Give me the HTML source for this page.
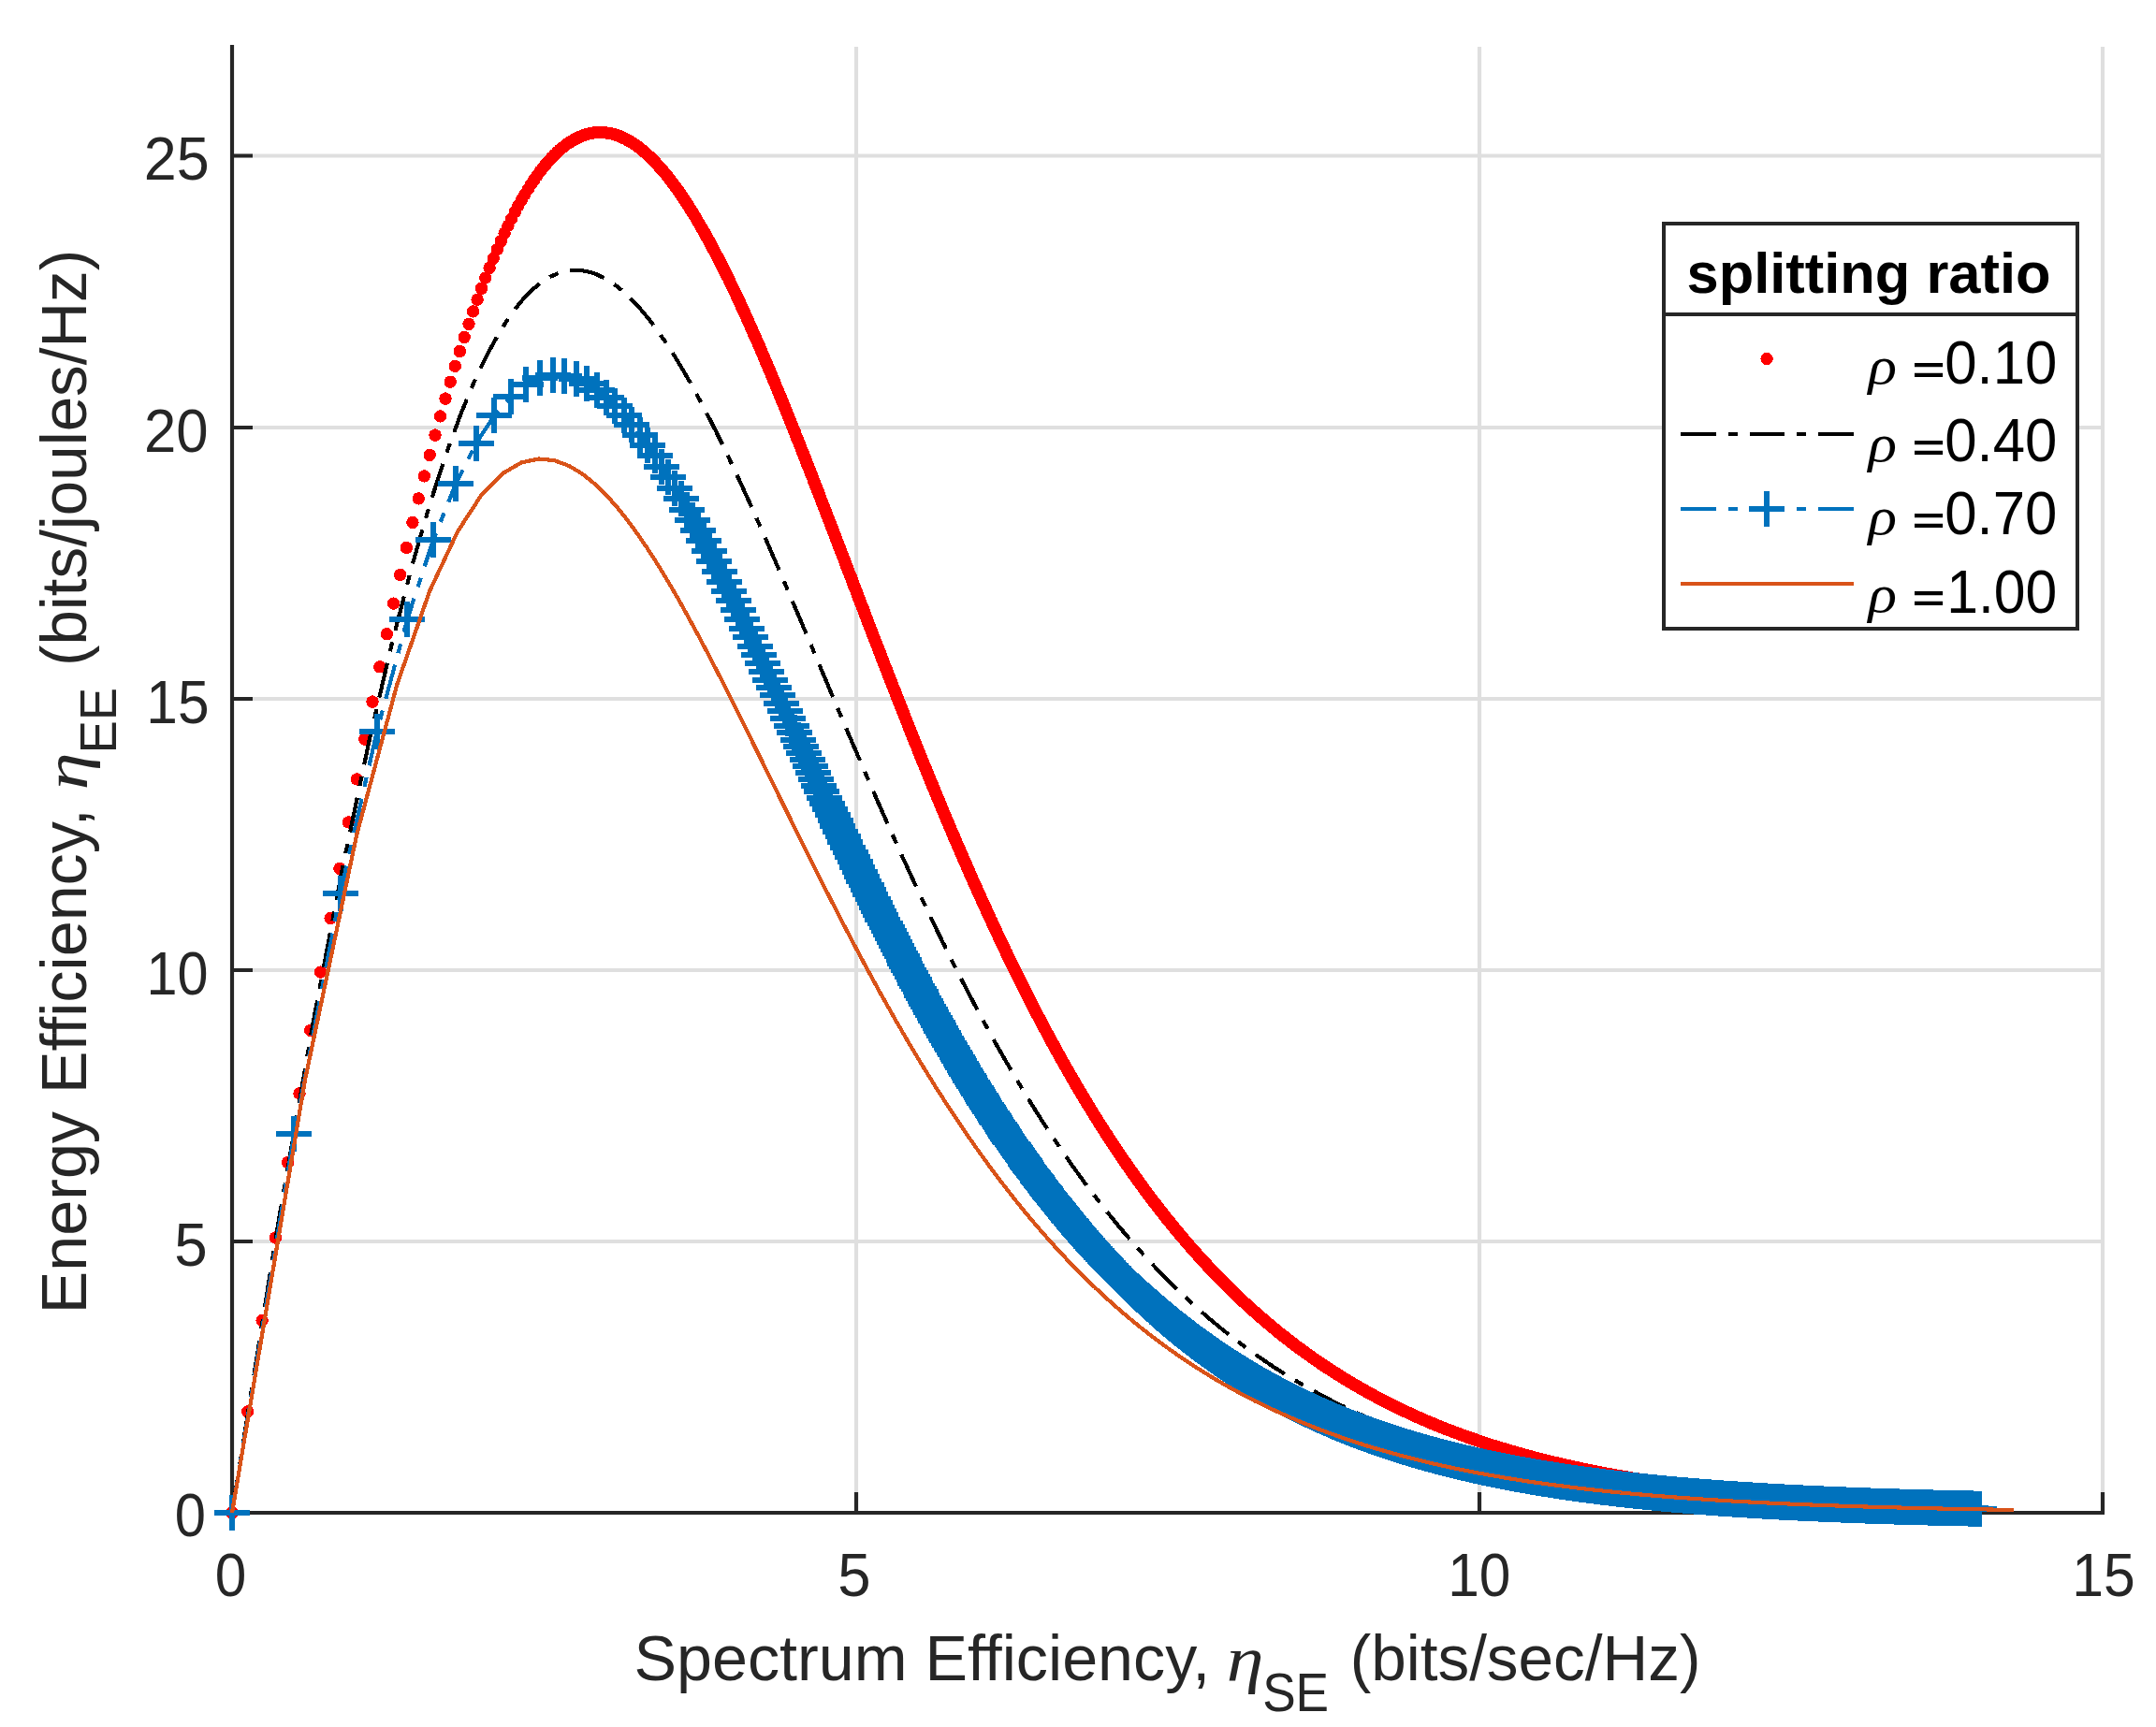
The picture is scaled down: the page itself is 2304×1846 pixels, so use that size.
<!DOCTYPE html>
<html><head><meta charset="utf-8"><title>EE vs SE</title>
<style>html,body{margin:0;padding:0;background:#fff;overflow:hidden}svg{display:block}</style></head><body>
<svg width="2304" height="1846" viewBox="0 0 2304 1846" font-family="'Liberation Sans',sans-serif">
<rect width="2304" height="1846" fill="#fff"/>
<path d="M915,50V1617.0M1581,50V1617.0M2247,50V1617.0M248.0,1327H2247.0M248.0,1037H2247.0M248.0,747H2247.0M248.0,457H2247.0M248.0,166.5H2247.0" stroke="#dfdfdf" stroke-width="4.17" fill="none"/>
<path d="M248.0,48V1617.0M246.0,1617.0H2249.0M915,1617.0v-22M1581,1617.0v-22M2247,1617.0v-22M248.0,1327h22M248.0,1037h22M248.0,747h22M248.0,457h22M248.0,166.5h22" stroke="#262626" stroke-width="4.17" fill="none"/>
<g shape-rendering="crispEdges">
<path d="M248,1617h0M264.7,1508.8h0M280.1,1411.4h0M294.4,1323h0M307.6,1242.6h0M320,1168.9h0M331.7,1101.4h0M342.7,1039.1h0M353.1,981.6h0M362.9,928.3h0M372.3,878.9h0M381.3,832.9h0M389.8,790.1h0M398,750.1h0M405.8,712.8h0M413.4,677.8h0M420.6,645.1h0M427.6,614.4h0M434.4,585.5h0M440.9,558.4h0M447.2,532.9h0M453.3,508.9h0M459.2,486.4h0M465,465.1h0M470.5,445h0M476,426.1h0M481.2,408.2h0M486.3,391.4h0M491.3,375.5h0M496.2,360.5h0M501,346.3h0M505.6,332.9h0M510.1,320.2h0M514.5,308.3h0M518.9,297h0M523.1,286.3h0M527.2,276.3h0M531.3,266.7h0M535.2,257.8h0M539.1,249.3h0M542.9,241.3h0M546.7,233.8h0M550.3,226.7h0M553.9,220h0M557.4,213.7h0M560.9,207.8h0M564.3,202.2h0M567.6,197h0M570.9,192.1h0M574.2,187.5h0M577.3,183.1h0M580.5,179.1h0M583.5,175.4h0M586.6,171.9h0M589.6,168.6h0M592.5,165.6h0M595.4,162.8h0M598.2,160.2h0M601,157.8h0M603.8,155.6h0M606.5,153.6h0M609.2,151.8h0M611.9,150.2h0M614.5,148.7h0M617.1,147.4h0M619.6,146.2h0M622.1,145.2h0M624.6,144.3h0M627.1,143.5h0M629.5,142.9h0M631.9,142.4h0M634.2,142h0M636.6,141.7h0M638.9,141.6h0M641.1,141.5h0M643.4,141.6h0M645.6,141.7h0M647.8,141.9h0M650,142.2h0M652.1,142.6h0M654.2,143.1h0M656.3,143.7h0M658.4,144.3h0M660.5,145h0M662.5,145.8h0M664.5,146.6h0M666.5,147.6h0M668.5,148.5h0M670.4,149.6h0M672.4,150.6h0M674.3,151.8h0M676.2,153h0M678.1,154.2h0M679.9,155.5h0M681.8,156.9h0M683.6,158.2h0M685.4,159.7h0M687.2,161.1h0M688.9,162.7h0M690.7,164.2h0M692.4,165.8h0M694.2,167.4h0M695.9,169.1h0M697.6,170.7h0M699.2,172.4h0M700.9,174.2h0M702.6,176h0M704.2,177.8h0M705.8,179.6h0M707.4,181.4h0M709,183.3h0M710.6,185.2h0M712.2,187.1h0M713.7,189.1h0M715.3,191h0M716.8,193h0M718.3,195h0M719.8,197h0M721.3,199.1h0M722.8,201.1h0M724.3,203.2h0M725.8,205.2h0M727.2,207.3h0M728.6,209.4h0M730.1,211.5h0M731.5,213.7h0M732.9,215.8h0M734.3,218h0M735.7,220.1h0M737.1,222.3h0M738.4,224.5h0M739.8,226.7h0M741.1,228.9h0M742.5,231.1h0M743.8,233.3h0M745.1,235.5h0M746.4,237.7h0M747.8,239.9h0M749,242.2h0M750.3,244.4h0M751.6,246.6h0M752.9,248.9h0M754.1,251.1h0M755.4,253.4h0M756.6,255.7h0M757.9,257.9h0M759.1,260.2h0M760.3,262.5h0M761.5,264.7h0M762.7,267h0M763.9,269.3h0M765.1,271.5h0M766.3,273.8h0M767.5,276.1h0M768.7,278.4h0M769.8,280.6h0M771,282.9h0M772.1,285.2h0M773.3,287.4h0M774.4,289.7h0M775.5,292h0M776.6,294.3h0M777.8,296.5h0M778.9,298.8h0M780,301.1h0M781.1,303.3h0M782.2,305.6h0M783.2,307.9h0M784.3,310.1h0M785.4,312.4h0M786.5,314.6h0M787.5,316.9h0M788.6,319.1h0M789.6,321.4h0M790.7,323.6h0M791.7,325.9h0M792.7,328.1h0M793.7,330.4h0M794.8,332.6h0M795.8,334.8h0M796.8,337h0M797.8,339.3h0M798.8,341.5h0M799.8,343.7h0M800.8,345.9h0M801.8,348.1h0M802.7,350.3h0M803.7,352.5h0M804.7,354.7h0M805.6,356.9h0M806.6,359.1h0M807.6,361.3h0M808.5,363.4h0M809.5,365.6h0M810.4,367.8h0M811.3,369.9h0M812.3,372.1h0M813.2,374.3h0M814.1,376.4h0M815,378.6h0M815.9,380.7h0M816.8,382.8h0M817.8,385h0M818.7,387.1h0M819.5,389.2h0M820.4,391.3h0M821.3,393.4h0M822.2,395.5h0M823.1,397.6h0M824,399.7h0M824.8,401.8h0M825.7,403.9h0M826.6,406h0M827.4,408.1h0M828.3,410.1h0M829.1,412.2h0M830,414.2h0M830.8,416.3h0M831.7,418.3h0M832.5,420.4h0M833.3,422.4h0M834.2,424.5h0M835,426.5h0M835.8,428.5h0M836.7,430.5h0M837.5,432.5h0M838.3,434.5h0M839.1,436.5h0M839.9,438.5h0M840.7,440.5h0M841.5,442.5h0M842.3,444.5h0M843.1,446.5h0M843.9,448.4h0M844.7,450.4h0M845.4,452.3h0M846.2,454.3h0M847,456.2h0M847.8,458.2h0M848.5,460.1h0M849.3,462h0M850.1,464h0M850.8,465.9h0M851.6,467.8h0M852.4,469.7h0M853.1,471.6h0M853.9,473.5h0M854.6,475.4h0M855.3,477.3h0M856.1,479.1h0M856.8,481h0M857.6,482.9h0M858.3,484.7h0M859,486.6h0M859.7,488.5h0M860.5,490.3h0M861.2,492.1h0M861.9,494h0M862.6,495.8h0M863.3,497.6h0M864.1,499.5h0M864.8,501.3h0M865.5,503.1h0M866.2,504.9h0M866.9,506.7h0M867.6,508.5h0M868.3,510.3h0M869,512h0M869.6,513.8h0M870.3,515.6h0M871,517.4h0M871.7,519.1h0M872.4,520.9h0M873.1,522.6h0M873.7,524.4h0M874.4,526.1h0M875.1,527.9h0M875.8,529.6h0M876.4,531.3h0M877.1,533h0M877.7,534.7h0M878.4,536.5h0M879.1,538.2h0M879.7,539.9h0M880.4,541.6h0M881,543.2h0M881.7,544.9h0M882.3,546.6h0M883,548.3h0M883.6,550h0M884.2,551.6h0M884.9,553.3h0M885.5,554.9h0M886.1,556.6h0M886.8,558.2h0M887.4,559.9h0M888,561.5h0M888.7,563.1h0M889.3,564.8h0M889.9,566.4h0M890.5,568h0M891.1,569.6h0M891.8,571.2h0M892.4,572.8h0M893,574.4h0M893.6,576h0M894.2,577.6h0M894.8,579.2h0M895.4,580.7h0M896,582.3h0M896.6,583.9h0M897.2,585.5h0M897.8,587h0M898.4,588.6h0M899,590.1h0M899.6,591.7h0M900.2,593.2h0M900.8,594.7h0M901.3,596.3h0M901.9,597.8h0M902.5,599.3h0M903.1,600.8h0M903.7,602.3h0M904.2,603.9h0M904.8,605.4h0M905.4,606.9h0M906,608.4h0M906.5,609.8h0M907.1,611.3h0M907.7,612.8h0M908.2,614.3h0M908.8,615.8h0M909.4,617.2h0M909.9,618.7h0M910.5,620.2h0M911,621.6h0M911.6,623.1h0M912.1,624.5h0M912.7,626h0M913.2,627.4h0M913.8,628.8h0M914.3,630.3h0M914.9,631.7h0M915.4,633.1h0M916,634.5h0M916.5,635.9h0M917,637.4h0M917.6,638.8h0M918.1,640.2h0M918.7,641.6h0M919.2,643h0M919.7,644.3h0M920.2,645.7h0M920.8,647.1h0M921.3,648.5h0M921.8,649.9h0M922.4,651.2h0M922.9,652.6h0M923.4,654h0M923.9,655.3h0M924.4,656.7h0M925,658h0M925.5,659.4h0M926,660.7h0M926.5,662h0M927,663.4h0M927.5,664.7h0M928,666h0M928.5,667.4h0M929,668.7h0M929.6,670h0M930.1,671.3h0M930.6,672.6h0M931.1,673.9h0M931.6,675.2h0M932.1,676.5h0M932.6,677.8h0M933.1,679.1h0M933.5,680.4h0M934,681.7h0M934.5,683h0M935,684.2h0M935.5,685.5h0M936,686.8h0M936.5,688h0M937,689.3h0M937.5,690.5h0M937.9,691.8h0M938.4,693.1h0M938.9,694.3h0M939.4,695.5h0M939.9,696.8h0M940.3,698h0M940.8,699.3h0M941.3,700.5h0M941.8,701.7h0M942.2,702.9h0M942.7,704.1h0M943.2,705.4h0M943.7,706.6h0M944.1,707.8h0M944.6,709h0M945.1,710.2h0M945.5,711.4h0M946,712.6h0M946.5,713.8h0M946.9,715h0M947.4,716.2h0M947.8,717.3h0M948.3,718.5h0M948.7,719.7h0M949.2,720.9h0M949.7,722h0M950.1,723.2h0M950.6,724.4h0M951,725.5h0M951.5,726.7h0M951.9,727.8h0M952.4,729h0M952.8,730.1h0M953.3,731.3h0M953.7,732.4h0M954.2,733.6h0M954.6,734.7h0M955,735.8h0M955.5,737h0M955.9,738.1h0M956.4,739.2h0M956.8,740.3h0M957.2,741.4h0M957.7,742.6h0M958.1,743.7h0M958.5,744.8h0M959,745.9h0M959.4,747h0M959.8,748.1h0M960.3,749.2h0M960.7,750.3h0M961.1,751.4h0M961.6,752.5h0M962,753.5h0M962.4,754.6h0M962.8,755.7h0M963.3,756.8h0M963.7,757.9h0M964.1,758.9h0M964.5,760h0M964.9,761.1h0M965.4,762.1h0M965.8,763.2h0M966.2,764.2h0M966.6,765.3h0M967,766.3h0M967.4,767.4h0M967.9,768.4h0M968.3,769.5h0M968.7,770.5h0M969.1,771.6h0M969.5,772.6h0M969.9,773.6h0M970.3,774.7h0M970.7,775.7h0M971.1,776.7h0M971.5,777.7h0M972,778.7h0M972.4,779.8h0M972.8,780.8h0M973.2,781.8h0M973.6,782.8h0M974,783.8h0M974.4,784.8h0M974.8,785.8h0M975.2,786.8h0M975.6,787.8h0M976,788.8h0M976.4,789.8h0M976.7,790.8h0M977.1,791.8h0M977.5,792.7h0M977.9,793.7h0M978.3,794.7h0M978.7,795.7h0M979.1,796.6h0M979.5,797.6h0M979.9,798.6h0M980.3,799.5h0M980.7,800.5h0M981,801.5h0M981.4,802.4h0M981.8,803.4h0M982.2,804.3h0M982.6,805.3h0M983,806.2h0M983.3,807.2h0M983.7,808.1h0M984.1,809.1h0M984.5,810h0M984.9,811h0M985.2,811.9h0M985.6,812.8h0M986,813.7h0M986.4,814.7h0M986.7,815.6h0M987.1,816.5h0M987.5,817.4h0M987.9,818.4h0M988.2,819.3h0M988.6,820.2h0M989,821.1h0M989.4,822h0M989.7,822.9h0M990.1,823.8h0M990.5,824.7h0M990.8,825.6h0M991.2,826.5h0M991.6,827.4h0M991.9,828.3h0M992.3,829.2h0M992.7,830.1h0M993,831h0M993.4,831.9h0M993.7,832.8h0M994.1,833.7h0M994.5,834.5h0M994.8,835.4h0M995.2,836.3h0M995.5,837.2h0M995.9,838h0M996.3,838.9h0M996.6,839.8h0M997,840.6h0M997.3,841.5h0M997.7,842.4h0M998,843.2h0M998.4,844.1h0M998.7,844.9h0M999.1,845.8h0M999.4,846.6h0M999.8,847.5h0M1000.1,848.3h0M1000.5,849.2h0M1000.8,850h0M1001.2,850.9h0M1001.5,851.7h0M1001.9,852.5h0M1002.2,853.4h0M1002.6,854.2h0M1002.9,855h0M1003.3,855.9h0M1003.6,856.7h0M1003.9,857.5h0M1004.3,858.3h0M1004.6,859.2h0M1005,860h0M1005.3,860.8h0M1005.7,861.6h0M1006,862.4h0M1006.3,863.2h0M1006.7,864h0M1007,864.8h0M1007.3,865.7h0M1007.7,866.5h0M1008,867.3h0M1008.3,868.1h0M1008.7,868.9h0M1009,869.7h0M1009.4,870.5h0M1009.7,871.2h0M1010,872h0M1010.3,872.8h0M1010.7,873.6h0M1011,874.4h0M1011.3,875.2h0M1011.7,876h0M1012,876.7h0M1012.3,877.5h0M1012.7,878.3h0M1013,879.1h0M1013.3,879.9h0M1013.6,880.6h0M1014,881.4h0M1014.3,882.2h0M1014.6,882.9h0M1014.9,883.7h0M1015.3,884.5h0M1015.6,885.2h0M1015.9,886h0M1016.2,886.7h0M1016.5,887.5h0M1016.9,888.2h0M1017.2,889h0M1017.5,889.8h0M1017.8,890.5h0M1018.1,891.3h0M1018.5,892h0M1018.8,892.7h0M1019.1,893.5h0M1019.4,894.2h0M1019.7,895h0M1020,895.7h0M1020.4,896.4h0M1020.7,897.2h0M1021,897.9h0M1021.3,898.6h0M1021.6,899.4h0M1021.9,900.1h0M1022.2,900.8h0M1022.6,901.6h0M1022.9,902.3h0M1023.2,903h0M1023.5,903.7h0M1023.8,904.4h0M1024.1,905.2h0M1024.4,905.9h0M1024.7,906.6h0M1025,907.3h0M1025.3,908h0M1025.6,908.7h0M1025.9,909.4h0M1026.2,910.1h0M1026.6,910.8h0M1026.9,911.5h0M1027.2,912.2h0M1027.5,912.9h0M1027.8,913.6h0M1028.1,914.3h0M1028.4,915h0M1028.7,915.7h0M1029,916.4h0M1029.3,917.1h0M1029.6,917.8h0M1029.9,918.5h0M1030.2,919.2h0M1030.5,919.9h0M1030.8,920.6h0M1031.1,921.2h0M1031.4,921.9h0M1031.7,922.6h0M1032,923.3h0M1032.3,924h0M1032.6,924.6h0M1032.8,925.3h0M1033.1,926h0M1033.4,926.7h0M1033.7,927.3h0M1034,928h0M1034.3,928.7h0M1034.6,929.3h0M1034.9,930h0M1035.2,930.6h0M1035.5,931.3h0M1035.8,932h0M1036.1,932.6h0M1036.4,933.3h0M1036.6,933.9h0M1036.9,934.6h0M1037.2,935.3h0M1037.5,935.9h0M1037.8,936.6h0M1038.1,937.2h0M1038.4,937.9h0M1038.7,938.5h0M1038.9,939.1h0M1039.2,939.8h0M1039.5,940.4h0M1039.8,941.1h0M1040.1,941.7h0M1040.4,942.4h0M1040.6,943h0M1040.9,943.6h0M1041.2,944.3h0M1041.5,944.9h0M1041.8,945.5h0M1042.1,946.2h0M1042.3,946.8h0M1042.6,947.4h0M1042.9,948h0M1043.2,948.7h0M1043.5,949.3h0M1043.7,949.9h0M1044,950.5h0M1044.3,951.2h0M1044.6,951.8h0M1044.8,952.4h0M1045.1,953h0M1045.4,953.6h0M1045.7,954.2h0M1046,954.9h0M1046.2,955.5h0M1046.5,956.1h0M1046.8,956.7h0M1047.1,957.3h0M1047.3,957.9h0M1047.6,958.5h0M1047.9,959.1h0M1048.1,959.7h0M1048.4,960.3h0M1048.7,960.9h0M1049,961.5h0M1049.2,962.1h0M1049.5,962.7h0M1049.8,963.3h0M1050,963.9h0M1050.3,964.5h0M1050.6,965.1h0M1050.8,965.7h0M1051.1,966.3h0M1051.4,966.9h0M1051.7,967.5h0M1051.9,968h0M1052.2,968.6h0M1052.5,969.2h0M1052.7,969.8h0M1053,970.4h0M1053.3,971h0M1053.5,971.5h0M1053.8,972.1h0M1054,972.7h0M1054.3,973.3h0M1054.6,973.9h0M1054.8,974.4h0M1055.1,975h0M1055.4,975.6h0M1055.6,976.1h0M1055.9,976.7h0M1056.1,977.3h0M1056.4,977.9h0M1056.7,978.4h0M1056.9,979h0M1057.2,979.6h0M1057.4,980.1h0M1057.7,980.7h0M1058,981.2h0M1058.2,981.8h0M1058.5,982.4h0M1058.7,982.9h0M1059,983.5h0M1059.3,984h0M1059.5,984.6h0M1059.8,985.1h0M1060,985.7h0M1060.3,986.2h0M1060.5,986.8h0M1060.8,987.3h0M1061,987.9h0M1061.3,988.4h0M1061.6,989h0M1061.8,989.5h0M1062.1,990.1h0M1062.3,990.6h0M1062.6,991.2h0M1062.8,991.7h0M1063.1,992.3h0M1063.3,992.8h0M1063.6,993.3h0M1063.8,993.9h0M1064.1,994.4h0M1064.3,994.9h0M1064.6,995.5h0M1064.8,996h0M1065.1,996.5h0M1065.3,997.1h0M1065.6,997.6h0M1065.8,998.1h0M1066.1,998.7h0M1066.3,999.2h0M1066.6,999.7h0M1066.8,1000.2h0M1067.1,1000.8h0M1067.3,1001.3h0M1067.6,1001.8h0M1067.8,1002.3h0M1068,1002.9h0M1068.3,1003.4h0M1068.5,1003.9h0M1068.8,1004.4h0M1069,1004.9h0M1069.3,1005.4h0M1069.5,1006h0M1069.8,1006.5h0M1070,1007h0M1070.2,1007.5h0M1070.5,1008h0M1070.7,1008.5h0M1071,1009h0M1071.2,1009.5h0M1071.5,1010h0M1071.7,1010.6h0M1071.9,1011.1h0M1072.2,1011.6h0M1072.4,1012.1h0M1072.7,1012.6h0M1072.9,1013.1h0M1073.1,1013.6h0M1073.4,1014.1h0M1073.6,1014.6h0M1073.9,1015.1h0M1074.1,1015.6h0M1074.3,1016.1h0M1074.6,1016.6h0M1074.8,1017.1h0M1075,1017.6h0M1075.3,1018h0M1075.5,1018.5h0M1075.7,1019h0M1076,1019.5h0M1076.2,1020h0M1076.5,1020.5h0M1076.7,1021h0M1076.9,1021.5h0M1077.2,1022h0M1077.4,1022.4h0M1077.6,1022.9h0M1077.9,1023.4h0M1078.1,1023.9h0M1078.3,1024.4h0M1078.6,1024.9h0M1078.8,1025.3h0M1079,1025.8h0M1079.3,1026.3h0M1079.5,1026.8h0M1079.7,1027.3h0M1079.9,1027.7h0M1080.2,1028.2h0M1080.4,1028.7h0M1080.6,1029.2h0M1080.9,1029.6h0M1081.1,1030.1h0M1081.3,1030.6h0M1081.6,1031h0M1081.8,1031.5h0M1082,1032h0M1082.2,1032.4h0M1082.5,1032.9h0M1082.7,1033.4h0M1082.9,1033.8h0M1083.2,1034.3h0M1083.4,1034.8h0M1083.6,1035.2h0M1083.8,1035.7h0M1084.1,1036.2h0M1084.3,1036.6h0M1084.5,1037.1h0M1084.7,1037.5h0M1085,1038h0M1085.2,1038.5h0M1085.4,1038.9h0M1085.6,1039.4h0M1085.9,1039.8h0M1086.1,1040.3h0M1086.3,1040.7h0M1086.5,1041.2h0M1086.8,1041.6h0M1087,1042.1h0M1087.2,1042.5h0M1087.4,1043h0M1087.6,1043.4h0M1087.9,1043.9h0M1088.1,1044.3h0M1088.3,1044.8h0M1088.5,1045.2h0M1088.7,1045.7h0M1089,1046.1h0M1089.2,1046.6h0M1089.4,1047h0M1089.6,1047.4h0M1089.8,1047.9h0M1090.1,1048.3h0M1090.3,1048.8h0M1090.5,1049.2h0M1090.7,1049.6h0M1090.9,1050.1h0M1091.2,1050.5h0M1091.4,1050.9h0M1091.6,1051.4h0M1091.8,1051.8h0M1092,1052.3h0M1092.2,1052.7h0M1092.5,1053.1h0M1092.7,1053.6h0M1092.9,1054h0M1093.1,1054.4h0M1093.3,1054.8h0M1093.5,1055.3h0M1093.8,1055.7h0M1094,1056.1h0M1094.2,1056.6h0M1094.4,1057h0M1094.6,1057.4h0M1094.8,1057.8h0M1095,1058.3h0M1095.2,1058.7h0M1095.5,1059.1h0M1095.7,1059.5h0M1095.9,1059.9h0M1096.1,1060.4h0M1096.3,1060.8h0M1096.5,1061.2h0M1096.7,1061.6h0M1096.9,1062h0M1097.2,1062.5h0M1097.4,1062.9h0M1097.6,1063.3h0M1097.8,1063.7h0M1098,1064.1h0M1098.2,1064.5h0M1098.4,1064.9h0M1098.6,1065.4h0M1098.8,1065.8h0M1099,1066.2h0M1099.3,1066.6h0M1099.5,1067h0M1099.7,1067.4h0M1099.9,1067.8h0M1100.1,1068.2h0M1100.3,1068.6h0M1100.5,1069h0M1100.7,1069.4h0M1100.9,1069.8h0M1101.1,1070.3h0M1101.3,1070.7h0M1101.5,1071.1h0M1101.7,1071.5h0M1102,1071.9h0M1102.2,1072.3h0M1102.4,1072.7h0M1102.6,1073.1h0M1102.8,1073.5h0M1103,1073.9h0M1103.2,1074.3h0M1103.4,1074.7h0M1103.6,1075.1h0M1103.8,1075.5h0M1104,1075.8h0M1104.2,1076.2h0M1104.4,1076.6h0M1104.6,1077h0M1104.8,1077.4h0M1105,1077.8h0M1105.2,1078.2h0M1105.4,1078.6h0M1105.6,1079h0M1105.8,1079.4h0M1106,1079.8h0M1106.2,1080.2h0M1106.4,1080.5h0M1106.6,1080.9h0M1106.8,1081.3h0M1107,1081.7h0M1107.2,1082.1h0M1107.4,1082.5h0M1107.6,1082.9h0M1107.8,1083.2h0M1108,1083.6h0M1108.2,1084h0M1108.4,1084.4h0M1108.6,1084.8h0M1108.8,1085.2h0M1109,1085.5h0M1109.2,1085.9h0M1109.4,1086.3h0M1109.6,1086.7h0M1109.8,1087h0M1110,1087.4h0M1110.2,1087.8h0M1110.4,1088.2h0M1110.6,1088.6h0M1110.8,1088.9h0M1111,1089.3h0M1111.2,1089.7h0M1111.4,1090h0M1111.6,1090.4h0M1111.8,1090.8h0M1112,1091.2h0M1112.2,1091.5h0M1112.4,1091.9h0M1112.6,1092.3h0M1112.8,1092.6h0M1113,1093h0M1113.1,1093.4h0M1113.3,1093.7h0M1113.5,1094.1h0M1113.7,1094.5h0M1113.9,1094.8h0M1114.1,1095.2h0M1114.3,1095.6h0M1114.5,1095.9h0M1114.7,1096.3h0M1114.9,1096.7h0M1115.1,1097h0M1115.3,1097.4h0M1115.5,1097.8h0M1115.7,1098.1h0M1115.8,1098.5h0M1116,1098.8h0M1116.2,1099.2h0M1116.4,1099.6h0M1116.6,1099.9h0M1116.8,1100.3h0M1117,1100.6h0M1117.2,1101h0M1117.4,1101.3h0M1117.6,1101.7h0M1117.8,1102h0M1117.9,1102.4h0M1118.1,1102.8h0M1118.3,1103.1h0M1118.5,1103.5h0M1118.7,1103.8h0M1118.9,1104.2h0M1119.1,1104.5h0M1119.3,1104.9h0M1119.5,1105.2h0M1119.6,1105.6h0M1119.8,1105.9h0M1120,1106.3h0M1120.2,1106.6h0M1120.4,1107h0M1120.6,1107.3h0M1120.8,1107.7h0M1120.9,1108h0M1121.1,1108.3h0M1121.3,1108.7h0M1121.5,1109h0M1121.7,1109.4h0M1121.9,1109.7h0M1122.1,1110.1h0M1122.3,1110.4h0M1122.4,1110.7h0M1122.6,1111.1h0M1122.8,1111.4h0M1123,1111.8h0M1123.2,1112.1h0M1123.4,1112.5h0M1123.5,1112.8h0M1123.7,1113.1h0M1123.9,1113.5h0M1124.1,1113.8h0M1124.3,1114.1h0M1124.5,1114.5h0M1124.6,1114.8h0M1124.8,1115.1h0M1125,1115.5h0M1125.2,1115.8h0M1125.4,1116.2h0M1125.6,1116.5h0M1125.7,1116.8h0M1125.9,1117.2h0M1126.1,1117.5h0M1126.3,1117.8h0M1126.5,1118.1h0M1126.6,1118.5h0M1126.8,1118.8h0M1127,1119.1h0M1127.2,1119.5h0M1127.4,1119.8h0M1127.5,1120.1h0M1127.7,1120.5h0M1127.9,1120.8h0M1128.1,1121.1h0M1128.3,1121.4h0M1128.4,1121.8h0M1128.6,1122.1h0M1128.8,1122.4h0M1129,1122.7h0M1129.2,1123.1h0M1129.3,1123.4h0M1129.5,1123.7h0M1129.7,1124h0M1129.9,1124.3h0M1130.1,1124.7h0M1130.2,1125h0M1130.4,1125.3h0M1130.6,1125.6h0M1130.8,1126h0M1130.9,1126.3h0M1131.1,1126.6h0M1131.3,1126.9h0M1131.5,1127.2h0M1131.6,1127.5h0M1131.8,1127.9h0M1132,1128.2h0M1132.2,1128.5h0M1132.4,1128.8h0M1132.5,1129.1h0M1132.7,1129.4h0M1132.9,1129.8h0M1133.1,1130.1h0M1133.2,1130.4h0M1133.4,1130.7h0M1133.6,1131h0M1133.8,1131.3h0M1133.9,1131.6h0M1134.1,1131.9h0M1134.3,1132.3h0M1134.5,1132.6h0M1134.6,1132.9h0M1134.8,1133.2h0M1135,1133.5h0M1135.1,1133.8h0M1135.3,1134.1h0M1135.5,1134.4h0M1135.7,1134.7h0M1135.8,1135h0M1136,1135.3h0M1136.2,1135.6h0M1136.4,1136h0M1136.5,1136.3h0M1136.7,1136.6h0M1136.9,1136.9h0M1137,1137.2h0M1137.2,1137.5h0M1137.4,1137.8h0M1137.6,1138.1h0M1137.7,1138.4h0M1137.9,1138.7h0M1138.1,1139h0M1138.2,1139.3h0M1138.4,1139.6h0M1138.6,1139.9h0M1138.7,1140.2h0M1138.9,1140.5h0M1139.1,1140.8h0M1139.3,1141.1h0M1139.4,1141.4h0M1139.6,1141.7h0M1139.8,1142h0M1139.9,1142.3h0M1140.1,1142.6h0M1140.3,1142.9h0M1140.4,1143.2h0M1140.6,1143.5h0M1140.8,1143.8h0M1140.9,1144.1h0M1141.1,1144.4h0M1141.3,1144.6h0M1141.4,1144.9h0M1141.6,1145.2h0M1141.8,1145.5h0M1142,1145.8h0M1142.1,1146.1h0M1142.3,1146.4h0M1142.5,1146.7h0M1142.6,1147h0M1142.8,1147.3h0M1143,1147.6h0M1143.1,1147.9h0M1143.3,1148.1h0M1143.4,1148.4h0M1143.6,1148.7h0M1143.8,1149h0M1143.9,1149.3h0M1144.1,1149.6h0M1144.3,1149.9h0M1144.4,1150.2h0M1144.6,1150.4h0M1144.8,1150.7h0M1144.9,1151h0M1145.1,1151.3h0M1145.3,1151.6h0M1145.4,1151.9h0M1145.6,1152.2h0M1145.8,1152.4h0M1145.9,1152.7h0M1146.1,1153h0M1146.2,1153.3h0M1146.4,1153.6h0M1146.6,1153.8h0M1146.7,1154.1h0M1146.9,1154.4h0M1147.1,1154.7h0M1147.2,1155h0M1147.4,1155.2h0M1147.6,1155.5h0M1147.7,1155.8h0M1147.9,1156.1h0M1148,1156.4h0M1148.2,1156.6h0M1148.4,1156.9h0M1148.5,1157.2h0M1148.7,1157.5h0M1148.8,1157.7h0M1149,1158h0M1149.2,1158.3h0M1149.3,1158.6h0M1149.5,1158.9h0M1149.7,1159.1h0M1149.8,1159.4h0M1150,1159.7h0M1150.1,1159.9h0M1150.3,1160.2h0M1150.5,1160.5h0M1150.6,1160.8h0M1150.8,1161h0M1150.9,1161.3h0M1151.1,1161.6h0M1151.3,1161.9h0M1151.4,1162.1h0M1151.6,1162.4h0M1151.7,1162.7h0M1151.9,1162.9h0M1152,1163.2h0M1152.2,1163.5h0M1152.4,1163.7h0M1152.5,1164h0M1152.7,1164.3h0M1152.8,1164.5h0M1153,1164.8h0M1153.2,1165.1h0M1153.3,1165.3h0M1153.5,1165.6h0M1153.6,1165.9h0M1153.8,1166.1h0M1153.9,1166.4h0M1154.1,1166.7h0M1154.3,1166.9h0M1154.4,1167.2h0M1154.6,1167.5h0M1154.7,1167.7h0M1154.9,1168h0M1155,1168.3h0M1155.2,1168.5h0M1155.3,1168.8h0M1155.5,1169h0M1155.7,1169.3h0M1155.8,1169.6h0M1156,1169.8h0M1156.1,1170.1h0M1156.3,1170.3h0M1156.4,1170.6h0M1156.6,1170.9h0M1156.7,1171.1h0M1156.9,1171.4h0M1157.1,1171.6h0M1157.2,1171.9h0M1157.4,1172.2h0M1157.5,1172.4h0M1157.7,1172.7h0M1157.8,1172.9h0M1158,1173.2h0M1158.1,1173.4h0M1158.3,1173.7h0M1158.4,1174h0M1158.6,1174.2h0M1158.7,1174.5h0M1158.9,1174.7h0M1159.1,1175h0M1159.2,1175.2h0M1159.4,1175.5h0M1159.5,1175.7h0M1159.7,1176h0M1159.8,1176.2h0M1160,1176.5h0M1160.1,1176.7h0M1160.3,1177h0M1160.4,1177.2h0M1160.6,1177.5h0M1160.7,1177.8h0M1160.9,1178h0M1161,1178.3h0M1161.2,1178.5h0M1161.3,1178.8h0M1161.5,1179h0M1161.6,1179.3h0M1161.8,1179.5h0M1161.9,1179.7h0M1162.1,1180h0M1162.2,1180.2h0M1162.4,1180.5h0M1162.5,1180.7h0M1162.7,1181h0M1162.8,1181.2h0M1163,1181.5h0M1163.1,1181.7h0M1163.3,1182h0M1163.4,1182.2h0M1163.6,1182.5h0M1163.7,1182.7h0M1163.9,1182.9h0M1164,1183.2h0M1164.2,1183.4h0M1164.3,1183.7h0M1164.5,1183.9h0M1164.6,1184.2h0M1164.8,1184.4h0M1164.9,1184.7h0M1165.1,1184.9h0M1165.2,1185.1h0M1165.4,1185.4h0M1165.5,1185.6h0M1165.7,1185.9h0M1165.8,1186.1h0M1166,1186.3h0M1166.1,1186.6h0M1166.3,1186.8h0M1166.4,1187.1h0M1166.6,1187.3h0M1166.7,1187.5h0M1166.8,1187.8h0M1167,1188h0M1167.1,1188.3h0M1167.3,1188.5h0M1167.4,1188.7h0M1167.6,1189h0M1167.7,1189.2h0M1167.9,1189.4h0M1168,1189.7h0M1168.2,1189.9h0M1168.3,1190.1h0M1168.5,1190.4h0M1168.6,1190.6h0M1168.7,1190.9h0M1168.9,1191.1h0M1169,1191.3h0M1169.2,1191.6h0M1169.3,1191.8h0M1169.5,1192h0M1169.6,1192.3h0M1169.8,1192.5h0M1169.9,1192.7h0M1170.1,1193h0M1170.2,1193.2h0M1170.3,1193.4h0M1170.5,1193.6h0M1170.6,1193.9h0M1170.8,1194.1h0M1170.9,1194.3h0M1171.1,1194.6h0M1171.2,1194.8h0M1171.3,1195h0M1171.5,1195.3h0M1171.6,1195.5h0M1171.8,1195.7h0M1171.9,1195.9h0M1172.1,1196.2h0M1172.2,1196.4h0M1172.4,1196.6h0M1172.5,1196.9h0M1172.6,1197.1h0M1172.8,1197.3h0M1172.9,1197.5h0M1173.1,1197.8h0M1173.2,1198h0M1173.3,1198.2h0M1173.5,1198.4h0M1173.6,1198.7h0M1173.8,1198.9h0M1173.9,1199.1h0M1174.1,1199.3h0M1174.2,1199.6h0M1174.3,1199.8h0M1174.5,1200h0M1174.6,1200.2h0M1174.8,1200.5h0M1174.9,1200.7h0M1175,1200.9h0M1175.2,1201.1h0M1175.3,1201.4h0M1175.5,1201.6h0M1175.6,1201.8h0M1175.7,1202h0M1175.9,1202.2h0M1176,1202.5h0M1176.2,1202.7h0M1176.3,1202.9h0M1176.4,1203.1h0M1176.6,1203.3h0M1176.7,1203.6h0M1176.9,1203.8h0M1177,1204h0M1177.1,1204.2h0M1177.3,1204.4h0M1177.4,1204.7h0M1177.6,1204.9h0M1177.7,1205.1h0M1177.8,1205.3h0M1178,1205.5h0M1178.1,1205.8h0M1178.3,1206h0M1178.4,1206.2h0M1178.5,1206.4h0M1178.7,1206.6h0M1178.8,1206.8h0M1178.9,1207.1h0M1179.1,1207.3h0M1179.2,1207.5h0M1179.4,1207.7h0M1179.5,1207.9h0M1179.6,1208.1h0M1179.8,1208.3h0M1179.9,1208.6h0M1180,1208.8h0M1180.2,1209h0M1180.3,1209.2h0M1180.5,1209.4h0M1180.6,1209.6h0M1180.7,1209.8h0M1180.9,1210h0M1181,1210.3h0M1181.1,1210.5h0M1181.3,1210.7h0M1181.4,1210.9h0M1181.5,1211.1h0M1181.7,1211.3h0M1181.8,1211.5h0M1182,1211.7h0M1182.1,1211.9h0M1182.2,1212.2h0M1182.4,1212.4h0M1182.5,1212.6h0M1182.6,1212.8h0M1182.8,1213h0M1182.9,1213.2h0M1183,1213.4h0M1183.2,1213.6h0M1183.3,1213.8h0M1183.4,1214h0M1183.6,1214.2h0M1183.7,1214.5h0M1183.8,1214.7h0M1184,1214.9h0M1184.1,1215.1h0M1184.3,1215.3h0M1184.4,1215.5h0M1184.5,1215.7h0M1184.7,1215.9h0M1184.8,1216.1h0M1184.9,1216.3h0M1185.1,1216.5h0M1185.2,1216.7h0M1185.3,1216.9h0M1185.5,1217.1h0M1185.6,1217.3h0M1185.7,1217.5h0M1185.9,1217.7h0M1186,1217.9h0M1186.1,1218.1h0M1186.3,1218.3h0M1186.4,1218.6h0M1186.5,1218.8h0M1186.7,1219h0M1186.8,1219.2h0M1186.9,1219.4h0M1187,1219.6h0M1187.2,1219.8h0M1187.3,1220h0M1187.4,1220.2h0M1187.6,1220.4h0M1187.7,1220.6h0M1187.8,1220.8h0M1188,1221h0M1188.1,1221.2h0M1188.2,1221.4h0M1188.4,1221.6h0M1188.5,1221.8h0M1188.6,1222h0M1188.8,1222.2h0M1188.9,1222.4h0M1189,1222.6h0M1189.2,1222.8h0M1189.3,1223h0M1189.4,1223.2h0M1189.5,1223.4h0M1189.7,1223.6h0M1189.8,1223.7h0M1189.9,1223.9h0M1190.1,1224.1h0M1190.2,1224.3h0M1190.3,1224.5h0M1190.5,1224.7h0M1190.6,1224.9h0M1190.7,1225.1h0M1190.8,1225.3h0M1191,1225.5h0M1191.1,1225.7h0M1191.2,1225.9h0M1191.4,1226.1h0M1191.5,1226.3h0M1191.6,1226.5h0M1191.7,1226.7h0M1191.9,1226.9h0M1192,1227.1h0M1192.1,1227.3h0M1192.3,1227.5h0M1192.4,1227.6h0M1192.5,1227.8h0M1192.7,1228h0M1192.8,1228.2h0M1192.9,1228.4h0M1193,1228.6h0M1193.2,1228.8h0M1193.3,1229h0M1193.4,1229.2h0M1193.5,1229.4h0M1193.7,1229.6h0M1193.8,1229.8h0M1193.9,1229.9h0M1194.1,1230.1h0M1194.2,1230.3h0M1194.3,1230.5h0M1194.4,1230.7h0M1181.5,1211.1L1182,1211.7L1182.4,1212.4L1182.8,1213L1183.2,1213.6L1183.6,1214.2L1184,1214.9L1184.4,1215.5L1184.8,1216.1L1185.2,1216.7L1185.6,1217.3L1186,1217.9L1186.4,1218.6L1186.8,1219.2L1187.2,1219.8L1187.6,1220.4L1188,1221L1188.4,1221.6L1188.8,1222.2L1189.2,1222.8L1189.5,1223.4L1189.9,1223.9L1190.3,1224.5L1190.7,1225.1L1191.1,1225.7L1191.5,1226.3L1191.9,1226.9L1192.3,1227.5L1192.7,1228L1193,1228.6L1193.4,1229.2L1193.8,1229.8L1194.2,1230.3L1194.6,1230.9L1195.1,1231.6L1195.6,1232.4L1196.1,1233.1L1196.6,1233.9L1197.1,1234.6L1197.6,1235.4L1198.1,1236.1L1198.6,1236.8L1199.1,1237.6L1199.6,1238.3L1200.1,1239L1200.6,1239.8L1201.1,1240.5L1201.6,1241.2L1202,1241.9L1202.5,1242.6L1203,1243.3L1203.5,1244L1204,1244.7L1204.5,1245.4L1205,1246.1L1205.4,1246.8L1205.9,1247.5L1206.4,1248.2L1206.9,1248.9L1207.4,1249.5L1207.8,1250.2L1208.3,1250.9L1208.8,1251.6L1209.3,1252.2L1209.7,1252.9L1210.2,1253.6L1210.7,1254.2L1211.1,1254.9L1211.6,1255.6L1212.1,1256.2L1212.5,1256.9L1213,1257.5L1213.4,1258.2L1213.9,1258.8L1214.4,1259.4L1214.8,1260.1L1215.3,1260.7L1215.7,1261.4L1216.2,1262L1216.6,1262.6L1217.1,1263.2L1217.6,1263.9L1218,1264.5L1218.5,1265.1L1218.9,1265.7L1219.3,1266.3L1219.8,1267L1220.2,1267.6L1220.7,1268.2L1221.1,1268.8L1221.6,1269.4L1222,1270L1222.5,1270.6L1222.9,1271.2L1223.3,1271.8L1223.8,1272.4L1224.2,1273L1224.6,1273.5L1225.1,1274.1L1225.5,1274.7L1225.9,1275.3L1226.4,1275.9L1226.8,1276.5L1227.2,1277L1227.7,1277.6L1228.1,1278.2L1228.5,1278.7L1228.9,1279.3L1229.4,1279.9L1229.8,1280.4L1230.2,1281L1230.6,1281.6L1231.1,1282.1L1231.5,1282.7L1231.9,1283.2L1232.3,1283.8L1232.7,1284.3L1233.1,1284.9L1233.6,1285.4L1234,1285.9L1234.4,1286.5L1234.8,1287L1235.2,1287.6L1235.6,1288.1L1236,1288.6L1236.5,1289.2L1236.9,1289.7L1237.3,1290.2L1237.7,1290.7L1238.1,1291.3L1238.5,1291.8L1238.9,1292.3L1239.3,1292.8L1239.7,1293.3L1240.1,1293.9L1240.5,1294.4L1240.9,1294.9L1241.3,1295.4L1241.7,1295.9L1242.1,1296.4L1242.5,1296.9L1242.9,1297.4L1243.3,1297.9L1243.7,1298.4L1244.1,1298.9L1244.5,1299.4L1244.9,1299.9L1245.2,1300.4L1245.6,1300.9L1246,1301.4L1246.4,1301.9L1246.8,1302.4L1247.2,1302.8L1247.6,1303.3L1248,1303.8L1248.3,1304.3L1248.7,1304.8L1249.1,1305.2L1249.5,1305.7L1250,1306.3L1250.4,1306.9L1250.9,1307.5L1251.4,1308.1L1251.9,1308.6L1252.3,1309.2L1252.8,1309.8L1253.3,1310.4L1253.7,1310.9L1254.2,1311.5L1254.7,1312.1L1255.1,1312.6L1255.6,1313.2L1256.1,1313.8L1256.5,1314.3L1257,1314.9L1257.5,1315.4L1257.9,1316L1258.4,1316.5L1258.8,1317.1L1259.3,1317.6L1259.7,1318.2L1260.2,1318.7L1260.6,1319.3L1261.1,1319.8L1261.5,1320.3L1262,1320.9L1262.4,1321.4L1262.9,1321.9L1263.3,1322.4L1263.8,1323L1264.2,1323.5L1264.7,1324L1265.1,1324.5L1265.5,1325L1266,1325.6L1266.4,1326.1L1266.8,1326.6L1267.3,1327.1L1267.7,1327.6L1268.2,1328.1L1268.6,1328.6L1269,1329.1L1269.4,1329.6L1269.9,1330.1L1270.3,1330.6L1270.7,1331.1L1271.2,1331.6L1271.6,1332.1L1272,1332.6L1272.4,1333L1272.9,1333.5L1273.3,1334L1273.7,1334.5L1274.1,1335L1274.5,1335.4L1275,1335.9L1275.4,1336.4L1275.8,1336.9L1276.2,1337.3L1276.6,1337.8L1277,1338.3L1277.5,1338.7L1277.9,1339.2L1278.3,1339.7L1278.7,1340.1L1279.1,1340.6L1279.5,1341L1279.9,1341.5L1280.3,1341.9L1280.7,1342.4L1281.1,1342.8L1281.5,1343.3L1282,1343.7L1282.4,1344.2L1282.8,1344.6L1283.2,1345.1L1283.6,1345.5L1284,1346L1284.4,1346.4L1284.8,1346.8L1285.2,1347.3L1285.6,1347.7L1285.9,1348.1L1286.3,1348.6L1286.7,1349L1287.1,1349.4L1287.5,1349.8L1287.9,1350.3L1288.3,1350.7L1288.7,1351.1L1289.1,1351.5L1289.5,1351.9L1289.9,1352.4L1290.2,1352.8L1290.6,1353.2L1291,1353.6L1291.4,1354L1291.8,1354.4L1292.2,1354.8L1292.6,1355.3L1293.1,1355.8L1293.5,1356.3L1294,1356.8L1294.5,1357.3L1294.9,1357.7L1295.4,1358.2L1295.8,1358.7L1296.3,1359.2L1296.7,1359.6L1297.2,1360.1L1297.6,1360.6L1298,1361L1298.5,1361.5L1298.9,1362L1299.4,1362.4L1299.8,1362.9L1300.3,1363.3L1300.7,1363.8L1301.1,1364.2L1301.6,1364.7L1302,1365.1L1302.5,1365.6L1302.9,1366L1303.3,1366.5L1303.8,1366.9L1304.2,1367.4L1304.6,1367.8L1305,1368.2L1305.5,1368.7L1305.9,1369.1L1306.3,1369.5L1306.8,1370L1307.2,1370.4L1307.6,1370.8L1308,1371.3L1308.5,1371.7L1308.9,1372.1L1309.3,1372.5L1309.7,1372.9L1310.1,1373.4L1310.5,1373.8L1311,1374.2L1311.4,1374.6L1311.8,1375L1312.2,1375.4L1312.6,1375.8L1313,1376.3L1313.4,1376.7L1313.9,1377.1L1314.3,1377.5L1314.7,1377.9L1315.1,1378.3L1315.5,1378.7L1315.9,1379.1L1316.3,1379.5L1316.7,1379.9L1317.1,1380.2L1317.5,1380.6L1317.9,1381L1318.3,1381.4L1318.7,1381.8L1319.1,1382.2L1319.5,1382.6L1319.9,1383L1320.3,1383.3L1320.7,1383.7L1321.1,1384.1L1321.5,1384.5L1321.9,1384.9L1322.3,1385.2L1322.7,1385.6L1323.1,1386L1323.5,1386.3L1323.9,1386.7L1324.2,1387.1L1324.6,1387.5L1325,1387.8L1325.4,1388.2L1325.8,1388.6L1326.2,1388.9L1326.6,1389.3L1326.9,1389.6L1327.4,1390.1L1327.8,1390.5L1328.3,1390.9L1328.7,1391.3L1329.2,1391.7L1329.6,1392.1L1330,1392.5L1330.5,1392.9L1330.9,1393.3L1331.4,1393.7L1331.8,1394.1L1332.2,1394.5L1332.7,1394.9L1333.1,1395.3L1333.5,1395.7L1334,1396.1L1334.4,1396.5L1334.8,1396.9L1335.3,1397.3L1335.7,1397.7L1336.1,1398.1L1336.5,1398.5L1337,1398.9L1337.4,1399.2L1337.8,1399.6L1338.2,1400L1338.7,1400.4L1339.1,1400.8L1339.5,1401.1L1339.9,1401.5L1340.3,1401.9L1340.7,1402.2L1341.2,1402.6L1341.6,1403L1342,1403.4L1342.4,1403.7L1342.8,1404.1L1343.2,1404.4L1343.6,1404.8L1344,1405.2L1344.5,1405.5L1344.9,1405.9L1345.3,1406.2L1345.7,1406.6L1346.1,1407L1346.5,1407.3L1346.9,1407.7L1347.3,1408L1347.7,1408.4L1348.1,1408.7L1348.5,1409L1348.9,1409.4L1349.3,1409.7L1349.7,1410.1L1350.1,1410.4L1350.5,1410.8L1350.9,1411.1L1351.3,1411.4L1351.7,1411.8L1352.1,1412.1L1352.4,1412.4L1352.8,1412.8L1353.2,1413.1L1353.6,1413.4L1354,1413.8L1354.4,1414.1L1354.8,1414.4L1355.2,1414.8L1355.6,1415.1L1355.9,1415.4L1356.3,1415.7L1356.7,1416L1357.1,1416.4L1357.6,1416.8L1358,1417.1L1358.5,1417.5L1358.9,1417.9L1359.3,1418.2L1359.7,1418.6L1360.2,1418.9L1360.6,1419.3L1361,1419.6L1361.5,1420L1361.9,1420.3L1362.3,1420.7L1362.7,1421L1363.2,1421.4L1363.6,1421.7L1364,1422.1L1364.4,1422.4L1364.8,1422.8L1365.3,1423.1L1365.7,1423.4L1366.1,1423.8L1366.5,1424.1L1366.9,1424.5L1367.4,1424.8L1367.8,1425.1L1368.2,1425.4L1368.6,1425.8L1369,1426.1L1369.4,1426.4L1369.8,1426.8L1370.2,1427.1L1370.6,1427.4L1371,1427.7L1371.4,1428.1L1371.9,1428.4L1372.3,1428.7L1372.7,1429L1373.1,1429.3L1373.5,1429.6L1373.9,1430L1374.3,1430.3L1374.7,1430.6L1375.1,1430.9L1375.5,1431.2L1375.9,1431.5L1376.3,1431.8L1376.6,1432.1L1377.4,1432.7L1378.1,1433.3L1378.9,1433.8L1379.6,1434.4L1380.3,1435L1381,1435.5L1381.8,1436.1L1382.5,1436.6L1383,1437L1383.4,1437.3L1383.8,1437.6L1384.2,1437.9L1384.7,1438.3L1385.1,1438.6L1385.5,1438.9L1385.9,1439.2L1386.4,1439.5L1386.8,1439.8L1387.2,1440.2L1387.6,1440.5L1388,1440.8L1388.5,1441.1L1388.9,1441.4L1389.3,1441.7L1389.7,1442L1390.1,1442.3L1390.5,1442.6L1390.9,1442.9L1391.4,1443.2L1391.8,1443.5L1392.2,1443.8L1392.6,1444.1L1393,1444.4L1393.4,1444.7L1393.8,1445L1394.2,1445.3L1395,1445.9L1395.7,1446.4L1396.5,1447L1397.3,1447.5L1398,1448L1398.8,1448.6L1399.5,1449.1L1400.2,1449.6L1401,1450.2L1401.7,1450.7L1402.5,1451.2L1403.2,1451.7L1403.9,1452.2L1404.6,1452.7L1405.4,1453.3L1405.8,1453.5L1406.3,1453.8L1406.7,1454.1L1407.1,1454.4L1407.5,1454.7L1407.9,1455L1408.4,1455.3L1408.8,1455.6L1409.2,1455.9L1409.6,1456.1L1410,1456.4L1410.4,1456.7L1411.2,1457.2L1412,1457.8L1412.8,1458.3L1413.6,1458.8L1414.3,1459.3L1415.1,1459.9L1415.9,1460.4L1416.6,1460.9L1417.4,1461.4L1418.1,1461.9L1418.9,1462.4L1419.6,1462.9L1420.4,1463.4L1421.1,1463.8L1421.9,1464.3L1422.6,1464.8L1423.4,1465.3L1424.1,1465.7L1424.8,1466.2L1425.6,1466.7L1426.4,1467.2L1427.2,1467.7L1428,1468.2L1428.8,1468.7L1429.6,1469.2L1430.3,1469.7L1431.1,1470.2L1431.9,1470.7L1432.7,1471.2L1433.5,1471.7L1434.2,1472.1L1435,1472.6L1435.8,1473.1L1436.5,1473.6L1437.3,1474L1438,1474.5L1438.8,1474.9L1439.5,1475.4L1440.3,1475.8L1441,1476.3L1441.8,1476.7L1442.5,1477.2L1443.2,1477.6L1444,1478.1L1444.8,1478.6L1445.6,1479L1446.4,1479.5L1447.2,1480L1448,1480.4L1448.8,1480.9L1449.5,1481.3L1450.3,1481.8L1451.1,1482.2L1451.9,1482.7L1452.6,1483.1L1453.4,1483.6L1454.1,1484L1454.9,1484.4L1455.7,1484.9L1456.4,1485.3L1457.2,1485.7L1457.9,1486.1L1458.6,1486.5L1459.4,1487L1460.1,1487.4L1460.9,1487.8L1461.7,1488.2L1462.5,1488.7L1463.3,1489.1L1464.1,1489.5L1464.8,1490L1465.6,1490.4L1466.4,1490.8L1467.2,1491.2L1467.9,1491.7L1468.7,1492.1L1469.5,1492.5L1470.2,1492.9L1471,1493.3L1471.7,1493.7L1472.5,1494.1L1473.2,1494.5L1474,1494.9L1474.7,1495.3L1475.5,1495.7L1476.3,1496.1L1477,1496.5L1477.8,1496.9L1478.6,1497.3L1479.4,1497.7L1480.2,1498.1L1481,1498.5L1481.7,1498.9L1482.5,1499.3L1483.3,1499.7L1484,1500.1L1484.8,1500.5L1485.5,1500.8L1486.3,1501.2L1487.1,1501.6L1487.8,1502L1488.5,1502.3L1489.3,1502.7L1490.1,1503.1L1490.8,1503.5L1491.6,1503.9L1492.4,1504.2L1493.2,1504.6L1494,1505L1494.8,1505.4L1495.5,1505.7L1496.3,1506.1L1497.1,1506.5L1497.8,1506.9L1498.6,1507.2L1499.3,1507.6L1500.1,1507.9L1500.8,1508.3L1501.6,1508.6L1502.3,1509L1503.1,1509.3L1503.9,1509.7L1504.7,1510.1L1505.4,1510.4L1506.2,1510.8L1507,1511.2L1507.8,1511.5L1508.6,1511.9L1509.3,1512.2L1510.1,1512.6L1510.8,1512.9L1511.6,1513.3L1512.4,1513.6L1513.1,1513.9L1513.9,1514.3L1514.6,1514.6L1515.4,1514.9L1516.1,1515.3L1516.9,1515.6L1517.7,1516L1518.5,1516.3L1519.3,1516.7L1520,1517L1520.8,1517.3L1521.6,1517.7L1522.4,1518L1523.1,1518.3L1523.9,1518.7L1524.6,1519L1525.4,1519.3L1526.1,1519.6L1526.9,1519.9L1527.7,1520.3L1528.4,1520.6L1529.2,1520.9L1530,1521.3L1530.8,1521.6L1531.6,1521.9L1532.3,1522.2L1533.1,1522.5L1533.9,1522.8L1534.6,1523.2L1535.4,1523.5L1536.1,1523.8L1536.9,1524.1L1537.6,1524.4L1538.4,1524.7L1539.2,1525L1540,1525.3L1540.7,1525.6L1541.5,1526L1542.3,1526.3L1543.1,1526.6L1543.8,1526.9L1544.6,1527.2L1545.4,1527.5L1546.1,1527.8L1546.9,1528.1L1547.6,1528.4L1548.4,1528.6L1549.2,1528.9L1549.9,1529.2L1550.7,1529.5L1551.5,1529.8L1552.3,1530.1L1553,1530.4L1553.8,1530.7L1554.6,1531L1555.3,1531.3L1556.1,1531.6L1556.8,1531.9L1557.6,1532.1L1558.3,1532.4L1559.1,1532.7L1559.9,1533L1560.7,1533.3L1561.5,1533.6L1562.2,1533.9L1563,1534.1L1563.8,1534.4L1564.5,1534.7L1565.3,1535L1566,1535.2L1566.8,1535.5L1567.5,1535.8L1568.3,1536.1L1569.1,1536.3L1569.9,1536.6L1570.7,1536.9L1571.4,1537.2L1572.2,1537.4L1573,1537.7L1573.7,1538L1574.5,1538.2L1575.2,1538.5L1576,1538.7L1576.8,1539L1577.6,1539.3L1578.3,1539.5L1579.1,1539.8L1579.9,1540.1L1580.6,1540.3L1581.4,1540.6L1582.2,1540.9L1582.9,1541.1L1583.7,1541.4L1584.5,1541.6L1585.2,1541.9L1586,1542.1L1586.8,1542.4L1587.6,1542.6L1588.3,1542.9L1589.1,1543.1L1589.9,1543.4L1590.6,1543.6L1591.4,1543.9L1592.1,1544.1L1592.9,1544.4L1593.7,1544.6L1594.4,1544.9L1595.2,1545.1L1596,1545.4L1596.8,1545.6L1597.5,1545.8L1598.3,1546.1L1599.1,1546.3L1599.8,1546.6L1600.6,1546.8L1601.3,1547L1602.1,1547.3L1602.9,1547.5L1603.7,1547.8L1604.4,1548L1605.2,1548.2L1606,1548.5L1606.7,1548.7L1607.5,1548.9L1608.3,1549.1L1609,1549.4L1609.8,1549.6L1610.6,1549.8L1611.3,1550.1L1612.1,1550.3L1612.9,1550.5L1613.6,1550.7L1614.4,1551L1615.2,1551.2L1615.9,1551.4L1616.7,1551.6L1617.5,1551.9L1618.3,1552.1L1619,1552.3L1619.8,1552.5L1620.6,1552.7L1621.3,1553L1622.1,1553.2L1622.8,1553.4L1623.6,1553.6L1624.4,1553.8L1625.2,1554L1625.9,1554.3L1626.7,1554.5L1627.5,1554.7L1628.2,1554.9L1629,1555.1L1629.7,1555.3L1630.5,1555.5L1631.3,1555.7L1632.1,1556L1632.8,1556.2L1633.6,1556.4L1634.4,1556.6L1635.1,1556.8L1635.9,1557L1636.7,1557.2L1637.4,1557.4L1638.2,1557.6L1639,1557.8L1639.8,1558L1640.5,1558.2L1641.3,1558.4L1642,1558.6L1642.8,1558.8L1643.6,1559L1644.4,1559.2L1645.1,1559.4L1645.9,1559.6L1646.7,1559.8L1647.4,1560L1648.2,1560.2L1649,1560.4L1649.7,1560.6L1650.5,1560.8L1651.3,1561L1652,1561.1L1652.8,1561.3L1653.6,1561.5L1654.3,1561.7L1655.1,1561.9L1655.9,1562.1L1656.6,1562.3L1657.4,1562.5L1658.2,1562.7L1658.9,1562.8L1659.7,1563L1660.5,1563.2L1661.2,1563.4L1662,1563.6L1662.8,1563.8L1663.6,1563.9L1664.3,1564.1L1665.1,1564.3L1665.8,1564.5L1666.6,1564.7L1667.4,1564.8L1668.2,1565L1668.9,1565.2L1669.7,1565.4L1670.4,1565.6L1671.2,1565.7L1672,1565.9L1672.8,1566.1L1673.5,1566.3L1674.3,1566.4L1675.1,1566.6L1675.8,1566.8L1676.6,1566.9L1677.4,1567.1L1678.1,1567.3L1678.9,1567.5L1679.7,1567.6L1680.4,1567.8L1681.2,1568L1682,1568.1L1682.7,1568.3L1683.5,1568.5L1684.3,1568.6L1685,1568.8L1685.8,1569L1686.6,1569.1L1687.3,1569.3L1688.1,1569.5L1688.9,1569.6L1689.6,1569.8L1690.4,1570L1691.2,1570.1L1692,1570.3L1692.7,1570.4L1693.5,1570.6L1694.3,1570.8L1695,1570.9L1695.8,1571.1L1696.6,1571.2L1697.3,1571.4L1698.1,1571.6L1698.9,1571.7L1699.6,1571.9L1700.4,1572L1701.2,1572.2L1701.9,1572.3L1702.7,1572.5L1703.5,1572.6L1704.2,1572.8L1705,1572.9L1705.8,1573.1L1706.5,1573.2L1707.3,1573.4L1708.1,1573.5L1708.8,1573.7L1709.6,1573.8L1710.4,1574L1711.1,1574.1L1711.9,1574.3L1712.7,1574.4L1713.4,1574.6L1714.2,1574.7L1715,1574.9L1715.8,1575L1716.5,1575.2L1717.3,1575.3L1718.1,1575.4L1718.8,1575.6L1719.6,1575.7L1720.4,1575.9L1721.1,1576L1721.9,1576.2L1722.7,1576.3L1723.4,1576.4L1724.2,1576.6L1725,1576.7L1725.7,1576.9L1726.5,1577L1727.3,1577.1L1728,1577.3L1728.8,1577.4L1729.6,1577.6L1730.3,1577.7L1731.1,1577.8L1731.9,1578L1732.7,1578.1L1733.4,1578.2L1734.2,1578.4L1735,1578.5L1735.7,1578.6L1736.5,1578.8L1737.3,1578.9L1738,1579L1738.8,1579.2L1739.6,1579.3L1740.3,1579.4L1741.1,1579.5L1741.9,1579.7L1742.6,1579.8L1743.4,1579.9L1744.2,1580.1L1744.9,1580.2L1745.7,1580.3L1746.5,1580.4L1747.2,1580.6L1748,1580.7L1748.8,1580.8L1749.5,1581L1750.3,1581.1L1751.1,1581.2L1751.8,1581.3L1752.6,1581.4L1753.4,1581.6L1754.2,1581.7L1754.9,1581.8L1755.7,1581.9L1756.5,1582.1L1757.2,1582.2L1758,1582.3L1758.8,1582.4L1759.5,1582.5L1760.3,1582.7L1761.1,1582.8L1761.8,1582.9L1762.6,1583L1763.4,1583.1L1764.1,1583.3L1764.9,1583.4L1765.7,1583.5L1766.4,1583.6L1767.2,1583.7L1768,1583.8L1768.7,1583.9L1769.5,1584.1L1770.3,1584.2L1771.1,1584.3L1771.8,1584.4L1772.6,1584.5L1773.4,1584.6L1774.1,1584.7L1774.9,1584.9L1775.6,1585L1776.4,1585.1L1777.2,1585.2L1778,1585.3L1778.7,1585.4L1779.5,1585.5L1780.3,1585.6L1781,1585.7L1781.8,1585.8L1782.6,1586L1783.3,1586.1L1784.1,1586.2L1784.9,1586.3L1785.6,1586.4L1786.4,1586.5L1787.2,1586.6L1787.9,1586.7L1788.7,1586.8L1789.5,1586.9L1790.2,1587L1791,1587.1L1791.8,1587.2L1792.5,1587.3L1793.3,1587.4L1794.1,1587.5L1794.9,1587.6L1795.6,1587.7L1796.4,1587.8L1797.2,1587.9L1797.9,1588L1798.7,1588.1L1799.5,1588.2L1800.2,1588.3L1801,1588.4L1801.8,1588.5L1802.5,1588.6L1803.3,1588.7L1804.1,1588.8L1804.8,1588.9L1805.6,1589L1806.4,1589.1L1807.1,1589.2L1807.9,1589.3L1808.7,1589.4L1809.4,1589.5L1810.2,1589.6L1811,1589.7L1811.7,1589.8L1812.5,1589.9L1813.3,1590L1814,1590.1L1814.8,1590.2L1815.6,1590.3L1816.4,1590.4L1817.1,1590.5L1817.9,1590.6L1818.7,1590.7L1819.4,1590.7L1820.2,1590.8L1821,1590.9L1821.7,1591L1822.5,1591.1L1823.3,1591.2L1824,1591.3L1824.4,1591.3" stroke="#ff0000" stroke-width="13.4" stroke-linecap="round" stroke-linejoin="round" fill="none"/>
<path d="M248,1617L296.3,1313.6L334.9,1091.5L367,923L394.5,792.1L418.6,688.6L440,605.9L459.2,539.3L476.7,485.5L492.7,441.8L507.5,406.3L521.3,377.7L534.1,354.6L546.1,336.1L557.4,321.6L568.1,310.4L578.2,302L587.9,295.9L597,291.9L605.8,289.5L614.1,288.7L622.1,289.2L629.8,290.7L637.2,293.2L644.3,296.5L651.2,300.4L657.8,305L664.2,310.1L670.4,315.7L676.5,321.6L682.3,327.9L687.9,334.4L693.4,341.2L698.8,348.1L704,355.3L709,362.5L714,369.9L718.8,377.4L723.5,384.9L728,392.4L732.5,400.1L736.9,407.7L741.1,415.3L745.3,423L749.4,430.6L753.4,438.2L757.3,445.8L761.2,453.3L765,460.8L768.7,468.3L772.3,475.7L775.8,483.1L779.3,490.4L782.8,497.7L786.1,504.9L789.5,512L792.7,519.1L795.9,526.1L799.1,533L802.2,539.9L805.2,546.7L808.2,553.4L811.2,560.1L814.1,566.7L817,573.3L819.8,579.7L822.6,586.1L825.3,592.5L828,598.7L830.7,604.9L833.3,611L835.9,617.1L838.5,623.1L841,629L843.5,634.9L846,640.7L848.4,646.4L850.8,652.1L853.2,657.7L855.6,663.2L857.9,668.7L860.2,674.1L862.4,679.5L864.7,684.8L866.9,690L869.1,695.2L871.2,700.4L873.4,705.4L875.5,710.4L877.6,715.4L879.6,720.3L881.7,725.2L883.7,729.9L885.7,734.7L887.7,739.4L889.6,744L891.6,748.6L893.5,753.2L895.4,757.7L897.3,762.1L899.2,766.5L901,770.9L902.8,775.2L904.7,779.4L906.4,783.7L908.2,787.8L910,792L911.7,796.1L913.5,800.1L915.2,804.1L916.9,808.1L918.6,812L920.2,815.9L921.9,819.7L923.6,823.5L925.2,827.3L926.8,831L928.4,834.7L930,838.4L931.6,842L933.1,845.6L934.7,849.1L936.2,852.6L937.7,856.1L939.3,859.6L940.8,863L942.2,866.4L943.7,869.7L945.2,873L946.6,876.3L948.1,879.6L949.5,882.8L951,886L952.4,889.2L953.8,892.3L955.2,895.4L956.5,898.5L957.9,901.5L959.3,904.6L960.6,907.6L962,910.5L963.3,913.5L964.6,916.4L966,919.3L967.3,922.1L968.6,925L969.9,927.8L971.1,930.6L972.4,933.4L973.7,936.1L974.9,938.8L976.2,941.5L977.4,944.2L978.7,946.8L979.9,949.5L981.1,952.1L982.3,954.7L983.5,957.2L984.7,959.8L985.9,962.3L987.1,964.8L988.2,967.2L989.4,969.7L990.6,972.1L991.7,974.6L992.9,977L994,979.3L995.1,981.7L996.3,984L997.4,986.4L998.5,988.7L999.6,990.9L1000.7,993.2L1001.8,995.5L1002.9,997.7L1003.9,999.9L1005,1002.1L1006.1,1004.3L1007.1,1006.5L1008.2,1008.6L1009.3,1010.7L1010.3,1012.8L1011.3,1014.9L1012.4,1017L1013.4,1019.1L1014.4,1021.1L1015.4,1023.2L1016.5,1025.2L1017.5,1027.2L1018.5,1029.2L1019.5,1031.2L1020.4,1033.1L1021.4,1035.1L1022.4,1037L1023.4,1039L1024.4,1040.9L1025.3,1042.8L1026.3,1044.6L1027.2,1046.5L1028.2,1048.3L1029.1,1050.2L1030.1,1052L1031,1053.8L1032,1055.6L1032.9,1057.4L1033.8,1059.2L1034.7,1061L1035.6,1062.7L1036.6,1064.5L1037.5,1066.2L1038.4,1067.9L1039.3,1069.6L1040.2,1071.3L1041.1,1073L1041.9,1074.7L1042.8,1076.3L1043.7,1078L1044.6,1079.6L1045.4,1081.2L1046.3,1082.8L1047.2,1084.4L1048,1086L1048.9,1087.6L1049.7,1089.2L1050.6,1090.8L1051.4,1092.3L1052.3,1093.9L1053.1,1095.4L1053.9,1096.9L1054.8,1098.4L1055.6,1099.9L1056.4,1101.4L1057.2,1102.9L1058,1104.4L1058.9,1105.9L1059.7,1107.3L1060.5,1108.8L1061.3,1110.2L1062.1,1111.7L1062.9,1113.1L1063.6,1114.5L1064.4,1115.9L1065.2,1117.3L1066,1118.7L1066.8,1120.1L1067.6,1121.4L1068.3,1122.8L1069.1,1124.2L1069.9,1125.5L1070.6,1126.8L1071.4,1128.2L1072.1,1129.5L1072.9,1130.8L1073.6,1132.1L1074.4,1133.4L1075.1,1134.7L1075.9,1136L1076.6,1137.3L1077.4,1138.5L1078.1,1139.8L1078.8,1141.1L1079.6,1142.3L1080.3,1143.5L1081,1144.8L1081.7,1146L1082.4,1147.2L1083.2,1148.4L1083.9,1149.7L1084.6,1150.9L1085.3,1152L1086,1153.2L1086.7,1154.4L1087.4,1155.6L1088.1,1156.7L1088.8,1157.9L1089.5,1159.1L1090.2,1160.2L1090.8,1161.4L1091.5,1162.5L1092.2,1163.6L1092.9,1164.7L1093.6,1165.9L1094.2,1167L1094.9,1168.1L1095.6,1169.2L1096.3,1170.3L1096.9,1171.4L1097.6,1172.4L1098.2,1173.5L1098.9,1174.6L1099.6,1175.6L1100.2,1176.7L1100.9,1177.8L1101.5,1178.8L1102.2,1179.8L1102.8,1180.9L1103.4,1181.9L1104.1,1182.9L1104.7,1184L1105.4,1185L1106,1186L1106.6,1187L1107.3,1188L1107.9,1189L1108.5,1190L1109.1,1191L1109.8,1191.9L1110.4,1192.9L1111,1193.9L1111.6,1194.9L1112.2,1195.8L1112.8,1196.8L1113.5,1197.7L1114.1,1198.7L1114.7,1199.6L1115.3,1200.5L1115.9,1201.5L1116.5,1202.4L1117.1,1203.3L1117.7,1204.3L1118.3,1205.2L1118.9,1206.1L1119.5,1207L1120,1207.9L1120.6,1208.8L1121.2,1209.7L1121.8,1210.6L1122.4,1211.4L1123,1212.3L1123.5,1213.2L1124.1,1214.1L1124.7,1214.9L1125.3,1215.8L1125.8,1216.7L1126.4,1217.5L1127,1218.4L1127.5,1219.2L1128.1,1220.1L1128.7,1220.9L1129.2,1221.7L1129.8,1222.6L1130.4,1223.4L1130.9,1224.2L1131.5,1225L1132,1225.9L1132.6,1226.7L1133.1,1227.5L1133.7,1228.3L1134.2,1229.1L1134.8,1229.9L1135.3,1230.7L1135.9,1231.5L1136.4,1232.3L1136.9,1233.1L1137.5,1233.8L1138,1234.6L1138.6,1235.4L1139.1,1236.2L1139.6,1236.9L1140.2,1237.7L1140.7,1238.5L1141.2,1239.2L1141.7,1240L1142.3,1240.7L1142.8,1241.5L1143.3,1242.2L1143.8,1242.9L1144.3,1243.7L1144.9,1244.4L1145.4,1245.1L1145.9,1245.9L1146.4,1246.6L1146.9,1247.3L1147.4,1248L1147.9,1248.8L1148.5,1249.5L1149,1250.2L1149.5,1250.9L1150,1251.6L1150.5,1252.3L1151,1253L1151.5,1253.7L1152,1254.4L1152.5,1255.1L1153,1255.8L1153.5,1256.4L1154,1257.1L1154.5,1257.8L1154.9,1258.5L1155.4,1259.1L1155.9,1259.8L1156.4,1260.5L1156.9,1261.1L1157.4,1261.8L1157.9,1262.5L1158.4,1263.1L1158.8,1263.8L1159.3,1264.4L1159.8,1265.1L1160.3,1265.7L1160.8,1266.4L1161.2,1267L1161.7,1267.6L1162.2,1268.3L1162.6,1268.9L1163.1,1269.5L1163.6,1270.2L1164.1,1270.8L1164.5,1271.4L1165,1272L1165.5,1272.7L1165.9,1273.3L1166.4,1273.9L1166.8,1274.5L1167.3,1275.1L1167.8,1275.7L1168.2,1276.3L1168.7,1276.9L1169.1,1277.5L1169.6,1278.1L1170.1,1278.7L1170.5,1279.3L1171,1279.9L1171.4,1280.5L1171.9,1281.1L1172.3,1281.7L1172.8,1282.2L1173.2,1282.8L1173.7,1283.4L1174.1,1284L1174.5,1284.5L1175,1285.1L1175.4,1285.7L1175.9,1286.2L1176.3,1286.8L1176.7,1287.4L1177.2,1287.9L1177.6,1288.5L1178.1,1289L1178.5,1289.6L1178.9,1290.1L1179.4,1290.7L1179.8,1291.2L1180.2,1291.8L1180.7,1292.3L1181.1,1292.9L1181.5,1293.4L1181.9,1294L1182.4,1294.5L1182.8,1295L1183.2,1295.6L1183.6,1296.1L1184.1,1296.6L1184.5,1297.1L1184.9,1297.7L1185.3,1298.2L1185.7,1298.7L1186.2,1299.2L1186.6,1299.7L1187,1300.3L1187.4,1300.8L1187.8,1301.3L1188.2,1301.8L1188.6,1302.3L1189.1,1302.8L1189.5,1303.3L1189.9,1303.8L1190.3,1304.3L1190.7,1304.8L1191.1,1305.3L1191.5,1305.8L1191.9,1306.3L1192.3,1306.8L1192.7,1307.3L1193.1,1307.8L1193.5,1308.3L1193.9,1308.7L1194.3,1309.2L1194.7,1309.7L1195.1,1310.2L1195.5,1310.7L1195.9,1311.1L1196.3,1311.6L1196.7,1312.1L1197.1,1312.6L1197.5,1313L1197.9,1313.5L1198.3,1314L1198.7,1314.4L1199.1,1314.9L1199.5,1315.4L1199.9,1315.8L1200.2,1316.3L1200.6,1316.8L1201,1317.2L1201.4,1317.7L1201.8,1318.1L1202.2,1318.6L1202.6,1319L1202.9,1319.5L1203.3,1319.9L1203.7,1320.4L1204.1,1320.8L1204.5,1321.3L1204.8,1321.7L1205.2,1322.1L1205.6,1322.6L1206,1323L1206.4,1323.4L1206.7,1323.9L1207.1,1324.3L1207.5,1324.7L1207.8,1325.2L1208.2,1325.6L1208.6,1326L1209,1326.5L1209.3,1326.9L1209.7,1327.3L1210.1,1327.7L1210.4,1328.2L1210.8,1328.6L1211.2,1329L1211.5,1329.4L1211.9,1329.8L1212.3,1330.2L1212.6,1330.7L1213,1331.1L1213.4,1331.5L1213.7,1331.9L1214.1,1332.3L1214.4,1332.7L1214.8,1333.1L1215.2,1333.5L1215.5,1333.9L1215.9,1334.3L1216.2,1334.7L1216.6,1335.1L1217,1335.5L1217.3,1335.9L1217.7,1336.3L1218,1336.7L1218.4,1337.1L1218.7,1337.5L1219.1,1337.9L1219.4,1338.3L1219.8,1338.7L1220.1,1339L1220.5,1339.4L1220.8,1339.8L1221.2,1340.2L1221.5,1340.6L1221.9,1341L1222.2,1341.3L1222.6,1341.7L1222.9,1342.1L1223.3,1342.5L1223.6,1342.9L1223.9,1343.2L1224.3,1343.6L1224.6,1344L1225,1344.3L1225.3,1344.7L1225.6,1345.1L1226,1345.5L1226.7,1346.2L1227.3,1346.9L1228,1347.6L1228.7,1348.4L1229.4,1349.1L1230,1349.8L1230.7,1350.5L1231.3,1351.2L1232,1351.9L1232.7,1352.6L1233.3,1353.3L1234,1354L1234.6,1354.7L1235.3,1355.3L1235.9,1356L1236.6,1356.7L1237.2,1357.4L1237.8,1358L1238.5,1358.7L1239.1,1359.3L1239.7,1360L1240.4,1360.6L1241,1361.3L1241.6,1361.9L1242.2,1362.6L1242.9,1363.2L1243.5,1363.8L1244.1,1364.5L1244.7,1365.1L1245.3,1365.7L1246,1366.3L1246.6,1367L1247.2,1367.6L1247.8,1368.2L1248.4,1368.8L1249,1369.4L1249.6,1370L1250.2,1370.6L1250.8,1371.2L1251.4,1371.8L1252,1372.4L1252.6,1372.9L1253.2,1373.5L1253.7,1374.1L1254.3,1374.7L1254.9,1375.2L1255.5,1375.8L1256.1,1376.4L1256.7,1376.9L1257.2,1377.5L1257.8,1378.1L1258.4,1378.6L1259,1379.2L1259.5,1379.7L1260.1,1380.3L1260.7,1380.8L1261.2,1381.4L1261.8,1381.9L1262.4,1382.4L1262.9,1383L1263.5,1383.5L1264,1384L1264.6,1384.5L1265.2,1385.1L1265.7,1385.6L1266.3,1386.1L1266.8,1386.6L1267.4,1387.1L1267.9,1387.6L1268.4,1388.2L1269,1388.7L1269.5,1389.2L1270.1,1389.7L1270.6,1390.2L1271.2,1390.7L1271.7,1391.1L1272.2,1391.6L1272.8,1392.1L1273.3,1392.6L1273.8,1393.1L1274.3,1393.6L1274.9,1394.1L1275.4,1394.5L1275.9,1395L1276.4,1395.5L1277,1396L1277.5,1396.4L1278,1396.9L1278.5,1397.4L1279,1397.8L1279.6,1398.3L1280.1,1398.7L1280.6,1399.2L1281.1,1399.6L1281.6,1400.1L1282.1,1400.6L1282.6,1401L1283.1,1401.4L1283.6,1401.9L1284.1,1402.3L1284.6,1402.8L1285.1,1403.2L1285.6,1403.6L1286.1,1404.1L1286.6,1404.5L1287.1,1404.9L1287.6,1405.4L1288.1,1405.8L1288.6,1406.2L1289.1,1406.6L1289.6,1407.1L1290,1407.5L1290.5,1407.9L1291,1408.3L1291.5,1408.7L1292,1409.1L1292.5,1409.6L1292.9,1410L1293.4,1410.4L1293.9,1410.8L1294.4,1411.2L1294.9,1411.6L1295.3,1412L1295.8,1412.4L1296.3,1412.8L1296.7,1413.2L1297.2,1413.6L1297.7,1414L1298.1,1414.3L1298.6,1414.7L1299.1,1415.1L1299.5,1415.5L1300,1415.9L1300.5,1416.3L1300.9,1416.6L1301.4,1417L1301.8,1417.4L1302.3,1417.8L1302.8,1418.2L1303.2,1418.5L1303.7,1418.9L1304.1,1419.3L1304.6,1419.6L1305,1420L1305.5,1420.4L1305.9,1420.7L1306.4,1421.1L1306.8,1421.5L1307.3,1421.8L1307.7,1422.2L1308.1,1422.5L1308.6,1422.9L1309,1423.2L1309.5,1423.6L1309.9,1423.9L1310.3,1424.3L1310.8,1424.6L1311.2,1425L1311.6,1425.3L1312.1,1425.7L1312.5,1426L1312.9,1426.4L1313.4,1426.7L1313.8,1427L1314.2,1427.4L1314.7,1427.7L1315.1,1428L1315.5,1428.4L1315.9,1428.7L1316.4,1429L1316.8,1429.4L1317.2,1429.7L1317.6,1430L1318.1,1430.4L1318.5,1430.7L1318.9,1431L1319.3,1431.3L1319.7,1431.6L1320.2,1432L1320.6,1432.3L1321,1432.6L1321.4,1432.9L1321.8,1433.2L1322.2,1433.5L1322.6,1433.9L1323,1434.2L1323.5,1434.5L1323.9,1434.8L1324.3,1435.1L1324.7,1435.4L1325.1,1435.7L1325.5,1436L1325.9,1436.3L1326.3,1436.6L1326.7,1436.9L1327.1,1437.2L1327.5,1437.5L1328.1,1438L1328.7,1438.4L1329.3,1438.9L1329.9,1439.3L1330.5,1439.7L1331.1,1440.2L1331.7,1440.6L1332.2,1441L1332.8,1441.5L1333.4,1441.9L1334,1442.3L1334.6,1442.7L1335.2,1443.2L1335.7,1443.6L1336.3,1444L1336.9,1444.4L1337.4,1444.8L1338,1445.2L1338.6,1445.6L1339.1,1446L1339.7,1446.4L1340.3,1446.8L1340.8,1447.2L1341.4,1447.6L1342,1448L1342.5,1448.4L1343.1,1448.8L1343.6,1449.2L1344.2,1449.6L1344.7,1450L1345.3,1450.4L1345.8,1450.7L1346.4,1451.1L1346.9,1451.5L1347.4,1451.9L1348,1452.2L1348.5,1452.6L1349.1,1453L1349.6,1453.4L1350.1,1453.7L1350.7,1454.1L1351.2,1454.4L1351.7,1454.8L1352.3,1455.2L1352.8,1455.5L1353.3,1455.9L1353.8,1456.2L1354.4,1456.6L1354.9,1456.9L1355.4,1457.3L1355.9,1457.6L1356.4,1458L1356.9,1458.3L1357.5,1458.7L1358,1459L1358.5,1459.3L1359,1459.7L1359.5,1460L1360,1460.4L1360.5,1460.7L1361,1461L1361.5,1461.4L1362,1461.7L1362.5,1462L1363,1462.3L1363.5,1462.7L1364,1463L1364.5,1463.3L1365,1463.6L1365.5,1463.9L1366,1464.3L1366.5,1464.6L1367,1464.9L1367.5,1465.2L1368,1465.5L1368.4,1465.8L1368.9,1466.1L1369.4,1466.4L1369.9,1466.7L1370.4,1467L1370.9,1467.3L1371.3,1467.7L1371.8,1468L1372.3,1468.3L1372.8,1468.5L1373.2,1468.8L1373.7,1469.1L1374.2,1469.4L1374.7,1469.7L1375.1,1470L1375.6,1470.3L1376.1,1470.6L1376.5,1470.9L1377,1471.2L1377.5,1471.5L1377.9,1471.7L1378.4,1472L1378.8,1472.3L1379.3,1472.6L1379.8,1472.9L1380.2,1473.1L1380.7,1473.4L1381.1,1473.7L1381.6,1474L1382,1474.3L1382.5,1474.5L1382.9,1474.8L1383.4,1475.1L1383.8,1475.3L1384.3,1475.6L1384.7,1475.9L1385.2,1476.1L1385.6,1476.4L1386.1,1476.7L1386.5,1476.9L1386.9,1477.2L1387.4,1477.5L1387.8,1477.7L1388.3,1478L1388.7,1478.2L1389.1,1478.5L1389.6,1478.7L1390,1479L1390.4,1479.2L1390.9,1479.5L1391.6,1479.9L1392.3,1480.3L1393,1480.7L1393.7,1481.2L1394.4,1481.6L1395.1,1482L1395.8,1482.4L1396.5,1482.8L1397.2,1483.2L1397.9,1483.6L1398.6,1484L1399.3,1484.3L1400,1484.7L1400.7,1485.1L1401.4,1485.5L1402.1,1485.9L1402.7,1486.3L1403.4,1486.6L1404.1,1487L1404.8,1487.4L1405.4,1487.7L1406.1,1488.1L1406.8,1488.5L1407.4,1488.8L1408.1,1489.2L1408.7,1489.6L1409.4,1489.9L1410,1490.3L1410.7,1490.6L1411.3,1491L1412,1491.3L1412.6,1491.7L1413.3,1492L1414,1492.4L1414.5,1492.7L1415.1,1493L1415.6,1493.2L1416.1,1493.5L1416.6,1493.8L1417.1,1494L1417.6,1494.3L1418.1,1494.5L1418.6,1494.8L1419.1,1495.1L1419.6,1495.3L1420.1,1495.6L1420.6,1495.8L1421.1,1496.1L1421.5,1496.3L1422,1496.6L1422.5,1496.9L1423,1497.1L1423.5,1497.4L1424,1497.6L1424.5,1497.8L1424.9,1498.1L1425.4,1498.3L1425.9,1498.6L1426.4,1498.8L1426.9,1499.1L1427.3,1499.3L1427.8,1499.5L1428.3,1499.8L1428.8,1500L1429.2,1500.3L1429.7,1500.5L1430.2,1500.7L1430.7,1501L1431.1,1501.2L1431.6,1501.4L1432.1,1501.7L1432.5,1501.9L1433,1502.1L1433.4,1502.3L1433.9,1502.6L1434.4,1502.8L1434.8,1503L1435.3,1503.2L1435.7,1503.5L1436.2,1503.7L1436.6,1503.9L1437.1,1504.1L1437.5,1504.3L1438,1504.6L1438.8,1504.9L1439.6,1505.3L1440.4,1505.7L1441.1,1506.1L1441.9,1506.4L1442.7,1506.8L1443.4,1507.2L1444.2,1507.5L1445,1507.9L1445.7,1508.2L1446.5,1508.6L1447.2,1508.9L1448,1509.3L1448.7,1509.6L1449.5,1510L1450.2,1510.3L1451,1510.7L1451.7,1511L1452.4,1511.3L1453.2,1511.7L1453.9,1512L1454.6,1512.3L1455.3,1512.7L1456.1,1513L1456.8,1513.3L1457.5,1513.6L1458.2,1513.9L1458.9,1514.2L1459.6,1514.6L1460.3,1514.9L1461,1515.2L1461.7,1515.5L1462.4,1515.8L1463.1,1516.1L1463.8,1516.4L1464.5,1516.7L1465.2,1517L1465.9,1517.3L1466.5,1517.6L1467.2,1517.9L1467.9,1518.2L1468.6,1518.4L1469.3,1518.8L1469.8,1519L1470.3,1519.2L1470.8,1519.4L1471.2,1519.6L1471.7,1519.8L1472.2,1520L1472.7,1520.2L1473.1,1520.4L1473.6,1520.6L1474.1,1520.8L1474.5,1521L1475,1521.2L1475.5,1521.3L1475.9,1521.5L1476.7,1521.9L1477.6,1522.2L1478.4,1522.6L1479.2,1522.9L1480,1523.2L1480.8,1523.6L1481.7,1523.9L1482.5,1524.2L1483.3,1524.5L1484.1,1524.9L1484.9,1525.2L1485.7,1525.5L1486.4,1525.8L1487.2,1526.1L1488,1526.4L1488.8,1526.7L1489.6,1527L1490.3,1527.3L1491.1,1527.6L1491.9,1527.9L1492.6,1528.2L1493.4,1528.5L1494.2,1528.8L1494.9,1529.1L1495.7,1529.4L1496.4,1529.7L1497.2,1530L1497.9,1530.2L1498.7,1530.5L1499.4,1530.8L1500.1,1531.1L1500.9,1531.3L1501.6,1531.6L1502.3,1531.9L1503,1532.2L1503.8,1532.4L1504.5,1532.7L1505.2,1532.9L1505.9,1533.2L1506.6,1533.5L1507.3,1533.7L1508,1534L1508.7,1534.2L1509.4,1534.5L1510.1,1534.7L1510.8,1535L1511.5,1535.2L1512.3,1535.5L1513.1,1535.8L1514,1536.1L1514.8,1536.4L1515.6,1536.7L1516.5,1537L1517.3,1537.3L1518.1,1537.6L1518.9,1537.8L1519.7,1538.1L1520.5,1538.4L1521.3,1538.7L1522.1,1538.9L1522.9,1539.2L1523.7,1539.5L1524.5,1539.8L1525.3,1540L1526.1,1540.3L1526.9,1540.5L1527.7,1540.8L1528.4,1541.1L1529.2,1541.3L1530,1541.6L1530.8,1541.8L1531.5,1542.1L1532.3,1542.3L1533,1542.6L1533.8,1542.8L1534.5,1543.1L1535.3,1543.3L1536,1543.5L1536.8,1543.8L1537.5,1544L1538.3,1544.3L1539,1544.5L1539.7,1544.7L1540.4,1545L1541.2,1545.2L1541.9,1545.4L1542.6,1545.6L1543.3,1545.9L1544.1,1546.1L1544.8,1546.3L1545.5,1546.5L1546.2,1546.7L1546.9,1547L1547.7,1547.2L1548.5,1547.5L1549.4,1547.7L1550.2,1548L1551,1548.2L1551.8,1548.5L1552.6,1548.7L1553.4,1549L1554.2,1549.2L1555,1549.4L1555.8,1549.7L1556.6,1549.9L1557.4,1550.1L1558.2,1550.4L1559,1550.6L1559.7,1550.8L1560.5,1551L1561.3,1551.3L1562.1,1551.5L1562.8,1551.7L1563.6,1551.9L1564.4,1552.2L1565.1,1552.4L1565.9,1552.6L1566.6,1552.8L1567.4,1553L1568.1,1553.2L1568.9,1553.4L1569.6,1553.6L1570.3,1553.8L1571.1,1554L1571.8,1554.2L1572.5,1554.4L1573.3,1554.6L1574,1554.8L1574.7,1555L1575.4,1555.2L1576.1,1555.4L1576.9,1555.6L1577.7,1555.9L1578.5,1556.1L1579.3,1556.3L1580.2,1556.5L1581,1556.7L1581.8,1556.9L1582.6,1557.2L1583.4,1557.4L1584.1,1557.6L1584.9,1557.8L1585.7,1558L1586.5,1558.2L1587.3,1558.4L1588.1,1558.6L1588.8,1558.8L1589.6,1559L1590.4,1559.2L1591.1,1559.4L1591.9,1559.6L1592.7,1559.8L1593.4,1560L1594.2,1560.2L1594.9,1560.3L1595.7,1560.5L1596.4,1560.7L1597.1,1560.9L1597.9,1561.1L1598.6,1561.3L1599.3,1561.4L1600.1,1561.6L1600.8,1561.8L1601.5,1562L1602.2,1562.2L1603,1562.3L1603.9,1562.5L1604.7,1562.7L1605.5,1562.9L1606.3,1563.1L1607.1,1563.3L1607.9,1563.5L1608.6,1563.7L1609.4,1563.9L1610.2,1564.1L1611,1564.2L1611.8,1564.4L1612.6,1564.6L1613.3,1564.8L1614.1,1565L1614.9,1565.1L1615.6,1565.3L1616.4,1565.5L1617.1,1565.7L1617.9,1565.8L1618.6,1566L1619.4,1566.2L1620.1,1566.3L1620.9,1566.5L1621.6,1566.7L1622.3,1566.8L1623.1,1567L1623.8,1567.2L1624.5,1567.3L1625.3,1567.5L1626.1,1567.7L1627,1567.9L1627.8,1568L1628.5,1568.2L1629.3,1568.4L1630.1,1568.5L1630.9,1568.7L1631.7,1568.9L1632.5,1569.1L1633.3,1569.2L1634,1569.4L1634.8,1569.5L1635.6,1569.7L1636.3,1569.9L1637.1,1570L1637.9,1570.2L1638.6,1570.3L1639.4,1570.5L1640.1,1570.7L1640.9,1570.8L1641.6,1571L1642.3,1571.1L1643.1,1571.3L1643.8,1571.4L1644.5,1571.6L1645.3,1571.7L1646.1,1571.9L1646.9,1572L1647.7,1572.2L1648.5,1572.4L1649.3,1572.5L1650.1,1572.7L1650.9,1572.8L1651.6,1573L1652.4,1573.1L1653.2,1573.3L1654,1573.4L1654.7,1573.6L1655.5,1573.7L1656.3,1573.9L1657,1574L1657.8,1574.2L1658.5,1574.3L1659.3,1574.5L1660,1574.6L1660.8,1574.7L1661.5,1574.9L1662.3,1575L1663,1575.2L1663.8,1575.3L1664.6,1575.4L1665.4,1575.6L1666.1,1575.7L1666.9,1575.9L1667.7,1576L1668.5,1576.2L1669.3,1576.3L1670.1,1576.5L1670.8,1576.6L1671.6,1576.7L1672.4,1576.9L1673.1,1577L1673.9,1577.2L1674.7,1577.3L1675.4,1577.4L1676.2,1577.6L1676.9,1577.7L1677.7,1577.8L1678.4,1577.9L1679.1,1578.1L1679.9,1578.2L1680.7,1578.3L1681.5,1578.5L1682.3,1578.6L1683.1,1578.8L1683.8,1578.9L1684.6,1579L1685.4,1579.2L1686.2,1579.3L1687,1579.4L1687.7,1579.5L1688.5,1579.7L1689.3,1579.8L1690,1579.9L1690.8,1580.1L1691.5,1580.2L1692.3,1580.3L1693,1580.4L1693.8,1580.6L1694.5,1580.7L1695.3,1580.8L1696.1,1580.9L1696.8,1581.1L1697.6,1581.2L1698.4,1581.3L1699.2,1581.4L1700,1581.6L1700.8,1581.7L1701.5,1581.8L1702.3,1581.9L1703.1,1582L1703.8,1582.2L1704.6,1582.3L1705.4,1582.4L1706.1,1582.5L1706.9,1582.6L1707.6,1582.8L1708.4,1582.9L1709.1,1583L1709.9,1583.1L1710.7,1583.2L1711.5,1583.3L1712.2,1583.5L1713,1583.6L1713.8,1583.7L1714.6,1583.8L1715.4,1583.9L1716.1,1584L1716.9,1584.2L1717.7,1584.3L1718.4,1584.4L1719.2,1584.5L1719.9,1584.6L1720.7,1584.7L1721.4,1584.8L1722.2,1584.9L1722.9,1585L1723.7,1585.1L1724.5,1585.3L1725.3,1585.4L1726.1,1585.5L1726.9,1585.6L1727.6,1585.7L1728.4,1585.8L1729.2,1585.9L1729.9,1586L1730.7,1586.1L1731.5,1586.2L1732.2,1586.3L1733,1586.5L1733.7,1586.6L1734.5,1586.7L1735.2,1586.8L1736,1586.9L1736.8,1587L1737.6,1587.1L1738.4,1587.2L1739.1,1587.3L1739.9,1587.4L1740.7,1587.5L1741.5,1587.6L1742.2,1587.7L1743,1587.8L1743.8,1587.9L1744.5,1588L1745.3,1588.1L1746,1588.2L1746.8,1588.3L1747.5,1588.4L1748.3,1588.5L1749.1,1588.6L1749.9,1588.7L1750.7,1588.8L1751.5,1588.9L1752.2,1589L1753,1589.1L1753.8,1589.2L1754.5,1589.3L1755.3,1589.4L1756,1589.5L1756.8,1589.6L1757.5,1589.7L1758.3,1589.8L1759.1,1589.9L1759.9,1589.9L1760.6,1590L1761.4,1590.1L1762.2,1590.2L1763,1590.3L1763.7,1590.4L1764.5,1590.5L1765.3,1590.6L1766,1590.7L1766.8,1590.8L1767.5,1590.9L1768.3,1591L1769.1,1591.1L1769.8,1591.1L1770.6,1591.2L1771.4,1591.3L1772.2,1591.4L1773,1591.5L1773.7,1591.6L1774.5,1591.7L1775.2,1591.8L1776,1591.9L1776.8,1591.9L1777.5,1592L1778.3,1592.1L1779.1,1592.2L1779.8,1592.3L1780.6,1592.4L1781.4,1592.5L1782.2,1592.5L1782.9,1592.6L1783.7,1592.7L1784.5,1592.8L1785.2,1592.9L1786,1593L1786.7,1593L1787.5,1593.1L1788.3,1593.2L1789.1,1593.3L1789.8,1593.4L1790.6,1593.5L1791.4,1593.5L1792.1,1593.6L1792.9,1593.7L1793.7,1593.8L1794.4,1593.9L1795.2,1594L1795.9,1594L1796.7,1594.1L1797.5,1594.2L1798.3,1594.3L1799.1,1594.4L1799.8,1594.4L1800.6,1594.5L1801.4,1594.6L1802.1,1594.7L1802.9,1594.7L1803.7,1594.8L1804.4,1594.9L1805.2,1595L1805.9,1595.1L1806.7,1595.1L1807.5,1595.2L1808.3,1595.3L1809,1595.4L1809.8,1595.4L1810.6,1595.5L1811.3,1595.6L1812.1,1595.7L1812.9,1595.7L1813.6,1595.8L1814.4,1595.9L1815.2,1596L1816,1596L1816.7,1596.1L1817.5,1596.2L1818.3,1596.2L1819,1596.3L1819.8,1596.4L1820.5,1596.5L1821.3,1596.5L1822.1,1596.6L1822.9,1596.7L1823.6,1596.8L1824.4,1596.8L1825.2,1596.9L1825.9,1597L1826.7,1597L1827.5,1597.1L1828.2,1597.2L1829,1597.2L1829.8,1597.3L1830.5,1597.4L1831.3,1597.4L1832.1,1597.5L1832.9,1597.6L1833.6,1597.7L1834.4,1597.7L1835.1,1597.8L1835.9,1597.9L1836.7,1597.9L1837.5,1598L1838.2,1598.1L1839,1598.1L1839.8,1598.2L1840.5,1598.3L1841.3,1598.3L1842.1,1598.4L1842.8,1598.4L1843.6,1598.5L1844.4,1598.6L1845.1,1598.6L1845.9,1598.7L1846.7,1598.8L1847.4,1598.8L1848.2,1598.9L1849,1599L1849.7,1599L1850.5,1599.1L1851.3,1599.2L1852.1,1599.2L1852.8,1599.3L1853.6,1599.3L1854.4,1599.4L1855.1,1599.5L1855.9,1599.5L1856.6,1599.6L1857.4,1599.6L1858.2,1599.7L1859,1599.8L1859.7,1599.8L1860.5,1599.9L1861.3,1599.9L1862,1600L1862.8,1600.1L1863.6,1600.1L1864.3,1600.2L1865.1,1600.2L1865.9,1600.3L1866.6,1600.4L1867.4,1600.4L1868.2,1600.5L1868.9,1600.5L1869.7,1600.6L1870.5,1600.7L1871.3,1600.7L1872,1600.8L1872.8,1600.8L1873.5,1600.9L1874.3,1600.9L1875.1,1601L1875.9,1601L1876.6,1601.1L1877.4,1601.2L1878.2,1601.2L1878.9,1601.3L1879.7,1601.3L1880.5,1601.4L1881.2,1601.4L1882,1601.5L1882.8,1601.5L1883.5,1601.6L1884.3,1601.7L1885.1,1601.7L1885.8,1601.8L1886.6,1601.8L1887.4,1601.9L1888.2,1601.9L1888.9,1602L1889.7,1602L1890.5,1602.1L1891.2,1602.1L1892,1602.2L1892.8,1602.2L1893.5,1602.3L1894.3,1602.3L1895.1,1602.4L1895.8,1602.4L1896.6,1602.5L1897.4,1602.5L1898.1,1602.6L1898.9,1602.6L1899.7,1602.7L1900.4,1602.7L1901.2,1602.8L1902,1602.8L1902.7,1602.9L1903.5,1602.9L1904.3,1603L1905,1603L1905.8,1603.1L1906.6,1603.1L1907.3,1603.2L1908.1,1603.2L1908.9,1603.3L1909.7,1603.3L1910.4,1603.4L1911.2,1603.4L1911.9,1603.5L1912.7,1603.5L1913.5,1603.6L1914.3,1603.6L1915,1603.7L1915.8,1603.7L1916.6,1603.8L1917.3,1603.8L1918.1,1603.9L1918.9,1603.9L1919.6,1604L1920.4,1604L1921.2,1604L1921.9,1604.1L1922.7,1604.1L1923.5,1604.2L1924.2,1604.2L1925,1604.3L1925.8,1604.3L1926.6,1604.4L1927.3,1604.4L1928.1,1604.4L1928.9,1604.5L1929.6,1604.5L1930.4,1604.6L1931.2,1604.6L1931.9,1604.7L1932.7,1604.7L1933.5,1604.8L1934.2,1604.8L1935,1604.8L1935.8,1604.9L1936.5,1604.9L1937.3,1605L1938.1,1605L1938.8,1605.1L1939.6,1605.1L1940.4,1605.1L1941.1,1605.2L1941.9,1605.2L1942.7,1605.3L1943.4,1605.3L1944.2,1605.3L1945,1605.4L1945.8,1605.4L1946.5,1605.5L1947.3,1605.5L1948.1,1605.6L1948.8,1605.6L1949.6,1605.6L1950.4,1605.7L1951.1,1605.7L1951.9,1605.8L1952.7,1605.8L1953.4,1605.8L1954.2,1605.9L1955,1605.9L1955.7,1606L1956.5,1606L1957.3,1606L1958,1606.1L1958.8,1606.1L1959.6,1606.1L1960.4,1606.2L1961.1,1606.2L1961.9,1606.3L1962.7,1606.3L1963.4,1606.3L1964.2,1606.4L1965,1606.4L1965.7,1606.4L1966.5,1606.5L1967.3,1606.5L1968,1606.6L1968.8,1606.6L1969.6,1606.6L1970.3,1606.7L1971.1,1606.7L1971.9,1606.7L1972.6,1606.8L1973.4,1606.8L1974.2,1606.9L1975,1606.9L1975.7,1606.9L1976.5,1607L1977.3,1607L1978,1607L1978.8,1607.1L1979.6,1607.1L1980.3,1607.1L1981.1,1607.2L1981.9,1607.2L1982.6,1607.2L1983.4,1607.3L1984.2,1607.3L1984.9,1607.3L1985.7,1607.4L1986.5,1607.4L1987.2,1607.4L1988,1607.5L1988.8,1607.5L1989.5,1607.5L1990.3,1607.6L1991.1,1607.6L1991.8,1607.6L1992.6,1607.7L1993.4,1607.7L1994.2,1607.7L1994.9,1607.8L1995.7,1607.8L1996.5,1607.8L1997.2,1607.9L1998,1607.9L1998.8,1607.9L1999.5,1608L2000.3,1608L2001.1,1608L2001.8,1608.1L2002.6,1608.1L2003.4,1608.1L2004.1,1608.2L2004.9,1608.2L2005.7,1608.2L2006.4,1608.3L2007.2,1608.3L2008,1608.3L2008.7,1608.4L2009.5,1608.4L2010.3,1608.4L2011,1608.4L2011.8,1608.5L2012.6,1608.5L2013.4,1608.5L2014.1,1608.6L2014.9,1608.6L2015.7,1608.6L2016.4,1608.7L2017.2,1608.7L2018,1608.7L2018.7,1608.7L2019.5,1608.8L2020.3,1608.8L2021,1608.8L2021.8,1608.9L2022.6,1608.9L2023.3,1608.9L2024.1,1608.9L2024.9,1609L2025.6,1609L2026.4,1609L2027.2,1609.1L2027.9,1609.1L2028.7,1609.1L2029.5,1609.1L2030.2,1609.2L2031,1609.2L2031.8,1609.2L2032.6,1609.3L2033.3,1609.3L2034.1,1609.3L2034.9,1609.3L2035.6,1609.4L2036.4,1609.4L2037.2,1609.4L2037.9,1609.4L2038.7,1609.5L2039.5,1609.5L2040.2,1609.5L2041,1609.6L2041.8,1609.6L2042.5,1609.6L2043.3,1609.6L2044.1,1609.7L2044.5,1609.7" stroke="#000" stroke-width="4.17" stroke-dasharray="37.65 12.97 10.11 12.97" stroke-dashoffset="-1.4" fill="none"/>
<path d="M248,1617L314.3,1212.4L363.5,955.3L402.7,782.3L435.2,662.1L463,577.2L487.2,516.8L508.8,474L528.2,444.1L545.8,424L561.9,411.1L576.8,403.9L590.6,401.1L603.5,401.6L615.6,404.7L626.9,409.9L637.6,416.7L647.8,424.8L657.4,433.9L666.6,443.6L675.4,454L683.8,464.8L691.8,475.9L699.5,487.2L707,498.6L714.1,510.1L721,521.7L727.6,533.2L734.1,544.6L740.3,556L746.3,567.3L752.1,578.4L757.8,589.4L763.3,600.3L768.7,611L773.9,621.6L778.9,632L783.9,642.2L788.7,652.3L793.4,662.1L798,671.8L802.5,681.4L806.8,690.7L811.1,699.9L815.3,709L819.4,717.8L823.4,726.6L827.3,735.1L831.2,743.5L835,751.7L838.7,759.8L842.3,767.8L845.9,775.6L849.4,783.2L852.8,790.7L856.2,798.1L859.5,805.3L862.8,812.5L866,819.4L869.1,826.3L872.2,833.1L875.3,839.7L878.3,846.2L881.2,852.6L884.2,858.9L887,865.1L889.9,871.1L892.7,877.1L895.4,883L898.1,888.8L900.8,894.4L903.4,900L906,905.5L908.6,910.9L911.1,916.3L913.6,921.5L916.1,926.7L918.5,931.7L920.9,936.7L923.3,941.6L925.7,946.5L928,951.2L930.3,955.9L932.5,960.6L934.8,965.1L937,969.6L939.2,974L941.3,978.4L943.5,982.7L945.6,986.9L947.7,991.1L949.7,995.2L951.8,999.2L953.8,1003.2L955.8,1007.2L957.8,1011.1L959.8,1014.9L961.7,1018.7L963.6,1022.4L965.5,1026.1L967.4,1029.7L969.3,1033.3L971.1,1036.8L973,1040.3L974.8,1043.8L976.6,1047.2L978.4,1050.5L980.1,1053.8L981.9,1057.1L983.6,1060.3L985.3,1063.5L987,1066.7L988.7,1069.8L990.4,1072.9L992.1,1075.9L993.7,1078.9L995.3,1081.9L996.9,1084.8L998.5,1087.7L1000.1,1090.5L1001.7,1093.4L1003.3,1096.2L1004.8,1098.9L1006.4,1101.6L1007.9,1104.3L1009.4,1107L1010.9,1109.6L1012.4,1112.3L1013.9,1114.8L1015.4,1117.4L1016.8,1119.9L1018.3,1122.4L1019.7,1124.9L1021.1,1127.3L1022.5,1129.7L1023.9,1132.1L1025.3,1134.5L1026.7,1136.8L1028.1,1139.1L1029.5,1141.4L1030.8,1143.7L1032.2,1145.9L1033.5,1148.1L1034.8,1150.3L1036.1,1152.5L1037.4,1154.6L1038.7,1156.8L1040,1158.9L1041.3,1160.9L1042.6,1163L1043.9,1165.1L1045.1,1167.1L1046.4,1169.1L1047.6,1171.1L1048.8,1173L1050.1,1175L1051.3,1176.9L1052.5,1178.8L1053.7,1180.7L1054.9,1182.6L1056.1,1184.4L1057.2,1186.3L1058.4,1188.1L1059.6,1189.9L1060.7,1191.7L1061.9,1193.5L1063,1195.2L1064.2,1197L1065.3,1198.7L1066.4,1200.4L1067.6,1202.1L1068.7,1203.8L1069.8,1205.5L1070.9,1207.1L1072,1208.7L1073.1,1210.4L1074.1,1212L1075.2,1213.6L1076.3,1215.1L1077.3,1216.7L1078.4,1218.3L1079.4,1219.8L1080.5,1221.3L1081.5,1222.8L1082.6,1224.3L1083.6,1225.8L1084.6,1227.3L1085.6,1228.8L1086.6,1230.2L1087.7,1231.7L1088.7,1233.1L1089.7,1234.5L1090.6,1235.9L1091.6,1237.3L1092.6,1238.7L1093.6,1240.1L1094.6,1241.4L1095.5,1242.8L1096.5,1244.1L1097.4,1245.4L1098.4,1246.8L1099.3,1248.1L1100.3,1249.4L1101.2,1250.7L1102.2,1251.9L1103.1,1253.2L1104,1254.5L1104.9,1255.7L1105.8,1257L1106.8,1258.2L1107.7,1259.4L1108.6,1260.6L1109.5,1261.8L1110.4,1263L1111.3,1264.2L1112.1,1265.4L1113,1266.6L1113.9,1267.7L1114.8,1268.9L1115.6,1270L1116.5,1271.2L1117.4,1272.3L1118.2,1273.4L1119.1,1274.5L1119.9,1275.6L1120.8,1276.7L1121.6,1277.8L1122.5,1278.9L1123.3,1280L1124.1,1281L1125,1282.1L1125.8,1283.1L1126.6,1284.2L1127.4,1285.2L1128.2,1286.2L1129.1,1287.3L1129.9,1288.3L1130.7,1289.3L1131.5,1290.3L1132.3,1291.3L1133.1,1292.3L1133.9,1293.3L1134.6,1294.2L1135.4,1295.2L1136.2,1296.2L1137,1297.1L1137.8,1298.1L1138.5,1299L1139.3,1300L1140.1,1300.9L1140.8,1301.8L1141.6,1302.7L1142.4,1303.7L1143.1,1304.6L1143.9,1305.5L1144.6,1306.4L1145.4,1307.3L1146.1,1308.2L1146.8,1309L1147.6,1309.9L1148.3,1310.8L1149,1311.6L1149.8,1312.5L1150.5,1313.4L1151.2,1314.2L1151.9,1315L1152.7,1315.9L1153.4,1316.7L1154.1,1317.5L1154.8,1318.4L1155.5,1319.2L1156.2,1320L1156.9,1320.8L1157.6,1321.6L1158.3,1322.4L1159,1323.2L1159.7,1324L1160.4,1324.8L1161.1,1325.6L1161.7,1326.3L1162.4,1327.1L1163.1,1327.9L1163.8,1328.6L1164.5,1329.4L1165.1,1330.2L1165.8,1330.9L1166.5,1331.6L1167.1,1332.4L1167.8,1333.1L1168.5,1333.9L1169.1,1334.6L1169.8,1335.3L1170.4,1336L1171.1,1336.7L1171.7,1337.5L1172.4,1338.2L1173,1338.9L1173.7,1339.6L1174.3,1340.3L1174.9,1341L1175.6,1341.7L1176.2,1342.3L1176.8,1343L1177.5,1343.7L1178.1,1344.4L1178.7,1345L1179.4,1345.7L1180,1346.4L1180.6,1347L1181.2,1347.7L1181.8,1348.3L1182.5,1349L1183.1,1349.6L1183.7,1350.3L1184.3,1350.9L1184.9,1351.6L1185.5,1352.2L1186.1,1352.8L1186.7,1353.4L1187.3,1354.1L1187.9,1354.7L1188.5,1355.3L1189.1,1355.9L1189.7,1356.5L1190.3,1357.1L1190.9,1357.7L1191.4,1358.3L1192,1358.9L1192.6,1359.5L1193.2,1360.1L1193.8,1360.7L1194.3,1361.3L1194.9,1361.9L1195.5,1362.5L1196.1,1363L1196.6,1363.6L1197.2,1364.2L1197.8,1364.8L1198.3,1365.3L1198.9,1365.9L1199.5,1366.5L1200,1367L1200.6,1367.6L1201.1,1368.1L1201.7,1368.7L1202.3,1369.2L1202.8,1369.8L1203.4,1370.3L1203.9,1370.8L1204.5,1371.4L1205,1371.9L1205.5,1372.4L1206.1,1373L1206.6,1373.5L1207.2,1374L1207.7,1374.5L1208.2,1375.1L1208.8,1375.6L1209.3,1376.1L1209.8,1376.6L1210.4,1377.1L1210.9,1377.6L1211.4,1378.1L1212,1378.6L1212.5,1379.1L1213,1379.6L1213.5,1380.1L1214.1,1380.6L1214.6,1381.1L1215.1,1381.6L1215.6,1382.1L1216.1,1382.6L1216.6,1383.1L1217.2,1383.5L1217.7,1384L1218.2,1384.5L1218.7,1385L1219.2,1385.4L1219.7,1385.9L1220.2,1386.4L1220.7,1386.8L1221.2,1387.3L1221.7,1387.8L1222.2,1388.2L1222.7,1388.7L1223.2,1389.1L1223.7,1389.6L1224.2,1390L1224.7,1390.5L1225.2,1390.9L1225.7,1391.4L1226.2,1391.8L1226.6,1392.3L1227.1,1392.7L1227.6,1393.2L1228.1,1393.6L1228.6,1394L1229.1,1394.5L1229.5,1394.9L1230,1395.3L1230.5,1395.7L1231,1396.2L1231.5,1396.6L1231.9,1397L1232.4,1397.4L1232.9,1397.9L1233.4,1398.3L1233.8,1398.7L1234.3,1399.1L1234.8,1399.5L1235.2,1399.9L1235.7,1400.3L1236.2,1400.7L1236.6,1401.1L1237.1,1401.5L1237.5,1402L1238,1402.4L1238.5,1402.7L1238.9,1403.1L1239.4,1403.5L1239.8,1403.9L1240.3,1404.3L1240.7,1404.7L1241.2,1405.1L1241.6,1405.5L1242.1,1405.9L1242.5,1406.3L1243,1406.6L1243.4,1407L1243.9,1407.4L1244.3,1407.8L1244.8,1408.2L1245.2,1408.5L1245.7,1408.9L1246.1,1409.3L1246.5,1409.7L1247,1410L1247.4,1410.4L1247.9,1410.8L1248.3,1411.1L1248.7,1411.5L1249.2,1411.9L1249.6,1412.2L1250,1412.6L1250.5,1412.9L1250.9,1413.3L1251.3,1413.6L1251.7,1414L1252.2,1414.4L1252.6,1414.7L1253,1415.1L1253.4,1415.4L1253.9,1415.7L1254.3,1416.1L1254.7,1416.4L1255.1,1416.8L1255.6,1417.1L1256,1417.5L1256.4,1417.8L1256.8,1418.1L1257.2,1418.5L1257.6,1418.8L1258.1,1419.2L1258.5,1419.5L1258.9,1419.8L1259.3,1420.2L1259.7,1420.5L1260.1,1420.8L1260.5,1421.1L1260.9,1421.5L1261.3,1421.8L1261.7,1422.1L1262.2,1422.4L1262.6,1422.8L1263,1423.1L1263.4,1423.4L1263.8,1423.7L1264.2,1424L1264.6,1424.4L1265,1424.7L1265.4,1425L1265.8,1425.3L1266.2,1425.6L1266.6,1425.9L1267,1426.2L1267.3,1426.5L1268.1,1427.1L1268.9,1427.8L1269.7,1428.4L1270.5,1429L1271.3,1429.6L1272,1430.1L1272.8,1430.7L1273.6,1431.3L1274.3,1431.9L1275.1,1432.5L1275.8,1433.1L1276.6,1433.6L1277.3,1434.2L1278.1,1434.7L1278.8,1435.3L1279.6,1435.9L1280.3,1436.4L1281,1437L1281.8,1437.5L1282.5,1438L1283.2,1438.6L1284,1439.1L1284.7,1439.6L1285.4,1440.2L1286.1,1440.7L1286.8,1441.2L1287.5,1441.7L1288.3,1442.2L1289,1442.7L1289.7,1443.2L1290.4,1443.7L1291.1,1444.2L1291.8,1444.7L1292.5,1445.2L1293.1,1445.7L1293.8,1446.2L1294.5,1446.7L1295.2,1447.2L1295.9,1447.7L1296.6,1448.1L1297.2,1448.6L1297.9,1449.1L1298.6,1449.5L1299.3,1450L1299.9,1450.5L1300.6,1450.9L1301.3,1451.4L1301.9,1451.8L1302.6,1452.3L1303.2,1452.7L1303.9,1453.2L1304.5,1453.6L1305.2,1454.1L1305.8,1454.5L1306.5,1454.9L1307.1,1455.4L1307.8,1455.8L1308.4,1456.2L1309,1456.6L1309.7,1457.1L1310.3,1457.5L1310.9,1457.9L1311.6,1458.3L1312.2,1458.7L1312.8,1459.1L1313.4,1459.5L1314,1460L1314.7,1460.4L1315.3,1460.8L1315.9,1461.2L1316.5,1461.6L1317.1,1462L1317.7,1462.3L1318.3,1462.7L1318.9,1463.1L1319.5,1463.5L1320.1,1463.9L1320.7,1464.3L1321.3,1464.7L1321.9,1465L1322.5,1465.4L1323.1,1465.8L1323.7,1466.2L1324.3,1466.5L1324.9,1466.9L1325.5,1467.3L1326,1467.6L1326.6,1468L1327.2,1468.3L1327.8,1468.7L1328.4,1469.1L1328.9,1469.4L1329.5,1469.8L1330.1,1470.1L1330.6,1470.5L1331.2,1470.8L1331.8,1471.2L1332.3,1471.5L1332.9,1471.8L1333.5,1472.2L1334,1472.5L1334.6,1472.9L1335.1,1473.2L1335.7,1473.5L1336.2,1473.9L1336.8,1474.2L1337.3,1474.5L1337.9,1474.9L1338.4,1475.2L1339,1475.5L1339.5,1475.8L1340,1476.1L1340.6,1476.5L1341.1,1476.8L1341.7,1477.1L1342.2,1477.4L1342.7,1477.7L1343.3,1478L1343.8,1478.3L1344.3,1478.7L1344.9,1479L1345.4,1479.3L1345.9,1479.6L1346.4,1479.9L1347,1480.2L1347.5,1480.5L1348,1480.8L1348.5,1481.1L1349,1481.4L1349.5,1481.7L1350.1,1481.9L1350.6,1482.2L1351.1,1482.5L1351.6,1482.8L1352.1,1483.1L1352.6,1483.4L1353.1,1483.7L1353.6,1484L1354.1,1484.2L1354.6,1484.5L1355.1,1484.8L1355.6,1485.1L1356.1,1485.4L1356.6,1485.6L1357.1,1485.9L1357.6,1486.2L1358.1,1486.4L1358.6,1486.7L1359.1,1487L1359.6,1487.3L1360.1,1487.5L1360.5,1487.8L1361,1488.1L1361.5,1488.3L1362,1488.6L1362.5,1488.8L1363,1489.1L1363.4,1489.4L1363.9,1489.6L1364.4,1489.9L1364.9,1490.1L1365.3,1490.4L1365.8,1490.6L1366.3,1490.9L1366.8,1491.1L1367.2,1491.4L1367.7,1491.6L1368.2,1491.9L1368.6,1492.1L1369.1,1492.4L1369.6,1492.6L1370,1492.9L1370.5,1493.1L1370.9,1493.4L1371.4,1493.6L1371.9,1493.8L1372.3,1494.1L1372.8,1494.3L1373.2,1494.5L1373.7,1494.8L1374.1,1495L1374.6,1495.3L1375,1495.5L1375.5,1495.7L1375.9,1495.9L1376.4,1496.2L1376.8,1496.4L1377.3,1496.6L1377.9,1497L1378.6,1497.3L1379.3,1497.6L1379.9,1498L1380.6,1498.3L1381.2,1498.6L1381.9,1499L1382.5,1499.3L1383.2,1499.6L1383.8,1499.9L1384.5,1500.3L1385.1,1500.6L1385.8,1500.9L1386.4,1501.2L1387,1501.5L1387.7,1501.8L1388.3,1502.2L1388.9,1502.5L1389.6,1502.8L1390.2,1503.1L1390.8,1503.4L1391.4,1503.7L1392.1,1504L1392.7,1504.3L1393.3,1504.6L1393.9,1504.9L1394.5,1505.1L1395.1,1505.4L1395.7,1505.7L1396.3,1506L1396.9,1506.3L1397.5,1506.6L1398.1,1506.9L1398.7,1507.1L1399.3,1507.4L1399.9,1507.7L1400.5,1508L1401.1,1508.3L1401.7,1508.5L1402.3,1508.8L1402.9,1509.1L1403.5,1509.3L1404,1509.6L1404.6,1509.9L1405.2,1510.1L1405.8,1510.4L1406.4,1510.7L1406.9,1510.9L1407.5,1511.2L1408.1,1511.4L1408.6,1511.7L1409.2,1512L1409.8,1512.2L1410.3,1512.5L1410.9,1512.7L1411.5,1513L1412,1513.2L1412.6,1513.5L1413.1,1513.7L1413.7,1513.9L1414.2,1514.2L1414.8,1514.4L1415.3,1514.7L1415.9,1514.9L1416.4,1515.2L1417,1515.4L1417.5,1515.6L1418.1,1515.9L1418.6,1516.1L1419.1,1516.3L1419.7,1516.6L1420.2,1516.8L1420.7,1517L1421.3,1517.2L1421.8,1517.5L1422.3,1517.7L1422.9,1517.9L1423.4,1518.1L1423.9,1518.4L1424.4,1518.6L1425,1518.8L1425.5,1519L1426,1519.3L1426.5,1519.5L1427,1519.7L1427.5,1519.9L1428.1,1520.1L1428.6,1520.3L1429.1,1520.5L1429.6,1520.7L1430.1,1521L1430.6,1521.2L1431.1,1521.4L1431.6,1521.6L1432.1,1521.8L1432.6,1522L1433.1,1522.2L1433.6,1522.4L1434.1,1522.6L1434.6,1522.8L1435.1,1523L1435.6,1523.2L1436.1,1523.4L1436.6,1523.6L1437.1,1523.8L1437.6,1524L1438.1,1524.2L1438.5,1524.4L1439,1524.6L1439.5,1524.8L1440,1525L1440.5,1525.2L1441,1525.3L1441.4,1525.5L1441.9,1525.7L1442.4,1525.9L1442.9,1526.1L1443.3,1526.3L1443.8,1526.5L1444.3,1526.7L1444.8,1526.8L1445.2,1527L1445.7,1527.2L1446.2,1527.4L1446.9,1527.7L1447.7,1528L1448.5,1528.3L1449.2,1528.6L1450,1528.9L1450.8,1529.1L1451.5,1529.4L1452.3,1529.7L1453,1530L1453.8,1530.3L1454.5,1530.6L1455.3,1530.8L1456,1531.1L1456.8,1531.4L1457.5,1531.7L1458.2,1531.9L1459,1532.2L1459.7,1532.5L1460.4,1532.7L1461.1,1533L1461.8,1533.3L1462.6,1533.5L1463.3,1533.8L1464,1534L1464.7,1534.3L1465.4,1534.5L1466.1,1534.8L1466.8,1535L1467.5,1535.3L1468.2,1535.5L1468.9,1535.8L1469.6,1536L1470.3,1536.3L1470.9,1536.5L1471.6,1536.7L1472.3,1537L1473,1537.2L1473.7,1537.4L1474.3,1537.7L1475,1537.9L1475.7,1538.1L1476.3,1538.4L1477,1538.6L1477.7,1538.8L1478.3,1539L1479,1539.3L1479.6,1539.5L1480.3,1539.7L1480.9,1539.9L1481.6,1540.1L1482.2,1540.4L1482.9,1540.6L1483.5,1540.8L1484.3,1541L1484.8,1541.2L1485.3,1541.4L1485.8,1541.5L1486.3,1541.7L1486.8,1541.9L1487.3,1542L1487.8,1542.2L1488.3,1542.4L1488.8,1542.5L1489.3,1542.7L1489.8,1542.8L1490.3,1543L1490.8,1543.2L1491.3,1543.3L1491.8,1543.5L1492.3,1543.6L1492.8,1543.8L1493.3,1543.9L1493.8,1544.1L1494.2,1544.3L1494.7,1544.4L1495.2,1544.6L1495.7,1544.7L1496.2,1544.9L1496.6,1545L1497.1,1545.2L1498,1545.4L1498.8,1545.7L1499.6,1545.9L1500.4,1546.2L1501.3,1546.5L1502.1,1546.7L1502.9,1547L1503.7,1547.2L1504.5,1547.4L1505.3,1547.7L1506.1,1547.9L1506.9,1548.2L1507.7,1548.4L1508.5,1548.6L1509.3,1548.9L1510.1,1549.1L1510.8,1549.3L1511.6,1549.6L1512.4,1549.8L1513.2,1550L1513.9,1550.2L1514.7,1550.5L1515.4,1550.7L1516.2,1550.9L1517,1551.1L1517.7,1551.3L1518.5,1551.6L1519.2,1551.8L1519.9,1552L1520.7,1552.2L1521.4,1552.4L1522.2,1552.6L1522.9,1552.8L1523.6,1553L1524.4,1553.2L1525.1,1553.4L1525.8,1553.6L1526.5,1553.8L1527.2,1554L1527.9,1554.2L1528.7,1554.4L1529.4,1554.6L1530.1,1554.8L1530.8,1555L1531.5,1555.2L1532.2,1555.4L1532.9,1555.6L1533.6,1555.8L1534.2,1555.9L1534.9,1556.1L1535.6,1556.3L1536.3,1556.5L1537,1556.7L1537.7,1556.9L1538.3,1557L1539,1557.2L1539.9,1557.4L1540.7,1557.7L1541.6,1557.9L1542.4,1558.1L1543.3,1558.3L1544.1,1558.5L1545,1558.8L1545.8,1559L1546.6,1559.2L1547.5,1559.4L1548.3,1559.6L1549.1,1559.8L1549.9,1560L1550.7,1560.2L1551.6,1560.4L1552.4,1560.6L1553.2,1560.8L1554,1561L1554.8,1561.2L1555.6,1561.4L1556.4,1561.6L1557.1,1561.8L1557.9,1562L1558.7,1562.2L1559.5,1562.4L1560.3,1562.5L1561,1562.7L1561.8,1562.9L1562.6,1563.1L1563.3,1563.3L1564.1,1563.5L1564.8,1563.6L1565.6,1563.8L1566.4,1564L1567.1,1564.2L1567.8,1564.3L1568.6,1564.5L1569.3,1564.7L1570.1,1564.9L1570.8,1565L1571.5,1565.2L1572.3,1565.4L1573,1565.5L1573.7,1565.7L1574.4,1565.9L1575.1,1566L1575.9,1566.2L1576.6,1566.3L1577.3,1566.5L1578,1566.6L1578.7,1566.8L1579.4,1567L1580.1,1567.1L1580.8,1567.3L1581.5,1567.4L1582.3,1567.6L1583.1,1567.8L1583.9,1568L1584.8,1568.1L1585.6,1568.3L1586.4,1568.5L1587.2,1568.7L1588.1,1568.8L1588.9,1569L1589.7,1569.2L1590.5,1569.4L1591.3,1569.5L1592.1,1569.7L1592.9,1569.9L1593.7,1570L1594.5,1570.2L1595.3,1570.4L1596.1,1570.5L1596.9,1570.7L1597.6,1570.8L1598.4,1571L1599.2,1571.2L1600,1571.3L1600.7,1571.5L1601.5,1571.6L1602.3,1571.8L1603,1571.9L1603.8,1572.1L1604.5,1572.2L1605.3,1572.4L1606,1572.5L1606.8,1572.7L1607.5,1572.8L1608.2,1573L1609,1573.1L1609.7,1573.3L1610.4,1573.4L1611.2,1573.5L1611.9,1573.7L1612.6,1573.8L1613.3,1574L1614.1,1574.1L1614.8,1574.2L1615.5,1574.4L1616.2,1574.5L1616.9,1574.6L1617.7,1574.8L1618.5,1574.9L1619.4,1575.1L1620.2,1575.3L1621,1575.4L1621.8,1575.6L1622.6,1575.7L1623.4,1575.8L1624.2,1576L1625,1576.1L1625.8,1576.3L1626.6,1576.4L1627.4,1576.6L1628.2,1576.7L1629,1576.9L1629.8,1577L1630.5,1577.1L1631.3,1577.3L1632.1,1577.4L1632.9,1577.5L1633.6,1577.7L1634.4,1577.8L1635.1,1577.9L1635.9,1578.1L1636.6,1578.2L1637.4,1578.3L1638.1,1578.5L1638.9,1578.6L1639.6,1578.7L1640.4,1578.8L1641.1,1579L1641.8,1579.1L1642.6,1579.2L1643.3,1579.3L1644,1579.5L1644.7,1579.6L1645.5,1579.7L1646.2,1579.8L1646.9,1579.9L1647.8,1580.1L1648.6,1580.2L1649.4,1580.4L1650.2,1580.5L1651,1580.6L1651.8,1580.7L1652.6,1580.9L1653.4,1581L1654.2,1581.1L1655,1581.3L1655.8,1581.4L1656.6,1581.5L1657.3,1581.6L1658.1,1581.8L1658.9,1581.9L1659.7,1582L1660.4,1582.1L1661.2,1582.2L1662,1582.4L1662.7,1582.5L1663.5,1582.6L1664.2,1582.7L1665,1582.8L1665.7,1582.9L1666.5,1583L1667.2,1583.2L1667.9,1583.3L1668.7,1583.4L1669.4,1583.5L1670.1,1583.6L1670.9,1583.7L1671.6,1583.8L1672.3,1583.9L1673.1,1584L1673.9,1584.2L1674.7,1584.3L1675.5,1584.4L1676.3,1584.5L1677.1,1584.6L1677.9,1584.7L1678.7,1584.9L1679.5,1585L1680.3,1585.1L1681.1,1585.2L1681.9,1585.3L1682.6,1585.4L1683.4,1585.5L1684.2,1585.6L1684.9,1585.7L1685.7,1585.9L1686.5,1586L1687.2,1586.1L1688,1586.2L1688.7,1586.3L1689.5,1586.4L1690.2,1586.5L1691,1586.6L1691.7,1586.7L1692.4,1586.8L1693.2,1586.9L1693.9,1587L1694.6,1587.1L1695.4,1587.2L1696.2,1587.3L1697,1587.4L1697.8,1587.5L1698.6,1587.6L1699.4,1587.7L1700.2,1587.8L1701,1587.9L1701.8,1588L1702.5,1588.1L1703.3,1588.2L1704.1,1588.3L1704.9,1588.4L1705.6,1588.5L1706.4,1588.6L1707.2,1588.7L1707.9,1588.8L1708.7,1588.9L1709.4,1589L1710.2,1589.1L1710.9,1589.2L1711.7,1589.3L1712.4,1589.4L1713.1,1589.5L1713.9,1589.6L1714.6,1589.7L1715.3,1589.7L1716.2,1589.8L1717,1589.9L1717.7,1590L1718.5,1590.1L1719.3,1590.2L1720.1,1590.3L1720.9,1590.4L1721.7,1590.5L1722.5,1590.6L1723.2,1590.7L1724,1590.8L1724.8,1590.9L1725.5,1591L1726.3,1591.1L1727.1,1591.1L1727.8,1591.2L1728.6,1591.3L1729.3,1591.4L1730.1,1591.5L1730.8,1591.6L1731.6,1591.7L1732.3,1591.8L1733,1591.8L1733.8,1591.9L1734.6,1592L1735.4,1592.1L1736.2,1592.2L1737,1592.3L1737.8,1592.4L1738.6,1592.5L1739.3,1592.5L1740.1,1592.6L1740.9,1592.7L1741.7,1592.8L1742.4,1592.9L1743.2,1593L1744,1593L1744.7,1593.1L1745.5,1593.2L1746.2,1593.3L1747,1593.4L1747.7,1593.5L1748.5,1593.5L1749.2,1593.6L1750,1593.7L1750.7,1593.8L1751.5,1593.9L1752.3,1593.9L1753.1,1594L1753.9,1594.1L1754.7,1594.2L1755.4,1594.3L1756.2,1594.3L1757,1594.4L1757.8,1594.5L1758.5,1594.6L1759.3,1594.7L1760.1,1594.7L1760.8,1594.8L1761.6,1594.9L1762.3,1595L1763.1,1595L1763.8,1595.1L1764.6,1595.2L1765.3,1595.3L1766.1,1595.3L1766.9,1595.4L1767.7,1595.5L1768.5,1595.6L1769.2,1595.6L1770,1595.7L1770.8,1595.8L1771.6,1595.9L1772.3,1595.9L1773.1,1596L1773.9,1596.1L1774.6,1596.2L1775.4,1596.2L1776.2,1596.3L1776.9,1596.4L1777.7,1596.4L1778.4,1596.5L1779.2,1596.6L1779.9,1596.6L1780.7,1596.7L1781.5,1596.8L1782.3,1596.9L1783.1,1596.9L1783.8,1597L1784.6,1597.1L1785.4,1597.1L1786.2,1597.2L1786.9,1597.3L1787.7,1597.4L1788.5,1597.4L1789.2,1597.5L1790,1597.6L1790.7,1597.6L1791.5,1597.7L1792.2,1597.8L1793,1597.8L1793.8,1597.9L1794.5,1598L1795.3,1598L1796.1,1598.1L1796.9,1598.2L1797.7,1598.2L1798.4,1598.3L1799.2,1598.4L1800,1598.4L1800.7,1598.5L1801.5,1598.5L1802.3,1598.6L1803,1598.7L1803.8,1598.7L1804.5,1598.8L1805.3,1598.9L1806,1598.9L1806.8,1599L1807.6,1599.1L1808.4,1599.1L1809.2,1599.2L1810,1599.2L1810.7,1599.3L1811.5,1599.4L1812.3,1599.4L1813,1599.5L1813.8,1599.6L1814.5,1599.6L1815.3,1599.7L1816,1599.7L1816.8,1599.8L1817.6,1599.9L1818.4,1599.9L1819.1,1600L1819.9,1600L1820.7,1600.1L1821.5,1600.2L1822.2,1600.2L1823,1600.3L1823.8,1600.3L1824.5,1600.4L1825.3,1600.4L1826.1,1600.5L1826.8,1600.6L1827.6,1600.6L1828.3,1600.7L1829.1,1600.7L1829.9,1600.8L1830.7,1600.8L1831.4,1600.9L1832.2,1601L1833,1601L1833.8,1601.1L1834.5,1601.1L1835.3,1601.2L1836,1601.2L1836.8,1601.3L1837.5,1601.3L1838.3,1601.4L1839.1,1601.5L1839.9,1601.5L1840.6,1601.6L1841.4,1601.6L1842.2,1601.7L1843,1601.7L1843.7,1601.8L1844.5,1601.8L1845.3,1601.9L1846,1601.9L1846.8,1602L1847.5,1602L1848.3,1602.1L1849.1,1602.1L1849.8,1602.2L1850.6,1602.3L1851.4,1602.3L1852.2,1602.4L1853,1602.4L1853.7,1602.5L1854.5,1602.5L1855.2,1602.6L1856,1602.6L1856.8,1602.7L1857.5,1602.7L1858.3,1602.8L1859.1,1602.8L1859.8,1602.9L1860.6,1602.9L1861.4,1603L1862.2,1603L1862.9,1603.1L1863.7,1603.1L1864.5,1603.2L1865.2,1603.2L1866,1603.3L1866.7,1603.3L1867.5,1603.3L1868.3,1603.4L1869.1,1603.4L1869.8,1603.5L1870.6,1603.5L1871.4,1603.6L1872.1,1603.6L1872.9,1603.7L1873.7,1603.7L1874.4,1603.8L1875.2,1603.8L1876,1603.9L1876.7,1603.9L1877.5,1604L1878.3,1604L1879.1,1604.1L1879.8,1604.1L1880.6,1604.1L1881.4,1604.2L1882.1,1604.2L1882.9,1604.3L1883.6,1604.3L1884.4,1604.4L1885.2,1604.4L1886,1604.5L1886.7,1604.5L1887.5,1604.5L1888.3,1604.6L1889,1604.6L1889.8,1604.7L1890.6,1604.7L1891.3,1604.8L1892.1,1604.8L1892.9,1604.8L1893.6,1604.9L1894.4,1604.9L1895.2,1605L1896,1605L1896.7,1605.1L1897.5,1605.1L1898.2,1605.1L1899,1605.2L1899.8,1605.2L1900.5,1605.3L1901.3,1605.3L1902.1,1605.4L1902.9,1605.4L1903.6,1605.4L1904.4,1605.5L1905.1,1605.5L1905.9,1605.6L1906.7,1605.6L1907.5,1605.6L1908.2,1605.7L1909,1605.7L1909.8,1605.8L1910.5,1605.8L1911.3,1605.8L1912.1,1605.9L1912.8,1605.9L1913.6,1605.9L1914.4,1606L1915.1,1606L1915.9,1606.1L1916.7,1606.1L1917.4,1606.1L1918.2,1606.2L1919,1606.2L1919.7,1606.3L1920.5,1606.3L1921.3,1606.3L1922.1,1606.4L1922.8,1606.4L1923.6,1606.4L1924.4,1606.5L1925.1,1606.5L1925.9,1606.6L1926.6,1606.6L1927.4,1606.6L1928.2,1606.7L1929,1606.7L1929.7,1606.7L1930.5,1606.8L1931.3,1606.8L1932,1606.8L1932.8,1606.9L1933.6,1606.9L1934.3,1607L1935.1,1607L1935.9,1607L1936.7,1607.1L1937.4,1607.1L1938.2,1607.1L1938.9,1607.2L1939.7,1607.2L1940.5,1607.2L1941.3,1607.3L1942,1607.3L1942.8,1607.3L1943.6,1607.4L1944.3,1607.4L1945.1,1607.4L1945.9,1607.5L1946.6,1607.5L1947.4,1607.5L1948.2,1607.6L1948.9,1607.6L1949.7,1607.6L1950.5,1607.7L1951.2,1607.7L1952,1607.7L1952.8,1607.8L1953.5,1607.8L1954.3,1607.8L1955.1,1607.9L1955.8,1607.9L1956.6,1607.9L1957.4,1608L1958.2,1608L1958.9,1608L1959.7,1608.1L1960.5,1608.1L1961.2,1608.1L1962,1608.2L1962.8,1608.2L1963.5,1608.2L1964.3,1608.3L1965.1,1608.3L1965.8,1608.3L1966.6,1608.3L1967.4,1608.4L1968.1,1608.4L1968.9,1608.4L1969.7,1608.5L1970.4,1608.5L1971.2,1608.5L1972,1608.6L1972.7,1608.6L1973.5,1608.6L1974.3,1608.6L1975.1,1608.7L1975.8,1608.7L1976.6,1608.7L1977.3,1608.8L1978.1,1608.8L1978.9,1608.8L1979.7,1608.9L1980.4,1608.9L1981.2,1608.9L1982,1608.9L1982.7,1609L1983.5,1609L1984.3,1609L1985,1609.1L1985.8,1609.1L1986.6,1609.1L1987.3,1609.1L1988.1,1609.2L1988.9,1609.2L1989.6,1609.2L1990.4,1609.2L1991.2,1609.3L1991.9,1609.3L1992.7,1609.3L1993.5,1609.4L1994.2,1609.4L1995,1609.4L1995.8,1609.4L1996.5,1609.5L1997.3,1609.5L1998.1,1609.5L1998.9,1609.5L1999.6,1609.6L2000.4,1609.6L2001.2,1609.6L2001.9,1609.6L2002.7,1609.7L2003.5,1609.7L2004.2,1609.7L2005,1609.8L2005.8,1609.8L2006.5,1609.8L2007.3,1609.8L2008.1,1609.9L2008.8,1609.9L2009.6,1609.9L2010.4,1609.9L2011.2,1610L2011.9,1610L2012.7,1610L2013.5,1610L2014.2,1610.1L2015,1610.1L2015.8,1610.1L2016.5,1610.1L2017.3,1610.2L2018.1,1610.2L2018.8,1610.2L2019.6,1610.2L2020.4,1610.2L2021.1,1610.3L2021.9,1610.3L2022.7,1610.3L2023.4,1610.3L2024.2,1610.4L2025,1610.4L2025.7,1610.4L2026.5,1610.4L2027.3,1610.5L2028,1610.5L2028.8,1610.5L2029.6,1610.5L2030.4,1610.6L2031.1,1610.6L2031.9,1610.6L2032.6,1610.6L2033.4,1610.6L2034.2,1610.7L2035,1610.7L2035.7,1610.7L2036.5,1610.7L2037.3,1610.8L2038,1610.8L2038.8,1610.8L2039.6,1610.8L2040.3,1610.8L2041.1,1610.9L2041.9,1610.9L2042.6,1610.9L2043.4,1610.9L2044.2,1611L2044.9,1611L2045.7,1611L2046.5,1611L2047.2,1611L2048,1611.1L2048.8,1611.1L2049.5,1611.1L2050.3,1611.1L2051.1,1611.1L2051.9,1611.2L2052.6,1611.2L2053.4,1611.2L2054.2,1611.2L2054.9,1611.2L2055.7,1611.3L2056.5,1611.3L2057.2,1611.3L2058,1611.3L2058.8,1611.4L2059.5,1611.4L2060.3,1611.4L2061.1,1611.4L2061.8,1611.4L2062.6,1611.5L2063.4,1611.5L2064.1,1611.5L2064.9,1611.5L2065.7,1611.5L2066.4,1611.5L2067.2,1611.6L2068,1611.6L2068.7,1611.6L2069.5,1611.6L2070.3,1611.6L2071.1,1611.7L2071.8,1611.7L2072.6,1611.7L2073.4,1611.7L2074.1,1611.7L2074.9,1611.8L2075.7,1611.8L2076.4,1611.8L2077.2,1611.8L2078,1611.8L2078.7,1611.9L2079.5,1611.9L2080.3,1611.9L2081,1611.9L2081.8,1611.9L2082.6,1611.9L2083.3,1612L2084.1,1612L2084.9,1612L2085.6,1612L2086.4,1612L2087.2,1612.1L2088,1612.1L2088.7,1612.1L2089.5,1612.1L2090.3,1612.1L2091,1612.1L2091.8,1612.2L2092.6,1612.2L2093.3,1612.2L2094.1,1612.2L2094.9,1612.2L2095.6,1612.2L2096.4,1612.3L2097.2,1612.3L2097.9,1612.3L2098.7,1612.3L2099.5,1612.3L2100.2,1612.3L2101,1612.4L2101.8,1612.4L2102.5,1612.4L2103.3,1612.4L2104.1,1612.4L2104.9,1612.4L2105.6,1612.5L2106.4,1612.5L2107.2,1612.5L2107.9,1612.5L2108.7,1612.5L2109.5,1612.5L2110.2,1612.6L2111,1612.6L2111.8,1612.6L2112.5,1612.6L2113.3,1612.6L2114.1,1612.6L2114.8,1612.6" stroke="#0072bd" stroke-width="4.17" stroke-dasharray="37.65 12.97 10.11 12.97" stroke-dashoffset="-1.4" fill="none"/>
<path d="M229,1617h38M248,1598v38M295,1212h38M314,1193v38M345,955h38M364,936v38M384,782h38M403,763v38M416,662h38M435,643v38M444,577h38M463,558v38M468,517h38M487,498v38M490,474h38M509,455v38M509,444h38M528,425v38M527,424h38M546,405v38M543,411h38M562,392v38M558,404h38M577,385v38M572,401h38M591,382v38M584,402h38M603,383v38M597,405h38M616,386v38M608,410h38M627,391v38M619,417h38M638,398v38M629,425h38M648,406v38M638,434h38M657,415v38M648,444h38M667,425v38M656,454h38M675,435v38M665,465h38M684,446v38M673,476h38M692,457v38M681,487h38M700,468v38M688,499h38M707,480v38M695,510h38M714,491v38M702,522h38M721,503v38M709,533h38M728,514v38M715,545h38M734,526v38M721,556h38M740,537v38M727,567h38M746,548v38M733,578h38M752,559v38M739,589h38M758,570v38M744,600h38M763,581v38M750,611h38M769,592v38M755,622h38M774,603v38M760,632h38M779,613v38M765,642h38M784,623v38M770,652h38M789,633v38M774,662h38M793,643v38M779,672h38M798,653v38M783,681h38M802,662v38M788,691h38M807,672v38M792,700h38M811,681v38M796,709h38M815,690v38M800,718h38M819,699v38M804,727h38M823,708v38M808,735h38M827,716v38M812,743h38M831,724v38M816,752h38M835,733v38M820,760h38M839,741v38M823,768h38M842,749v38M827,776h38M846,757v38M830,783h38M849,764v38M834,791h38M853,772v38M837,798h38M856,779v38M840,805h38M859,786v38M844,812h38M863,793v38M847,819h38M866,800v38M850,826h38M869,807v38M853,833h38M872,814v38M856,840h38M875,821v38M859,846h38M878,827v38M862,853h38M881,834v38M865,859h38M884,840v38M868,865h38M887,846v38M871,871h38M890,852v38M874,877h38M893,858v38M876,883h38M895,864v38M879,889h38M898,870v38M882,894h38M901,875v38M884,900h38M903,881v38M887,906h38M906,887v38M890,911h38M909,892v38M892,916h38M911,897v38M895,921h38M914,902v38M897,927h38M916,908v38M900,932h38M919,913v38M902,937h38M921,918v38M904,942h38M923,923v38M907,946h38M926,927v38M909,951h38M928,932v38M911,956h38M930,937v38M914,961h38M933,942v38M916,965h38M935,946v38M918,970h38M937,951v38M920,974h38M939,955v38M922,978h38M941,959v38M924,983h38M943,964v38M927,987h38M946,968v38M929,991h38M948,972v38M931,995h38M950,976v38M933,999h38M952,980v38M935,1003h38M954,984v38M937,1007h38M956,988v38M939,1011h38M958,992v38M941,1015h38M960,996v38M943,1019h38M962,1000v38M945,1022h38M964,1003v38M947,1026h38M966,1007v38M948,1030h38M967,1011v38M950,1033h38M969,1014v38M952,1037h38M971,1018v38M954,1040h38M973,1021v38M956,1044h38M975,1025v38M958,1047h38M977,1028v38M959,1051h38M978,1032v38M961,1054h38M980,1035v38M963,1057h38M982,1038v38M965,1060h38M984,1041v38M966,1064h38M985,1045v38M968,1067h38M987,1048v38M970,1070h38M989,1051v38M971,1073h38M990,1054v38M973,1076h38M992,1057v38M975,1079h38M994,1060v38M976,1082h38M995,1063v38M978,1085h38M997,1066v38M980,1088h38M999,1069v38M981,1091h38M1000,1072v38M983,1093h38M1002,1074v38M984,1096h38M1003,1077v38M986,1099h38M1005,1080v38M987,1102h38M1006,1083v38M989,1104h38M1008,1085v38M990,1107h38M1009,1088v38M992,1110h38M1011,1091v38M993,1112h38M1012,1093v38M995,1115h38M1014,1096v38M996,1117h38M1015,1098v38M998,1120h38M1017,1101v38M999,1122h38M1018,1103v38M1001,1125h38M1020,1106v38M1002,1127h38M1021,1108v38M1004,1130h38M1023,1111v38M1005,1132h38M1024,1113v38M1006,1134h38M1025,1115v38M1008,1137h38M1027,1118v38M1009,1139h38M1028,1120v38M1010,1141h38M1029,1122v38M1012,1144h38M1031,1125v38M1013,1146h38M1032,1127v38M1014,1148h38M1033,1129v38M1016,1150h38M1035,1131v38M1017,1152h38M1036,1133v38M1018,1155h38M1037,1136v38M1020,1157h38M1039,1138v38M1021,1159h38M1040,1140v38M1022,1161h38M1041,1142v38M1024,1163h38M1043,1144v38M1025,1165h38M1044,1146v38M1026,1167h38M1045,1148v38M1027,1169h38M1046,1150v38M1029,1171h38M1048,1152v38M1030,1173h38M1049,1154v38M1031,1175h38M1050,1156v38M1032,1177h38M1051,1158v38M1033,1179h38M1052,1160v38M1035,1181h38M1054,1162v38M1036,1183h38M1055,1164v38M1037,1184h38M1056,1165v38M1038,1186h38M1057,1167v38M1039,1188h38M1058,1169v38M1041,1190h38M1060,1171v38M1042,1192h38M1061,1173v38M1043,1193h38M1062,1174v38M1044,1195h38M1063,1176v38M1045,1197h38M1064,1178v38M1046,1199h38M1065,1180v38M1047,1200h38M1066,1181v38M1049,1202h38M1068,1183v38M1050,1204h38M1069,1185v38M1051,1205h38M1070,1186v38M1052,1207h38M1071,1188v38M1053,1209h38M1072,1190v38M1054,1210h38M1073,1191v38M1055,1212h38M1074,1193v38M1056,1214h38M1075,1195v38M1057,1215h38M1076,1196v38M1058,1217h38M1077,1198v38M1059,1218h38M1078,1199v38M1060,1220h38M1079,1201v38M1061,1221h38M1080,1202v38M1063,1223h38M1082,1204v38M1064,1224h38M1083,1205v38M1065,1226h38M1084,1207v38M1066,1227h38M1085,1208v38M1067,1229h38M1086,1210v38M1068,1230h38M1087,1211v38M1069,1232h38M1088,1213v38M1070,1233h38M1089,1214v38M1071,1235h38M1090,1216v38M1072,1236h38M1091,1217v38M1073,1237h38M1092,1218v38M1074,1239h38M1093,1220v38M1075,1240h38M1094,1221v38M1076,1241h38M1095,1222v38M1077,1243h38M1096,1224v38M1077,1244h38M1096,1225v38M1078,1245h38M1097,1226v38M1079,1247h38M1098,1228v38M1080,1248h38M1099,1229v38M1081,1249h38M1100,1230v38M1082,1251h38M1101,1232v38M1083,1252h38M1102,1233v38M1084,1253h38M1103,1234v38M1085,1254h38M1104,1235v38M1086,1256h38M1105,1237v38M1087,1257h38M1106,1238v38M1088,1258h38M1107,1239v38M1089,1259h38M1108,1240v38M1090,1261h38M1109,1242v38M1090,1262h38M1109,1243v38M1091,1263h38M1110,1244v38M1092,1264h38M1111,1245v38M1093,1265h38M1112,1246v38M1094,1267h38M1113,1248v38M1095,1268h38M1114,1249v38M1096,1269h38M1115,1250v38M1097,1270h38M1116,1251v38M1098,1271h38M1117,1252v38M1098,1272h38M1117,1253v38M1099,1273h38M1118,1254v38M1100,1275h38M1119,1256v38M1101,1276h38M1120,1257v38M1102,1277h38M1121,1258v38M1103,1278h38M1122,1259v38M1103,1279h38M1122,1260v38M1104,1280h38M1123,1261v38M1105,1281h38M1124,1262v38M1106,1282h38M1125,1263v38M1107,1283h38M1126,1264v38M1108,1284h38M1127,1265v38M1108,1285h38M1127,1266v38M1109,1286h38M1128,1267v38M1110,1287h38M1129,1268v38M1111,1288h38M1130,1269v38M1112,1289h38M1131,1270v38M1112,1290h38M1131,1271v38M1113,1291h38M1132,1272v38M1114,1292h38M1133,1273v38M1115,1293h38M1134,1274v38M1116,1294h38M1135,1275v38M1116,1295h38M1135,1276v38M1117,1296h38M1136,1277v38M1118,1297h38M1137,1278v38M1119,1298h38M1138,1279v38M1120,1299h38M1139,1280v38M1120,1300h38M1139,1281v38M1121,1301h38M1140,1282v38M1122,1302h38M1141,1283v38M1123,1303h38M1142,1284v38M1123,1304h38M1142,1285v38M1124,1305h38M1143,1286v38M1125,1305h38M1144,1286v38M1126,1306h38M1145,1287v38M1126,1307h38M1145,1288v38M1127,1308h38M1146,1289v38M1128,1309h38M1147,1290v38M1129,1310h38M1148,1291v38M1129,1311h38M1148,1292v38M1130,1312h38M1149,1293v38M1131,1313h38M1150,1294v38M1131,1313h38M1150,1294v38M1132,1314h38M1151,1295v38M1133,1315h38M1152,1296v38M1134,1316h38M1153,1297v38M1134,1317h38M1153,1298v38M1135,1318h38M1154,1299v38M1136,1318h38M1155,1299v38M1136,1319h38M1155,1300v38M1137,1320h38M1156,1301v38M1138,1321h38M1157,1302v38M1139,1322h38M1158,1303v38M1139,1322h38M1158,1303v38M1140,1323h38M1159,1304v38M1141,1324h38M1160,1305v38M1141,1325h38M1160,1306v38M1142,1326h38M1161,1307v38M1143,1326h38M1162,1307v38M1143,1327h38M1162,1308v38M1144,1328h38M1163,1309v38M1145,1329h38M1164,1310v38M1145,1329h38M1164,1310v38M1146,1330h38M1165,1311v38M1147,1331h38M1166,1312v38M1147,1332h38M1166,1313v38M1148,1332h38M1167,1313v38M1149,1333h38M1168,1314v38M1149,1334h38M1168,1315v38M1150,1335h38M1169,1316v38M1151,1335h38M1170,1316v38M1151,1336h38M1170,1317v38M1152,1337h38M1171,1318v38M1153,1337h38M1172,1318v38M1153,1338h38M1172,1319v38M1154,1339h38M1173,1320v38M1155,1340h38M1174,1321v38M1155,1340h38M1174,1321v38M1156,1341h38M1175,1322v38M1157,1342h38M1176,1323v38M1157,1342h38M1176,1323v38M1158,1343h38M1177,1324v38M1158,1344h38M1177,1325v38M1159,1344h38M1178,1325v38M1160,1345h38M1179,1326v38M1160,1346h38M1179,1327v38M1161,1346h38M1180,1327v38M1162,1347h38M1181,1328v38M1162,1348h38M1181,1329v38M1163,1348h38M1182,1329v38M1163,1349h38M1182,1330v38M1164,1350h38M1183,1331v38M1165,1350h38M1184,1331v38M1165,1351h38M1184,1332v38M1166,1352h38M1185,1333v38M1166,1352h38M1185,1333v38M1167,1353h38M1186,1334v38M1168,1353h38M1187,1334v38M1168,1354h38M1187,1335v38M1169,1355h38M1188,1336v38M1169,1355h38M1188,1336v38M1170,1356h38M1189,1337v38M1171,1357h38M1190,1338v38M1171,1357h38M1190,1338v38M1172,1358h38M1191,1339v38M1172,1358h38M1191,1339v38M1173,1359h38M1192,1340v38M1174,1360h38M1193,1341v38M1174,1360h38M1193,1341v38M1175,1361h38M1194,1342v38M1175,1361h38M1194,1342v38M1176,1362h38M1195,1343v38M1176,1362h38M1195,1343v38M1177,1363h38M1196,1344v38M1178,1364h38M1197,1345v38M1178,1364h38M1197,1345v38M1179,1365h38M1198,1346v38M1179,1365h38M1198,1346v38M1180,1366h38M1199,1347v38M1180,1366h38M1199,1347v38M1181,1367h38M1200,1348v38M1182,1368h38M1201,1349v38M1182,1368h38M1201,1349v38M1183,1369h38M1202,1350v38M1183,1369h38M1202,1350v38M1184,1370h38M1203,1351v38M1184,1370h38M1203,1351v38M1185,1371h38M1204,1352v38M1185,1371h38M1204,1352v38M1186,1372h38M1205,1353v38M1187,1372h38M1206,1353v38M1187,1373h38M1206,1354v38M1188,1374h38M1207,1355v38M1188,1374h38M1207,1355v38M1189,1375h38M1208,1356v38M1189,1375h38M1208,1356v38M1190,1376h38M1209,1357v38M1190,1376h38M1209,1357v38M1191,1377h38M1210,1358v38M1191,1377h38M1210,1358v38M1192,1378h38M1211,1359v38M1192,1378h38M1211,1359v38M1193,1379h38M1212,1360v38M1193,1379h38M1212,1360v38M1194,1380h38M1213,1361v38M1195,1380h38M1214,1361v38M1195,1381h38M1214,1362v38M1196,1381h38M1215,1362v38M1196,1382h38M1215,1363v38M1197,1382h38M1216,1363v38M1197,1383h38M1216,1364v38M1198,1383h38M1217,1364v38M1198,1384h38M1217,1365v38M1199,1384h38M1218,1365v38M1199,1384h38M1218,1365v38M1200,1385h38M1219,1366v38M1200,1385h38M1219,1366v38M1201,1386h38M1220,1367v38M1201,1386h38M1220,1367v38M1202,1387h38M1221,1368v38M1202,1387h38M1221,1368v38M1203,1388h38M1222,1369v38M1203,1388h38M1222,1369v38M1204,1389h38M1223,1370v38M1204,1389h38M1223,1370v38M1205,1390h38M1224,1371v38M1205,1390h38M1224,1371v38M1206,1390h38M1225,1371v38M1206,1391h38M1225,1372v38M1207,1391h38M1226,1372v38M1207,1392h38M1226,1373v38M1208,1392h38M1227,1373v38M1208,1393h38M1227,1374v38M1209,1393h38M1228,1374v38M1209,1394h38M1228,1375v38M1210,1394h38M1229,1375v38M1210,1394h38M1229,1375v38M1211,1395h38M1230,1376v38M1211,1395h38M1230,1376v38M1212,1396h38M1231,1377v38M1212,1396h38M1231,1377v38M1212,1397h38M1231,1378v38M1213,1397h38M1232,1378v38M1213,1397h38M1232,1378v38M1214,1398h38M1233,1379v38M1214,1398h38M1233,1379v38M1215,1399h38M1234,1380v38M1215,1399h38M1234,1380v38M1216,1400h38M1235,1381v38M1216,1400h38M1235,1381v38M1217,1400h38M1236,1381v38M1217,1401h38M1236,1382v38M1218,1401h38M1237,1382v38M1218,1402h38M1237,1383v38M1219,1402h38M1238,1383v38M1219,1402h38M1238,1383v38M1219,1403h38M1238,1384v38M1220,1403h38M1239,1384v38M1220,1404h38M1239,1385v38M1221,1404h38M1240,1385v38M1221,1404h38M1240,1385v38M1222,1405h38M1241,1386v38M1222,1405h38M1241,1386v38M1223,1405h38M1242,1386v38M1223,1406h38M1242,1387v38M1224,1406h38M1243,1387v38M1224,1407h38M1243,1388v38M1224,1407h38M1243,1388v38M1225,1407h38M1244,1388v38M1225,1408h38M1244,1389v38M1226,1408h38M1245,1389v38M1226,1409h38M1245,1390v38M1227,1409h38M1246,1390v38M1227,1409h38M1246,1390v38M1228,1410h38M1247,1391v38M1228,1410h38M1247,1391v38M1228,1410h38M1247,1391v38M1229,1411h38M1248,1392v38M1229,1411h38M1248,1392v38M1230,1411h38M1249,1392v38M1230,1412h38M1249,1393v38M1231,1412h38M1250,1393v38M1231,1413h38M1250,1394v38M1231,1413h38M1250,1394v38M1232,1413h38M1251,1394v38M1232,1414h38M1251,1395v38M1233,1414h38M1252,1395v38M1233,1414h38M1252,1395v38M1234,1415h38M1253,1396v38M1234,1415h38M1253,1396v38M1234,1415h38M1253,1396v38M1235,1416h38M1254,1397v38M1235,1416h38M1254,1397v38M1236,1416h38M1255,1397v38M1236,1417h38M1255,1398v38M1237,1417h38M1256,1398v38M1237,1417h38M1256,1398v38M1237,1418h38M1256,1399v38M1238,1418h38M1257,1399v38M1238,1418h38M1257,1399v38M1239,1419h38M1258,1400v38M1239,1419h38M1258,1400v38M1239,1419h38M1258,1400v38M1240,1420h38M1259,1401v38M1240,1420h38M1259,1401v38M1241,1420h38M1260,1401v38M1241,1421h38M1260,1402v38M1242,1421h38M1261,1402v38M1242,1421h38M1261,1402v38M1242,1422h38M1261,1403v38M1243,1422h38M1262,1403v38M1243,1422h38M1262,1403v38M1244,1423h38M1263,1404v38M1244,1423h38M1263,1404v38M1244,1423h38M1263,1404v38M1245,1424h38M1264,1405v38M1245,1424h38M1264,1405v38M1246,1424h38M1265,1405v38M1246,1425h38M1265,1406v38M1246,1425h38M1265,1406v38M1247,1425h38M1266,1406v38M1247,1426h38M1266,1407v38M1248,1426h38M1267,1407v38M1248,1426h38M1267,1407v38M1248,1427h38M1267,1408v38M1249,1427h38M1268,1408v38M1249,1427h38M1268,1408v38M1250,1427h38M1269,1408v38M1250,1428h38M1269,1409v38M1250,1428h38M1269,1409v38M1251,1428h38M1270,1409v38M1251,1429h38M1270,1410v38M1251,1429h38M1270,1410v38M1252,1429h38M1271,1410v38M1252,1430h38M1271,1411v38M1253,1430h38M1272,1411v38M1253,1430h38M1272,1411v38M1253,1430h38M1272,1411v38M1254,1431h38M1273,1412v38M1254,1431h38M1273,1412v38" stroke="#0072bd" stroke-width="6" fill="none"/>
<path d="M1233.5,1376.7L1234,1377.2L1234.5,1377.6L1234.9,1378L1235.4,1378.4L1235.9,1378.9L1236.4,1379.3L1236.8,1379.7L1237.3,1380.1L1237.8,1380.5L1238.2,1380.9L1238.7,1381.3L1239.2,1381.7L1239.6,1382.1L1240.1,1382.5L1240.5,1383L1241,1383.4L1241.5,1383.7L1241.9,1384.1L1242.4,1384.5L1242.8,1384.9L1243.3,1385.3L1243.7,1385.7L1244.2,1386.1L1244.6,1386.5L1245.1,1386.9L1245.5,1387.3L1246,1387.6L1246.4,1388L1246.9,1388.4L1247.3,1388.8L1247.8,1389.2L1248.2,1389.5L1248.7,1389.9L1249.1,1390.3L1249.5,1390.7L1250,1391L1250.4,1391.4L1250.9,1391.8L1251.3,1392.1L1251.7,1392.5L1252.2,1392.9L1252.6,1393.2L1253,1393.6L1253.5,1393.9L1253.9,1394.3L1254.3,1394.6L1254.7,1395L1255.2,1395.4L1255.6,1395.7L1256,1396.1L1256.4,1396.4L1256.9,1396.7L1257.3,1397.1L1257.7,1397.4L1258.1,1397.8L1258.6,1398.1L1259,1398.5L1259.4,1398.8L1259.8,1399.1L1260.2,1399.5L1260.6,1399.8L1261.1,1400.2L1261.5,1400.5L1261.9,1400.8L1262.3,1401.2L1262.7,1401.5L1263.1,1401.8L1263.5,1402.1L1263.9,1402.5L1264.3,1402.8L1264.7,1403.1L1265.2,1403.4L1265.6,1403.8L1266,1404.1L1266.4,1404.4L1266.8,1404.7L1267.2,1405L1267.6,1405.4L1268,1405.7L1268.4,1406L1268.8,1406.3L1269.2,1406.6L1269.6,1406.9L1270,1407.2L1270.3,1407.5L1271.1,1408.1L1271.9,1408.8L1272.7,1409.4L1273.5,1410L1274.3,1410.6L1275,1411.1L1275.8,1411.7L1276.6,1412.3L1277.3,1412.9L1278.1,1413.5L1278.8,1414.1L1279.6,1414.6L1280.3,1415.2L1281.1,1415.7L1281.8,1416.3L1282.6,1416.9L1283.3,1417.4L1284,1418L1284.8,1418.5L1285.5,1419L1286.2,1419.6L1287,1420.1L1287.7,1420.6L1288.4,1421.2L1289.1,1421.7L1289.8,1422.2L1290.5,1422.7L1291.3,1423.2L1292,1423.7L1292.7,1424.2L1293.4,1424.7L1294.1,1425.2L1294.8,1425.7L1295.5,1426.2L1296.1,1426.7L1296.8,1427.2L1297.5,1427.7L1298.2,1428.2L1298.9,1428.7L1299.6,1429.1L1300.2,1429.6L1300.9,1430.1L1301.6,1430.5L1302.3,1431L1302.9,1431.5L1303.6,1431.9L1304.3,1432.4L1304.9,1432.8L1305.6,1433.3L1306.2,1433.7L1306.9,1434.2L1307.5,1434.6L1308.2,1435.1L1308.8,1435.5L1309.5,1435.9L1310.1,1436.4L1310.8,1436.8L1311.4,1437.2L1312,1437.6L1312.7,1438.1L1313.3,1438.5L1313.9,1438.9L1314.6,1439.3L1315.2,1439.7L1315.8,1440.1L1316.4,1440.5L1317,1441L1317.7,1441.4L1318.3,1441.8L1318.9,1442.2L1319.5,1442.6L1320.1,1443L1320.7,1443.3L1321.3,1443.7L1321.9,1444.1L1322.5,1444.5L1323.1,1444.9L1323.7,1445.3L1324.3,1445.7L1324.9,1446L1325.5,1446.4L1326.1,1446.8L1326.7,1447.2L1327.3,1447.5L1327.9,1447.9L1328.5,1448.3L1329,1448.6L1329.6,1449L1330.2,1449.3L1330.8,1449.7L1331.4,1450.1L1331.9,1450.4L1332.5,1450.8L1333.1,1451.1L1333.6,1451.5L1334.2,1451.8L1334.8,1452.2L1335.3,1452.5L1335.9,1452.8L1336.5,1453.2L1337,1453.5L1337.6,1453.9L1338.1,1454.2L1338.7,1454.5L1339.2,1454.9L1339.8,1455.2L1340.3,1455.5L1340.9,1455.9L1341.4,1456.2L1342,1456.5L1342.5,1456.8L1343,1457.1L1343.6,1457.5L1344.1,1457.8L1344.7,1458.1L1345.2,1458.4L1345.7,1458.7L1346.3,1459L1346.8,1459.3L1347.3,1459.7L1347.9,1460L1348.4,1460.3L1348.9,1460.6L1349.4,1460.9L1350,1461.2L1350.5,1461.5L1351,1461.8L1351.5,1462.1L1352,1462.4L1352.5,1462.7L1353.1,1462.9L1353.6,1463.2L1354.1,1463.5L1354.6,1463.8L1355.1,1464.1L1355.6,1464.4L1356.1,1464.7L1356.6,1465L1357.1,1465.2L1357.6,1465.5L1358.1,1465.8L1358.6,1466.1L1359.1,1466.4L1359.6,1466.6L1360.1,1466.9L1360.6,1467.2L1361.1,1467.4L1361.6,1467.7L1362.1,1468L1362.6,1468.3L1363.1,1468.5L1363.5,1468.8L1364,1469.1L1364.5,1469.3L1365,1469.6L1365.5,1469.8L1366,1470.1L1366.4,1470.4L1366.9,1470.6L1367.4,1470.9L1367.9,1471.1L1368.3,1471.4L1368.8,1471.6L1369.3,1471.9L1369.8,1472.1L1370.2,1472.4L1370.7,1472.6L1371.2,1472.9L1371.6,1473.1L1372.1,1473.4L1372.6,1473.6L1373,1473.9L1373.5,1474.1L1373.9,1474.4L1374.4,1474.6L1374.9,1474.8L1375.3,1475.1L1375.8,1475.3L1376.2,1475.5L1376.7,1475.8L1377.1,1476L1377.6,1476.3L1378,1476.5L1378.5,1476.7L1378.9,1476.9L1379.4,1477.2L1379.8,1477.4L1380.3,1477.6L1380.9,1478L1381.6,1478.3L1382.3,1478.6L1382.9,1479L1383.6,1479.3L1384.2,1479.6L1384.9,1480L1385.5,1480.3L1386.2,1480.6L1386.8,1480.9L1387.5,1481.3L1388.1,1481.6L1388.8,1481.9L1389.4,1482.2L1390,1482.5L1390.7,1482.8L1391.3,1483.2L1391.9,1483.5L1392.6,1483.8L1393.2,1484.1L1393.8,1484.4L1394.4,1484.7L1395.1,1485L1395.7,1485.3L1396.3,1485.6L1396.9,1485.9L1397.5,1486.1L1398.1,1486.4L1398.7,1486.7L1399.3,1487L1399.9,1487.3L1400.5,1487.6L1401.1,1487.9L1401.7,1488.1L1402.3,1488.4L1402.9,1488.7L1403.5,1489L1404.1,1489.3L1404.7,1489.5L1405.3,1489.8L1405.9,1490.1L1406.5,1490.3L1407,1490.6L1407.6,1490.9L1408.2,1491.1L1408.8,1491.4L1409.4,1491.7L1409.9,1491.9L1410.5,1492.2L1411.1,1492.4L1411.6,1492.7L1412.2,1493L1412.8,1493.2L1413.3,1493.5L1413.9,1493.7L1414.5,1494L1415,1494.2L1415.6,1494.5L1416.1,1494.7L1416.7,1494.9L1417.2,1495.2L1417.8,1495.4L1418.3,1495.7L1418.9,1495.9L1419.4,1496.2L1420,1496.4L1420.5,1496.6L1421.1,1496.9L1421.6,1497.1L1422.1,1497.3L1422.7,1497.6L1423.2,1497.8L1423.7,1498L1424.3,1498.2L1424.8,1498.5L1425.3,1498.7L1425.9,1498.9L1426.4,1499.1L1426.9,1499.4L1427.4,1499.6L1428,1499.8L1428.5,1500L1429,1500.3L1429.5,1500.5L1430,1500.7L1430.5,1500.9L1431.1,1501.1L1431.6,1501.3L1432.1,1501.5L1432.6,1501.7L1433.1,1502L1433.6,1502.2L1434.1,1502.4L1434.6,1502.6L1435.1,1502.8L1435.6,1503L1436.1,1503.2L1436.6,1503.4L1437.1,1503.6L1437.6,1503.8L1438.1,1504L1438.6,1504.2L1439.1,1504.4L1439.6,1504.6L1440.1,1504.8L1440.6,1505L1441.1,1505.2L1441.5,1505.4L1442,1505.6L1442.5,1505.8L1443,1506L1443.5,1506.2L1444,1506.3L1444.4,1506.5L1444.9,1506.7L1445.4,1506.9L1445.9,1507.1L1446.3,1507.3L1446.8,1507.5L1447.3,1507.7L1447.8,1507.8L1448.2,1508L1448.7,1508.2L1449.2,1508.4L1449.9,1508.7L1450.7,1509L1451.5,1509.3L1452.2,1509.6L1453,1509.9L1453.8,1510.1L1454.5,1510.4L1455.3,1510.7L1456,1511L1456.8,1511.3L1457.5,1511.6L1458.3,1511.8L1459,1512.1L1459.8,1512.4L1460.5,1512.7L1461.2,1512.9L1462,1513.2L1462.7,1513.5L1463.4,1513.7L1464.1,1514L1464.8,1514.3L1465.6,1514.5L1466.3,1514.8L1467,1515L1467.7,1515.3L1468.4,1515.5L1469.1,1515.8L1469.8,1516L1470.5,1516.3L1471.2,1516.5L1471.9,1516.8L1472.6,1517L1473.3,1517.3L1473.9,1517.5L1474.6,1517.7L1475.3,1518L1476,1518.2L1476.7,1518.4L1477.3,1518.7L1478,1518.9L1478.7,1519.1L1479.3,1519.4L1480,1519.6L1480.7,1519.8L1481.3,1520L1482,1520.3L1482.6,1520.5L1483.3,1520.7L1483.9,1520.9L1484.6,1521.1L1485.2,1521.4L1485.9,1521.6L1486.5,1521.8L1487.3,1522L1487.8,1522.2L1488.3,1522.4L1488.8,1522.5L1489.3,1522.7L1489.8,1522.9L1490.3,1523L1490.8,1523.2L1491.3,1523.4L1491.8,1523.5L1492.3,1523.7L1492.8,1523.8L1493.3,1524L1493.8,1524.2L1494.3,1524.3L1494.8,1524.5L1495.3,1524.6L1495.8,1524.8L1496.3,1524.9L1496.8,1525.1L1497.2,1525.3L1497.7,1525.4L1498.2,1525.6L1498.7,1525.7L1499.2,1525.9L1499.6,1526L1500.1,1526.2L1501,1526.4L1501.8,1526.7L1502.6,1526.9L1503.4,1527.2L1504.3,1527.5L1505.1,1527.7L1505.9,1528L1506.7,1528.2L1507.5,1528.4L1508.3,1528.7L1509.1,1528.9L1509.9,1529.2L1510.7,1529.4L1511.5,1529.6L1512.3,1529.9L1513.1,1530.1L1513.8,1530.3L1514.6,1530.6L1515.4,1530.8L1516.2,1531L1516.9,1531.2L1517.7,1531.5L1518.4,1531.7L1519.2,1531.9L1520,1532.1L1520.7,1532.3L1521.5,1532.6L1522.2,1532.8L1522.9,1533L1523.7,1533.2L1524.4,1533.4L1525.2,1533.6L1525.9,1533.8L1526.6,1534L1527.4,1534.2L1528.1,1534.4L1528.8,1534.6L1529.5,1534.8L1530.2,1535L1530.9,1535.2L1531.7,1535.4L1532.4,1535.6L1533.1,1535.8L1533.8,1536L1534.5,1536.2L1535.2,1536.4L1535.9,1536.6L1536.6,1536.8L1537.2,1536.9L1537.9,1537.1L1538.6,1537.3L1539.3,1537.5L1540,1537.7L1540.7,1537.9L1541.3,1538L1542,1538.2L1542.9,1538.4L1543.7,1538.7L1544.6,1538.9L1545.4,1539.1L1546.3,1539.3L1547.1,1539.5L1548,1539.8L1548.8,1540L1549.6,1540.2L1550.5,1540.4L1551.3,1540.6L1552.1,1540.8L1552.9,1541L1553.7,1541.2L1554.6,1541.4L1555.4,1541.6L1556.2,1541.8L1557,1542L1557.8,1542.2L1558.6,1542.4L1559.4,1542.6L1560.1,1542.8L1560.9,1543L1561.7,1543.2L1562.5,1543.4L1563.3,1543.5L1564,1543.7L1564.8,1543.9L1565.6,1544.1L1566.3,1544.3L1567.1,1544.5L1567.8,1544.6L1568.6,1544.8L1569.4,1545L1570.1,1545.2L1570.8,1545.3L1571.6,1545.5L1572.3,1545.7L1573.1,1545.9L1573.8,1546L1574.5,1546.2L1575.3,1546.4L1576,1546.5L1576.7,1546.7L1577.4,1546.9L1578.1,1547L1578.9,1547.2L1579.6,1547.3L1580.3,1547.5L1581,1547.6L1581.7,1547.8L1582.4,1548L1583.1,1548.1L1583.8,1548.3L1584.5,1548.4L1585.3,1548.6L1586.1,1548.8L1586.9,1549L1587.8,1549.1L1588.6,1549.3L1589.4,1549.5L1590.2,1549.7L1591.1,1549.8L1591.9,1550L1592.7,1550.2L1593.5,1550.4L1594.3,1550.5L1595.1,1550.7L1595.9,1550.9L1596.7,1551L1597.5,1551.2L1598.3,1551.4L1599.1,1551.5L1599.9,1551.7L1600.6,1551.8L1601.4,1552L1602.2,1552.2L1603,1552.3L1603.7,1552.5L1604.5,1552.6L1605.3,1552.8L1606,1552.9L1606.8,1553.1L1607.5,1553.2L1608.3,1553.4L1609,1553.5L1609.8,1553.7L1610.5,1553.8L1611.2,1554L1612,1554.1L1612.7,1554.3L1613.4,1554.4L1614.2,1554.5L1614.9,1554.7L1615.6,1554.8L1616.3,1555L1617.1,1555.1L1617.8,1555.2L1618.5,1555.4L1619.2,1555.5L1619.9,1555.6L1620.7,1555.8L1621.5,1555.9L1622.4,1556.1L1623.2,1556.3L1624,1556.4L1624.8,1556.6L1625.6,1556.7L1626.4,1556.8L1627.2,1557L1628,1557.1L1628.8,1557.3L1629.6,1557.4L1630.4,1557.6L1631.2,1557.7L1632,1557.9L1632.8,1558L1633.5,1558.1L1634.3,1558.3L1635.1,1558.4L1635.9,1558.5L1636.6,1558.7L1637.4,1558.8L1638.1,1558.9L1638.9,1559.1L1639.6,1559.2L1640.4,1559.3L1641.1,1559.5L1641.9,1559.6L1642.6,1559.7L1643.4,1559.8L1644.1,1560L1644.8,1560.1L1645.6,1560.2L1646.3,1560.3L1647,1560.5L1647.7,1560.6L1648.5,1560.7L1649.2,1560.8L1649.9,1560.9L1650.8,1561.1L1651.6,1561.2L1652.4,1561.4L1653.2,1561.5L1654,1561.6L1654.8,1561.7L1655.6,1561.9L1656.4,1562L1657.2,1562.1L1658,1562.3L1658.8,1562.4L1659.6,1562.5L1660.3,1562.6L1661.1,1562.8L1661.9,1562.9L1662.7,1563L1663.4,1563.1L1664.2,1563.2L1665,1563.4L1665.7,1563.5L1666.5,1563.6L1667.2,1563.7L1668,1563.8L1668.7,1563.9L1669.5,1564L1670.2,1564.2L1670.9,1564.3L1671.7,1564.4L1672.4,1564.5L1673.1,1564.6L1673.9,1564.7L1674.6,1564.8L1675.3,1564.9L1676.1,1565L1676.9,1565.2L1677.7,1565.3L1678.5,1565.4L1679.3,1565.5L1680.1,1565.6L1680.9,1565.7L1681.7,1565.9L1682.5,1566L1683.3,1566.1L1684.1,1566.2L1684.9,1566.3L1685.6,1566.4L1686.4,1566.5L1687.2,1566.6L1687.9,1566.7L1688.7,1566.9L1689.5,1567L1690.2,1567.1L1691,1567.2L1691.7,1567.3L1692.5,1567.4L1693.2,1567.5L1694,1567.6L1694.7,1567.7L1695.4,1567.8L1696.2,1567.9L1696.9,1568L1697.6,1568.1L1698.4,1568.2L1699.2,1568.3L1700,1568.4L1700.8,1568.5L1701.6,1568.6L1702.4,1568.7L1703.2,1568.8L1704,1568.9L1704.8,1569L1705.5,1569.1L1706.3,1569.2L1707.1,1569.3L1707.9,1569.4L1708.6,1569.5L1709.4,1569.6L1710.2,1569.7L1710.9,1569.8L1711.7,1569.9L1712.4,1570L1713.2,1570.1L1713.9,1570.2L1714.7,1570.3L1715.4,1570.4L1716.1,1570.5L1716.9,1570.6L1717.6,1570.7L1718.3,1570.7L1719.2,1570.8L1720,1570.9L1720.7,1571L1721.5,1571.1L1722.3,1571.2L1723.1,1571.3L1723.9,1571.4L1724.7,1571.5L1725.5,1571.6L1726.2,1571.7L1727,1571.8L1727.8,1571.9L1728.5,1572L1729.3,1572.1L1730.1,1572.1L1730.8,1572.2L1731.6,1572.3L1732.3,1572.4L1733.1,1572.5L1733.8,1572.6L1734.6,1572.7L1735.3,1572.8L1736,1572.8L1736.8,1572.9L1737.6,1573L1738.4,1573.1L1739.2,1573.2L1740,1573.3L1740.8,1573.4L1741.6,1573.5L1742.3,1573.5L1743.1,1573.6L1743.9,1573.7L1744.7,1573.8L1745.4,1573.9L1746.2,1574L1747,1574L1747.7,1574.1L1748.5,1574.2L1749.2,1574.3L1750,1574.4L1750.7,1574.5L1751.5,1574.5L1752.2,1574.6L1753,1574.7L1753.7,1574.8L1754.5,1574.9L1755.3,1574.9L1756.1,1575L1756.9,1575.1L1757.7,1575.2L1758.4,1575.3L1759.2,1575.3L1760,1575.4L1760.8,1575.5L1761.5,1575.6L1762.3,1575.7L1763.1,1575.7L1763.8,1575.8L1764.6,1575.9L1765.3,1576L1766.1,1576L1766.8,1576.1L1767.6,1576.2L1768.3,1576.3L1769.1,1576.3L1769.9,1576.4L1770.7,1576.5L1771.5,1576.6L1772.2,1576.6L1773,1576.7L1773.8,1576.8L1774.6,1576.9L1775.3,1576.9L1776.1,1577L1776.9,1577.1L1777.6,1577.2L1778.4,1577.2L1779.2,1577.3L1779.9,1577.4L1780.7,1577.4L1781.4,1577.5L1782.2,1577.6L1782.9,1577.6L1783.7,1577.7L1784.5,1577.8L1785.3,1577.9L1786.1,1577.9L1786.8,1578L1787.6,1578.1L1788.4,1578.1L1789.2,1578.2L1789.9,1578.3L1790.7,1578.4L1791.5,1578.4L1792.2,1578.5L1793,1578.6L1793.7,1578.6L1794.5,1578.7L1795.2,1578.8L1796,1578.8L1796.8,1578.9L1797.5,1579L1798.3,1579L1799.1,1579.1L1799.9,1579.2L1800.7,1579.2L1801.4,1579.3L1802.2,1579.4L1803,1579.4L1803.7,1579.5L1804.5,1579.5L1805.3,1579.6L1806,1579.7L1806.8,1579.7L1807.5,1579.8L1808.3,1579.9L1809,1579.9L1809.8,1580L1810.6,1580.1L1811.4,1580.1L1812.2,1580.2L1813,1580.2L1813.7,1580.3L1814.5,1580.4L1815.3,1580.4L1816,1580.5L1816.8,1580.6L1817.5,1580.6L1818.3,1580.7L1819,1580.7L1819.8,1580.8L1820.6,1580.9L1821.4,1580.9L1822.1,1581L1822.9,1581L1823.7,1581.1L1824.5,1581.2L1825.2,1581.2L1826,1581.3L1826.8,1581.3L1827.5,1581.4L1828.3,1581.4L1829.1,1581.5L1829.8,1581.6L1830.6,1581.6L1831.3,1581.7L1832.1,1581.7L1832.9,1581.8L1833.7,1581.8L1834.4,1581.9L1835.2,1582L1836,1582L1836.8,1582.1L1837.5,1582.1L1838.3,1582.2L1839,1582.2L1839.8,1582.3L1840.5,1582.3L1841.3,1582.4L1842.1,1582.5L1842.9,1582.5L1843.6,1582.6L1844.4,1582.6L1845.2,1582.7L1846,1582.7L1846.7,1582.8L1847.5,1582.8L1848.3,1582.9L1849,1582.9L1849.8,1583L1850.5,1583L1851.3,1583.1L1852.1,1583.1L1852.8,1583.2L1853.6,1583.3L1854.4,1583.3L1855.2,1583.4L1856,1583.4L1856.7,1583.5L1857.5,1583.5L1858.2,1583.6L1859,1583.6L1859.8,1583.7L1860.5,1583.7L1861.3,1583.8L1862.1,1583.8L1862.8,1583.9L1863.6,1583.9L1864.4,1584L1865.2,1584L1865.9,1584.1L1866.7,1584.1L1867.5,1584.2L1868.2,1584.2L1869,1584.3L1869.7,1584.3L1870.5,1584.3L1871.3,1584.4L1872.1,1584.4L1872.8,1584.5L1873.6,1584.5L1874.4,1584.6L1875.1,1584.6L1875.9,1584.7L1876.7,1584.7L1877.4,1584.8L1878.2,1584.8L1879,1584.9L1879.7,1584.9L1880.5,1585L1881.3,1585L1882.1,1585.1L1882.8,1585.1L1883.6,1585.1L1884.4,1585.2L1885.1,1585.2L1885.9,1585.3L1886.6,1585.3L1887.4,1585.4L1888.2,1585.4L1889,1585.5L1889.7,1585.5L1890.5,1585.5L1891.3,1585.6L1892,1585.6L1892.8,1585.7L1893.6,1585.7L1894.3,1585.8L1895.1,1585.8L1895.9,1585.8L1896.6,1585.9L1897.4,1585.9L1898.2,1586L1899,1586L1899.7,1586.1L1900.5,1586.1L1901.2,1586.1L1902,1586.2L1902.8,1586.2L1903.5,1586.3L1904.3,1586.3L1905.1,1586.4L1905.9,1586.4L1906.6,1586.4L1907.4,1586.5L1908.1,1586.5L1908.9,1586.6L1909.7,1586.6L1910.5,1586.6L1911.2,1586.7L1912,1586.7L1912.8,1586.8L1913.5,1586.8L1914.3,1586.8L1915.1,1586.9L1915.8,1586.9L1916.6,1586.9L1917.4,1587L1918.1,1587L1918.9,1587.1L1919.7,1587.1L1920.4,1587.1L1921.2,1587.2L1922,1587.2L1922.7,1587.3L1923.5,1587.3L1924.3,1587.3L1925.1,1587.4L1925.8,1587.4L1926.6,1587.4L1927.4,1587.5L1928.1,1587.5L1928.9,1587.6L1929.6,1587.6L1930.4,1587.6L1931.2,1587.7L1932,1587.7L1932.7,1587.7L1933.5,1587.8L1934.3,1587.8L1935,1587.8L1935.8,1587.9L1936.6,1587.9L1937.3,1588L1938.1,1588L1938.9,1588L1939.7,1588.1L1940.4,1588.1L1941.2,1588.1L1941.9,1588.2L1942.7,1588.2L1943.5,1588.2L1944.3,1588.3L1945,1588.3L1945.8,1588.3L1946.6,1588.4L1947.3,1588.4L1948.1,1588.4L1948.9,1588.5L1949.6,1588.5L1950.4,1588.5L1951.2,1588.6L1951.9,1588.6L1952.7,1588.6L1953.5,1588.7L1954.2,1588.7L1955,1588.7L1955.8,1588.8L1956.5,1588.8L1957.3,1588.8L1958.1,1588.9L1958.8,1588.9L1959.6,1588.9L1960.4,1589L1961.2,1589L1961.9,1589L1962.7,1589.1L1963.5,1589.1L1964.2,1589.1L1965,1589.2L1965.8,1589.2L1966.5,1589.2L1967.3,1589.3L1968.1,1589.3L1968.8,1589.3L1969.6,1589.3L1970.4,1589.4L1971.1,1589.4L1971.9,1589.4L1972.7,1589.5L1973.4,1589.5L1974.2,1589.5L1975,1589.6L1975.7,1589.6L1976.5,1589.6L1977.3,1589.6L1978.1,1589.7L1978.8,1589.7L1979.6,1589.7L1980.3,1589.8L1981.1,1589.8L1981.9,1589.8L1982.7,1589.9L1983.4,1589.9L1984.2,1589.9L1985,1589.9L1985.7,1590L1986.5,1590L1987.3,1590L1988,1590.1L1988.8,1590.1L1989.6,1590.1L1990.3,1590.1L1991.1,1590.2L1991.9,1590.2L1992.6,1590.2L1993.4,1590.2L1994.2,1590.3L1994.9,1590.3L1995.7,1590.3L1996.5,1590.4L1997.2,1590.4L1998,1590.4L1998.8,1590.4L1999.5,1590.5L2000.3,1590.5L2001.1,1590.5L2001.9,1590.5L2002.6,1590.6L2003.4,1590.6L2004.2,1590.6L2004.9,1590.6L2005.7,1590.7L2006.5,1590.7L2007.2,1590.7L2008,1590.8L2008.8,1590.8L2009.5,1590.8L2010.3,1590.8L2011.1,1590.9L2011.8,1590.9L2012.6,1590.9L2013.4,1590.9L2014.2,1591L2014.9,1591L2015.7,1591L2016.5,1591L2017.2,1591.1L2018,1591.1L2018.8,1591.1L2019.5,1591.1L2020.3,1591.2L2021.1,1591.2L2021.8,1591.2L2022.6,1591.2L2023.4,1591.2L2024.1,1591.3L2024.9,1591.3L2025.7,1591.3L2026.4,1591.3L2027.2,1591.4L2028,1591.4L2028.7,1591.4L2029.5,1591.4L2030.3,1591.5L2031,1591.5L2031.8,1591.5L2032.6,1591.5L2033.4,1591.6L2034.1,1591.6L2034.9,1591.6L2035.6,1591.6L2036.4,1591.6L2037.2,1591.7L2038,1591.7L2038.7,1591.7L2039.5,1591.7L2040.3,1591.8L2041,1591.8L2041.8,1591.8L2042.6,1591.8L2043.3,1591.8L2044.1,1591.9L2044.9,1591.9L2045.6,1591.9L2046.4,1591.9L2047.2,1592L2047.9,1592L2048.7,1592L2049.5,1592L2050.2,1592L2051,1592.1L2051.8,1592.1L2052.5,1592.1L2053.3,1592.1L2054.1,1592.1L2054.9,1592.2L2055.6,1592.2L2056.4,1592.2L2057.2,1592.2L2057.9,1592.2L2058.7,1592.3L2059.5,1592.3L2060.2,1592.3L2061,1592.3L2061.8,1592.4L2062.5,1592.4L2063.3,1592.4L2064.1,1592.4L2064.8,1592.4L2065.6,1592.5L2066.4,1592.5L2067.1,1592.5L2067.9,1592.5L2068.7,1592.5L2069.4,1592.5L2070.2,1592.6L2071,1592.6L2071.7,1592.6L2072.5,1592.6L2073.3,1592.6L2074.1,1592.7L2074.8,1592.7L2075.6,1592.7L2076.4,1592.7L2077.1,1592.7L2077.9,1592.8L2078.7,1592.8L2079.4,1592.8L2080.2,1592.8L2081,1592.8L2081.7,1592.9L2082.5,1592.9L2083.3,1592.9L2084,1592.9L2084.8,1592.9L2085.6,1592.9L2086.3,1593L2087.1,1593L2087.9,1593L2088.6,1593L2089.4,1593L2090.2,1593.1L2091,1593.1L2091.7,1593.1L2092.5,1593.1L2093.3,1593.1L2094,1593.1L2094.8,1593.2L2095.6,1593.2L2096.3,1593.2L2097.1,1593.2L2097.9,1593.2L2098.6,1593.2L2099.4,1593.3L2100.2,1593.3L2100.9,1593.3L2101.7,1593.3L2102.5,1593.3L2103.2,1593.3L2104,1593.4L2104.8,1593.4L2105.5,1593.4L2106.3,1593.4L2107.1,1593.4L2107.9,1593.4L2108.6,1593.5L2109.4,1593.5L2110.2,1593.5L2110.9,1593.5L2111.7,1593.5L2112.5,1593.5L2113.2,1593.6L2114,1593.6L2114.8,1593.6L2115.5,1593.6L2116.3,1593.6L2117.1,1593.6L2117.8,1593.6L2111.8,1631.6L2111.1,1631.6L2110.3,1631.6L2109.5,1631.6L2108.8,1631.6L2108,1631.6L2107.2,1631.6L2106.5,1631.5L2105.7,1631.5L2104.9,1631.5L2104.2,1631.5L2103.4,1631.5L2102.6,1631.5L2101.9,1631.4L2101.1,1631.4L2100.3,1631.4L2099.5,1631.4L2098.8,1631.4L2098,1631.4L2097.2,1631.3L2096.5,1631.3L2095.7,1631.3L2094.9,1631.3L2094.2,1631.3L2093.4,1631.3L2092.6,1631.2L2091.9,1631.2L2091.1,1631.2L2090.3,1631.2L2089.6,1631.2L2088.8,1631.2L2088,1631.1L2087.3,1631.1L2086.5,1631.1L2085.7,1631.1L2085,1631.1L2084.2,1631.1L2083.4,1631L2082.6,1631L2081.9,1631L2081.1,1631L2080.3,1631L2079.6,1630.9L2078.8,1630.9L2078,1630.9L2077.3,1630.9L2076.5,1630.9L2075.7,1630.9L2075,1630.8L2074.2,1630.8L2073.4,1630.8L2072.7,1630.8L2071.9,1630.8L2071.1,1630.7L2070.4,1630.7L2069.6,1630.7L2068.8,1630.7L2068.1,1630.7L2067.3,1630.6L2066.5,1630.6L2065.7,1630.6L2065,1630.6L2064.2,1630.6L2063.4,1630.5L2062.7,1630.5L2061.9,1630.5L2061.1,1630.5L2060.4,1630.5L2059.6,1630.5L2058.8,1630.4L2058.1,1630.4L2057.3,1630.4L2056.5,1630.4L2055.8,1630.4L2055,1630.3L2054.2,1630.3L2053.5,1630.3L2052.7,1630.3L2051.9,1630.2L2051.2,1630.2L2050.4,1630.2L2049.6,1630.2L2048.9,1630.2L2048.1,1630.1L2047.3,1630.1L2046.5,1630.1L2045.8,1630.1L2045,1630.1L2044.2,1630L2043.5,1630L2042.7,1630L2041.9,1630L2041.2,1630L2040.4,1629.9L2039.6,1629.9L2038.9,1629.9L2038.1,1629.9L2037.3,1629.8L2036.6,1629.8L2035.8,1629.8L2035,1629.8L2034.3,1629.8L2033.5,1629.7L2032.7,1629.7L2032,1629.7L2031.2,1629.7L2030.4,1629.6L2029.6,1629.6L2028.9,1629.6L2028.1,1629.6L2027.4,1629.6L2026.6,1629.5L2025.8,1629.5L2025,1629.5L2024.3,1629.5L2023.5,1629.4L2022.7,1629.4L2022,1629.4L2021.2,1629.4L2020.4,1629.3L2019.7,1629.3L2018.9,1629.3L2018.1,1629.3L2017.4,1629.2L2016.6,1629.2L2015.8,1629.2L2015.1,1629.2L2014.3,1629.2L2013.5,1629.1L2012.8,1629.1L2012,1629.1L2011.2,1629.1L2010.5,1629L2009.7,1629L2008.9,1629L2008.2,1629L2007.4,1628.9L2006.6,1628.9L2005.8,1628.9L2005.1,1628.9L2004.3,1628.8L2003.5,1628.8L2002.8,1628.8L2002,1628.8L2001.2,1628.7L2000.5,1628.7L1999.7,1628.7L1998.9,1628.6L1998.2,1628.6L1997.4,1628.6L1996.6,1628.6L1995.9,1628.5L1995.1,1628.5L1994.3,1628.5L1993.5,1628.5L1992.8,1628.4L1992,1628.4L1991.2,1628.4L1990.5,1628.4L1989.7,1628.3L1988.9,1628.3L1988.2,1628.3L1987.4,1628.2L1986.6,1628.2L1985.9,1628.2L1985.1,1628.2L1984.3,1628.1L1983.6,1628.1L1982.8,1628.1L1982,1628.1L1981.3,1628L1980.5,1628L1979.7,1628L1979,1627.9L1978.2,1627.9L1977.4,1627.9L1976.7,1627.9L1975.9,1627.8L1975.1,1627.8L1974.3,1627.8L1973.6,1627.7L1972.8,1627.7L1972.1,1627.7L1971.3,1627.6L1970.5,1627.6L1969.7,1627.6L1969,1627.6L1968.2,1627.5L1967.4,1627.5L1966.7,1627.5L1965.9,1627.4L1965.1,1627.4L1964.4,1627.4L1963.6,1627.3L1962.8,1627.3L1962.1,1627.3L1961.3,1627.3L1960.5,1627.2L1959.8,1627.2L1959,1627.2L1958.2,1627.1L1957.5,1627.1L1956.7,1627.1L1955.9,1627L1955.2,1627L1954.4,1627L1953.6,1626.9L1952.8,1626.9L1952.1,1626.9L1951.3,1626.8L1950.5,1626.8L1949.8,1626.8L1949,1626.7L1948.2,1626.7L1947.5,1626.7L1946.7,1626.6L1945.9,1626.6L1945.2,1626.6L1944.4,1626.5L1943.6,1626.5L1942.9,1626.5L1942.1,1626.4L1941.3,1626.4L1940.6,1626.4L1939.8,1626.3L1939,1626.3L1938.3,1626.3L1937.5,1626.2L1936.7,1626.2L1935.9,1626.2L1935.2,1626.1L1934.4,1626.1L1933.7,1626.1L1932.9,1626L1932.1,1626L1931.3,1626L1930.6,1625.9L1929.8,1625.9L1929,1625.8L1928.3,1625.8L1927.5,1625.8L1926.7,1625.7L1926,1625.7L1925.2,1625.7L1924.4,1625.6L1923.6,1625.6L1922.9,1625.6L1922.1,1625.5L1921.4,1625.5L1920.6,1625.4L1919.8,1625.4L1919.1,1625.4L1918.3,1625.3L1917.5,1625.3L1916.7,1625.3L1916,1625.2L1915.2,1625.2L1914.4,1625.1L1913.7,1625.1L1912.9,1625.1L1912.1,1625L1911.4,1625L1910.6,1624.9L1909.8,1624.9L1909.1,1624.9L1908.3,1624.8L1907.5,1624.8L1906.8,1624.8L1906,1624.7L1905.2,1624.7L1904.5,1624.6L1903.7,1624.6L1902.9,1624.6L1902.1,1624.5L1901.4,1624.5L1900.6,1624.4L1899.9,1624.4L1899.1,1624.4L1898.3,1624.3L1897.5,1624.3L1896.8,1624.2L1896,1624.2L1895.2,1624.1L1894.5,1624.1L1893.7,1624.1L1893,1624L1892.2,1624L1891.4,1623.9L1890.6,1623.9L1889.9,1623.8L1889.1,1623.8L1888.3,1623.8L1887.6,1623.7L1886.8,1623.7L1886,1623.6L1885.3,1623.6L1884.5,1623.5L1883.7,1623.5L1883,1623.5L1882.2,1623.4L1881.4,1623.4L1880.6,1623.3L1879.9,1623.3L1879.1,1623.2L1878.4,1623.2L1877.6,1623.1L1876.8,1623.1L1876.1,1623.1L1875.3,1623L1874.5,1623L1873.7,1622.9L1873,1622.9L1872.2,1622.8L1871.4,1622.8L1870.7,1622.7L1869.9,1622.7L1869.1,1622.6L1868.4,1622.6L1867.6,1622.5L1866.8,1622.5L1866.1,1622.4L1865.3,1622.4L1864.5,1622.3L1863.7,1622.3L1863,1622.3L1862.2,1622.2L1861.5,1622.2L1860.7,1622.1L1859.9,1622.1L1859.2,1622L1858.4,1622L1857.6,1621.9L1856.8,1621.9L1856.1,1621.8L1855.3,1621.8L1854.5,1621.7L1853.8,1621.7L1853,1621.6L1852.2,1621.6L1851.5,1621.5L1850.7,1621.5L1850,1621.4L1849.2,1621.4L1848.4,1621.3L1847.6,1621.3L1846.8,1621.2L1846.1,1621.1L1845.3,1621.1L1844.5,1621L1843.8,1621L1843,1620.9L1842.3,1620.9L1841.5,1620.8L1840.7,1620.8L1840,1620.7L1839.2,1620.7L1838.4,1620.6L1837.6,1620.6L1836.9,1620.5L1836.1,1620.5L1835.3,1620.4L1834.5,1620.3L1833.8,1620.3L1833,1620.2L1832.3,1620.2L1831.5,1620.1L1830.8,1620.1L1830,1620L1829.2,1620L1828.4,1619.9L1827.7,1619.8L1826.9,1619.8L1826.1,1619.7L1825.3,1619.7L1824.6,1619.6L1823.8,1619.6L1823.1,1619.5L1822.3,1619.4L1821.5,1619.4L1820.8,1619.3L1820,1619.3L1819.2,1619.2L1818.5,1619.2L1817.7,1619.1L1816.9,1619L1816.1,1619L1815.4,1618.9L1814.6,1618.9L1813.8,1618.8L1813,1618.7L1812.3,1618.7L1811.5,1618.6L1810.8,1618.6L1810,1618.5L1809.3,1618.4L1808.5,1618.4L1807.7,1618.3L1807,1618.2L1806.2,1618.2L1805.4,1618.1L1804.6,1618.1L1803.8,1618L1803,1617.9L1802.3,1617.9L1801.5,1617.8L1800.8,1617.7L1800,1617.7L1799.3,1617.6L1798.5,1617.5L1797.7,1617.5L1797,1617.4L1796.2,1617.4L1795.4,1617.3L1794.7,1617.2L1793.9,1617.2L1793.1,1617.1L1792.3,1617L1791.5,1617L1790.8,1616.9L1790,1616.8L1789.2,1616.8L1788.5,1616.7L1787.7,1616.6L1787,1616.6L1786.2,1616.5L1785.5,1616.4L1784.7,1616.4L1783.9,1616.3L1783.2,1616.2L1782.4,1616.1L1781.6,1616.1L1780.8,1616L1780.1,1615.9L1779.3,1615.9L1778.5,1615.8L1777.7,1615.7L1776.9,1615.6L1776.2,1615.6L1775.4,1615.5L1774.7,1615.4L1773.9,1615.4L1773.2,1615.3L1772.4,1615.2L1771.6,1615.2L1770.9,1615.1L1770.1,1615L1769.3,1614.9L1768.6,1614.9L1767.8,1614.8L1767,1614.7L1766.2,1614.6L1765.5,1614.6L1764.7,1614.5L1763.9,1614.4L1763.1,1614.3L1762.3,1614.3L1761.6,1614.2L1760.8,1614.1L1760.1,1614L1759.3,1614L1758.6,1613.9L1757.8,1613.8L1757.1,1613.7L1756.3,1613.7L1755.5,1613.6L1754.8,1613.5L1754,1613.4L1753.2,1613.3L1752.4,1613.3L1751.7,1613.2L1750.9,1613.1L1750.1,1613L1749.3,1612.9L1748.5,1612.9L1747.7,1612.8L1747,1612.7L1746.2,1612.6L1745.5,1612.5L1744.7,1612.5L1744,1612.4L1743.2,1612.3L1742.5,1612.2L1741.7,1612.1L1741,1612L1740.2,1612L1739.4,1611.9L1738.7,1611.8L1737.9,1611.7L1737.1,1611.6L1736.3,1611.5L1735.6,1611.5L1734.8,1611.4L1734,1611.3L1733.2,1611.2L1732.4,1611.1L1731.6,1611L1730.8,1610.9L1730,1610.8L1729.3,1610.8L1728.6,1610.7L1727.8,1610.6L1727.1,1610.5L1726.3,1610.4L1725.6,1610.3L1724.8,1610.2L1724.1,1610.1L1723.3,1610.1L1722.5,1610L1721.8,1609.9L1721,1609.8L1720.2,1609.7L1719.5,1609.6L1718.7,1609.5L1717.9,1609.4L1717.1,1609.3L1716.3,1609.2L1715.5,1609.1L1714.7,1609L1714,1608.9L1713.2,1608.8L1712.3,1608.7L1711.6,1608.7L1710.9,1608.6L1710.1,1608.5L1709.4,1608.4L1708.7,1608.3L1707.9,1608.2L1707.2,1608.1L1706.4,1608L1705.7,1607.9L1704.9,1607.8L1704.2,1607.7L1703.4,1607.6L1702.6,1607.5L1701.9,1607.4L1701.1,1607.3L1700.3,1607.2L1699.5,1607.1L1698.8,1607L1698,1606.9L1697.2,1606.8L1696.4,1606.7L1695.6,1606.6L1694.8,1606.5L1694,1606.4L1693.2,1606.3L1692.4,1606.2L1691.6,1606.1L1690.9,1606L1690.2,1605.9L1689.4,1605.8L1688.7,1605.7L1688,1605.6L1687.2,1605.5L1686.5,1605.4L1685.7,1605.3L1685,1605.2L1684.2,1605.1L1683.5,1605L1682.7,1604.9L1681.9,1604.7L1681.2,1604.6L1680.4,1604.5L1679.6,1604.4L1678.9,1604.3L1678.1,1604.2L1677.3,1604.1L1676.5,1604L1675.7,1603.9L1674.9,1603.7L1674.1,1603.6L1673.3,1603.5L1672.5,1603.4L1671.7,1603.3L1670.9,1603.2L1670.1,1603L1669.3,1602.9L1668.6,1602.8L1667.9,1602.7L1667.1,1602.6L1666.4,1602.5L1665.7,1602.4L1664.9,1602.3L1664.2,1602.2L1663.5,1602L1662.7,1601.9L1662,1601.8L1661.2,1601.7L1660.5,1601.6L1659.7,1601.5L1659,1601.4L1658.2,1601.2L1657.4,1601.1L1656.7,1601L1655.9,1600.9L1655.1,1600.8L1654.3,1600.6L1653.6,1600.5L1652.8,1600.4L1652,1600.3L1651.2,1600.1L1650.4,1600L1649.6,1599.9L1648.8,1599.7L1648,1599.6L1647.2,1599.5L1646.4,1599.4L1645.6,1599.2L1644.8,1599.1L1643.9,1598.9L1643.2,1598.8L1642.5,1598.7L1641.7,1598.6L1641,1598.5L1640.3,1598.3L1639.6,1598.2L1638.8,1598.1L1638.1,1598L1637.4,1597.8L1636.6,1597.7L1635.9,1597.6L1635.1,1597.5L1634.4,1597.3L1633.6,1597.2L1632.9,1597.1L1632.1,1596.9L1631.4,1596.8L1630.6,1596.7L1629.9,1596.5L1629.1,1596.4L1628.3,1596.3L1627.5,1596.1L1626.8,1596L1626,1595.9L1625.2,1595.7L1624.4,1595.6L1623.6,1595.4L1622.8,1595.3L1622,1595.1L1621.2,1595L1620.4,1594.8L1619.6,1594.7L1618.8,1594.6L1618,1594.4L1617.2,1594.3L1616.4,1594.1L1615.5,1593.9L1614.7,1593.8L1613.9,1593.6L1613.2,1593.5L1612.5,1593.4L1611.8,1593.2L1611.1,1593.1L1610.3,1593L1609.6,1592.8L1608.9,1592.7L1608.2,1592.5L1607.4,1592.4L1606.7,1592.3L1606,1592.1L1605.2,1592L1604.5,1591.8L1603.8,1591.7L1603,1591.5L1602.3,1591.4L1601.5,1591.2L1600.8,1591.1L1600,1590.9L1599.3,1590.8L1598.5,1590.6L1597.7,1590.5L1597,1590.3L1596.2,1590.2L1595.4,1590L1594.6,1589.8L1593.9,1589.7L1593.1,1589.5L1592.3,1589.4L1591.5,1589.2L1590.7,1589L1589.9,1588.9L1589.1,1588.7L1588.3,1588.5L1587.5,1588.4L1586.7,1588.2L1585.9,1588L1585.1,1587.8L1584.2,1587.7L1583.4,1587.5L1582.6,1587.3L1581.8,1587.1L1580.9,1587L1580.1,1586.8L1579.3,1586.6L1578.5,1586.4L1577.8,1586.3L1577.1,1586.1L1576.4,1586L1575.7,1585.8L1575,1585.6L1574.3,1585.5L1573.6,1585.3L1572.9,1585.2L1572.1,1585L1571.4,1584.9L1570.7,1584.7L1570,1584.5L1569.3,1584.4L1568.5,1584.2L1567.8,1584L1567.1,1583.9L1566.3,1583.7L1565.6,1583.5L1564.8,1583.3L1564.1,1583.2L1563.4,1583L1562.6,1582.8L1561.8,1582.6L1561.1,1582.5L1560.3,1582.3L1559.6,1582.1L1558.8,1581.9L1558,1581.7L1557.3,1581.5L1556.5,1581.4L1555.7,1581.2L1554.9,1581L1554.1,1580.8L1553.4,1580.6L1552.6,1580.4L1551.8,1580.2L1551,1580L1550.2,1579.8L1549.4,1579.6L1548.6,1579.4L1547.7,1579.2L1546.9,1579L1546.1,1578.8L1545.3,1578.6L1544.5,1578.4L1543.6,1578.2L1542.8,1578L1542,1577.8L1541.1,1577.5L1540.3,1577.3L1539.4,1577.1L1538.6,1576.9L1537.7,1576.7L1536.9,1576.4L1536,1576.2L1535.3,1576L1534.7,1575.9L1534,1575.7L1533.3,1575.5L1532.6,1575.3L1531.9,1575.1L1531.2,1574.9L1530.6,1574.8L1529.9,1574.6L1529.2,1574.4L1528.5,1574.2L1527.8,1574L1527.1,1573.8L1526.4,1573.6L1525.7,1573.4L1524.9,1573.2L1524.2,1573L1523.5,1572.8L1522.8,1572.6L1522.1,1572.4L1521.4,1572.2L1520.6,1572L1519.9,1571.8L1519.2,1571.6L1518.4,1571.4L1517.7,1571.2L1516.9,1571L1516.2,1570.8L1515.5,1570.6L1514.7,1570.3L1514,1570.1L1513.2,1569.9L1512.4,1569.7L1511.7,1569.5L1510.9,1569.2L1510.2,1569L1509.4,1568.8L1508.6,1568.6L1507.8,1568.3L1507.1,1568.1L1506.3,1567.9L1505.5,1567.6L1504.7,1567.4L1503.9,1567.2L1503.1,1566.9L1502.3,1566.7L1501.5,1566.4L1500.7,1566.2L1499.9,1566L1499.1,1565.7L1498.3,1565.5L1497.4,1565.2L1496.6,1564.9L1495.8,1564.7L1495,1564.4L1494.1,1564.2L1493.6,1564L1493.2,1563.9L1492.7,1563.7L1492.2,1563.6L1491.7,1563.4L1491.2,1563.3L1490.8,1563.1L1490.3,1562.9L1489.8,1562.8L1489.3,1562.6L1488.8,1562.5L1488.3,1562.3L1487.8,1562.2L1487.3,1562L1486.8,1561.8L1486.3,1561.7L1485.8,1561.5L1485.3,1561.4L1484.8,1561.2L1484.3,1561L1483.8,1560.9L1483.3,1560.7L1482.8,1560.5L1482.3,1560.4L1481.8,1560.2L1481.3,1560L1480.5,1559.8L1479.9,1559.6L1479.2,1559.4L1478.6,1559.1L1477.9,1558.9L1477.3,1558.7L1476.6,1558.5L1476,1558.3L1475.3,1558L1474.7,1557.8L1474,1557.6L1473.3,1557.4L1472.7,1557.1L1472,1556.9L1471.3,1556.7L1470.7,1556.4L1470,1556.2L1469.3,1556L1468.6,1555.7L1467.9,1555.5L1467.3,1555.3L1466.6,1555L1465.9,1554.8L1465.2,1554.5L1464.5,1554.3L1463.8,1554L1463.1,1553.8L1462.4,1553.5L1461.7,1553.3L1461,1553L1460.3,1552.8L1459.6,1552.5L1458.8,1552.3L1458.1,1552L1457.4,1551.7L1456.7,1551.5L1456,1551.2L1455.2,1550.9L1454.5,1550.7L1453.8,1550.4L1453,1550.1L1452.3,1549.8L1451.5,1549.6L1450.8,1549.3L1450,1549L1449.3,1548.7L1448.5,1548.4L1447.8,1548.1L1447,1547.9L1446.2,1547.6L1445.5,1547.3L1444.7,1547L1443.9,1546.7L1443.2,1546.4L1442.7,1546.2L1442.2,1546L1441.8,1545.8L1441.3,1545.7L1440.8,1545.5L1440.3,1545.3L1439.9,1545.1L1439.4,1544.9L1438.9,1544.7L1438.4,1544.5L1438,1544.3L1437.5,1544.2L1437,1544L1436.5,1543.8L1436,1543.6L1435.5,1543.4L1435.1,1543.2L1434.6,1543L1434.1,1542.8L1433.6,1542.6L1433.1,1542.4L1432.6,1542.2L1432.1,1542L1431.6,1541.8L1431.1,1541.6L1430.6,1541.4L1430.1,1541.2L1429.6,1541L1429.1,1540.8L1428.6,1540.6L1428.1,1540.4L1427.6,1540.2L1427.1,1540L1426.6,1539.7L1426.1,1539.5L1425.6,1539.3L1425.1,1539.1L1424.5,1538.9L1424,1538.7L1423.5,1538.5L1423,1538.3L1422.5,1538L1422,1537.8L1421.4,1537.6L1420.9,1537.4L1420.4,1537.1L1419.9,1536.9L1419.3,1536.7L1418.8,1536.5L1418.3,1536.2L1417.7,1536L1417.2,1535.8L1416.7,1535.6L1416.1,1535.3L1415.6,1535.1L1415.1,1534.9L1414.5,1534.6L1414,1534.4L1413.4,1534.2L1412.9,1533.9L1412.3,1533.7L1411.8,1533.4L1411.2,1533.2L1410.7,1532.9L1410.1,1532.7L1409.6,1532.5L1409,1532.2L1408.5,1532L1407.9,1531.7L1407.3,1531.5L1406.8,1531.2L1406.2,1531L1405.6,1530.7L1405.1,1530.4L1404.5,1530.2L1403.9,1529.9L1403.4,1529.7L1402.8,1529.4L1402.2,1529.1L1401.6,1528.9L1401,1528.6L1400.5,1528.3L1399.9,1528.1L1399.3,1527.8L1398.7,1527.5L1398.1,1527.3L1397.5,1527L1396.9,1526.7L1396.3,1526.4L1395.7,1526.1L1395.1,1525.9L1394.5,1525.6L1393.9,1525.3L1393.3,1525L1392.7,1524.7L1392.1,1524.4L1391.5,1524.1L1390.9,1523.9L1390.3,1523.6L1389.7,1523.3L1389.1,1523L1388.4,1522.7L1387.8,1522.4L1387.2,1522.1L1386.6,1521.8L1385.9,1521.5L1385.3,1521.2L1384.7,1520.8L1384,1520.5L1383.4,1520.2L1382.8,1519.9L1382.1,1519.6L1381.5,1519.3L1380.8,1518.9L1380.2,1518.6L1379.5,1518.3L1378.9,1518L1378.2,1517.6L1377.6,1517.3L1376.9,1517L1376.3,1516.6L1375.6,1516.3L1374.9,1516L1374.3,1515.6L1373.8,1515.4L1373.4,1515.2L1372.9,1514.9L1372.5,1514.7L1372,1514.5L1371.6,1514.3L1371.1,1514L1370.7,1513.8L1370.2,1513.5L1369.8,1513.3L1369.3,1513.1L1368.9,1512.8L1368.4,1512.6L1367.9,1512.4L1367.5,1512.1L1367,1511.9L1366.6,1511.6L1366.1,1511.4L1365.6,1511.1L1365.2,1510.9L1364.7,1510.6L1364.2,1510.4L1363.8,1510.1L1363.3,1509.9L1362.8,1509.6L1362.3,1509.4L1361.9,1509.1L1361.4,1508.9L1360.9,1508.6L1360.4,1508.4L1360,1508.1L1359.5,1507.8L1359,1507.6L1358.5,1507.3L1358,1507.1L1357.5,1506.8L1357.1,1506.5L1356.6,1506.3L1356.1,1506L1355.6,1505.7L1355.1,1505.4L1354.6,1505.2L1354.1,1504.9L1353.6,1504.6L1353.1,1504.4L1352.6,1504.1L1352.1,1503.8L1351.6,1503.5L1351.1,1503.2L1350.6,1503L1350.1,1502.7L1349.6,1502.4L1349.1,1502.1L1348.6,1501.8L1348.1,1501.5L1347.6,1501.2L1347.1,1500.9L1346.5,1500.7L1346,1500.4L1345.5,1500.1L1345,1499.8L1344.5,1499.5L1344,1499.2L1343.4,1498.9L1342.9,1498.6L1342.4,1498.3L1341.9,1498L1341.3,1497.7L1340.8,1497.3L1340.3,1497L1339.7,1496.7L1339.2,1496.4L1338.7,1496.1L1338.1,1495.8L1337.6,1495.5L1337,1495.1L1336.5,1494.8L1336,1494.5L1335.4,1494.2L1334.9,1493.9L1334.3,1493.5L1333.8,1493.2L1333.2,1492.9L1332.7,1492.5L1332.1,1492.2L1331.6,1491.9L1331,1491.5L1330.5,1491.2L1329.9,1490.8L1329.3,1490.5L1328.8,1490.2L1328.2,1489.8L1327.6,1489.5L1327.1,1489.1L1326.5,1488.8L1325.9,1488.4L1325.4,1488.1L1324.8,1487.7L1324.2,1487.3L1323.6,1487L1323,1486.6L1322.5,1486.3L1321.9,1485.9L1321.3,1485.5L1320.7,1485.2L1320.1,1484.8L1319.5,1484.4L1318.9,1484L1318.3,1483.7L1317.7,1483.3L1317.1,1482.9L1316.5,1482.5L1315.9,1482.1L1315.3,1481.7L1314.7,1481.3L1314.1,1481L1313.5,1480.6L1312.9,1480.2L1312.3,1479.8L1311.7,1479.4L1311,1479L1310.4,1478.5L1309.8,1478.1L1309.2,1477.7L1308.6,1477.3L1307.9,1476.9L1307.3,1476.5L1306.7,1476.1L1306,1475.6L1305.4,1475.2L1304.8,1474.8L1304.1,1474.4L1303.5,1473.9L1302.8,1473.5L1302.2,1473.1L1301.5,1472.6L1300.9,1472.2L1300.2,1471.7L1299.6,1471.3L1298.9,1470.8L1298.3,1470.4L1297.6,1469.9L1296.9,1469.5L1296.3,1469L1295.6,1468.5L1294.9,1468.1L1294.2,1467.6L1293.6,1467.1L1292.9,1466.7L1292.2,1466.2L1291.5,1465.7L1290.8,1465.2L1290.1,1464.7L1289.5,1464.2L1288.8,1463.7L1288.1,1463.2L1287.4,1462.7L1286.7,1462.2L1286,1461.7L1285.3,1461.2L1284.5,1460.7L1283.8,1460.2L1283.1,1459.7L1282.4,1459.2L1281.7,1458.6L1281,1458.1L1280.2,1457.6L1279.5,1457L1278.8,1456.5L1278,1456L1277.3,1455.4L1276.6,1454.9L1275.8,1454.3L1275.1,1453.7L1274.3,1453.2L1273.6,1452.6L1272.8,1452.1L1272.1,1451.5L1271.3,1450.9L1270.6,1450.3L1269.8,1449.7L1269,1449.1L1268.3,1448.6L1267.5,1448L1266.7,1447.4L1265.9,1446.8L1265.1,1446.1L1264.3,1445.5L1264,1445.2L1263.6,1444.9L1263.2,1444.6L1262.8,1444.3L1262.4,1444L1262,1443.7L1261.6,1443.4L1261.2,1443L1260.8,1442.7L1260.4,1442.4L1260,1442.1L1259.6,1441.8L1259.2,1441.4L1258.7,1441.1L1258.3,1440.8L1257.9,1440.5L1257.5,1440.1L1257.1,1439.8L1256.7,1439.5L1256.3,1439.2L1255.9,1438.8L1255.5,1438.5L1255.1,1438.2L1254.6,1437.8L1254.2,1437.5L1253.8,1437.1L1253.4,1436.8L1253,1436.5L1252.6,1436.1L1252.1,1435.8L1251.7,1435.4L1251.3,1435.1L1250.9,1434.7L1250.4,1434.4L1250,1434.1L1249.6,1433.7L1249.2,1433.4L1248.7,1433L1248.3,1432.6L1247.9,1432.3L1247.5,1431.9L1247,1431.6L1246.6,1431.2L1246.2,1430.9L1245.7,1430.5L1245.3,1430.1L1244.9,1429.8L1244.4,1429.4L1244,1429L1243.5,1428.7L1243.1,1428.3L1242.7,1427.9L1242.2,1427.5L1241.8,1427.2L1241.3,1426.8L1240.9,1426.4L1240.4,1426L1240,1425.6L1239.5,1425.3L1239.1,1424.9L1238.6,1424.5L1238.2,1424.1L1237.7,1423.7L1237.3,1423.3L1236.8,1422.9L1236.4,1422.5L1235.9,1422.1L1235.5,1421.7L1235,1421.4L1234.5,1421L1234.1,1420.5L1233.6,1420.1L1233.2,1419.7L1232.7,1419.3L1232.2,1418.9L1231.8,1418.5L1231.3,1418.1L1230.8,1417.7L1230.4,1417.3L1229.9,1416.9L1229.4,1416.4L1228.9,1416L1228.5,1415.6L1228,1415.2L1227.5,1414.7ZM1249.5,1392.7L1250,1393.2L1250.5,1393.6L1250.9,1394L1251.4,1394.4L1251.9,1394.9L1252.4,1395.3L1252.8,1395.7L1253.3,1396.1L1253.8,1396.5L1254.2,1396.9L1254.7,1397.3L1255.2,1397.7L1255.6,1398.1L1256.1,1398.5L1256.5,1399L1257,1399.4L1257.5,1399.7L1257.9,1400.1L1258.4,1400.5L1258.8,1400.9L1259.3,1401.3L1259.7,1401.7L1260.2,1402.1L1260.6,1402.5L1261.1,1402.9L1261.5,1403.3L1262,1403.6L1262.4,1404L1262.9,1404.4L1263.3,1404.8L1263.8,1405.2L1264.2,1405.5L1264.7,1405.9L1265.1,1406.3L1265.5,1406.7L1266,1407L1266.4,1407.4L1266.9,1407.8L1267.3,1408.1L1267.7,1408.5L1268.2,1408.9L1268.6,1409.2L1269,1409.6L1269.5,1409.9L1269.9,1410.3L1270.3,1410.6L1270.7,1411L1271.2,1411.4L1271.6,1411.7L1272,1412.1L1272.4,1412.4L1272.9,1412.7L1273.3,1413.1L1273.7,1413.4L1274.1,1413.8L1274.6,1414.1L1275,1414.5L1275.4,1414.8L1275.8,1415.1L1276.2,1415.5L1276.6,1415.8L1277.1,1416.2L1277.5,1416.5L1277.9,1416.8L1278.3,1417.2L1278.7,1417.5L1279.1,1417.8L1279.5,1418.1L1279.9,1418.5L1280.3,1418.8L1280.7,1419.1L1281.2,1419.4L1281.6,1419.8L1282,1420.1L1282.4,1420.4L1282.8,1420.7L1283.2,1421L1283.6,1421.4L1284,1421.7L1284.4,1422L1284.8,1422.3L1285.2,1422.6L1285.6,1422.9L1286,1423.2L1286.3,1423.5L1287.1,1424.1L1287.9,1424.8L1288.7,1425.4L1289.5,1426L1290.3,1426.6L1291,1427.1L1291.8,1427.7L1292.6,1428.3L1293.3,1428.9L1294.1,1429.5L1294.8,1430.1L1295.6,1430.6L1296.3,1431.2L1297.1,1431.7L1297.8,1432.3L1298.6,1432.9L1299.3,1433.4L1300,1434L1300.8,1434.5L1301.5,1435L1302.2,1435.6L1303,1436.1L1303.7,1436.6L1304.4,1437.2L1305.1,1437.7L1305.8,1438.2L1306.5,1438.7L1307.3,1439.2L1308,1439.7L1308.7,1440.2L1309.4,1440.7L1310.1,1441.2L1310.8,1441.7L1311.5,1442.2L1312.1,1442.7L1312.8,1443.2L1313.5,1443.7L1314.2,1444.2L1314.9,1444.7L1315.6,1445.1L1316.2,1445.6L1316.9,1446.1L1317.6,1446.5L1318.3,1447L1318.9,1447.5L1319.6,1447.9L1320.3,1448.4L1320.9,1448.8L1321.6,1449.3L1322.2,1449.7L1322.9,1450.2L1323.5,1450.6L1324.2,1451.1L1324.8,1451.5L1325.5,1451.9L1326.1,1452.4L1326.8,1452.8L1327.4,1453.2L1328,1453.6L1328.7,1454.1L1329.3,1454.5L1329.9,1454.9L1330.6,1455.3L1331.2,1455.7L1331.8,1456.1L1332.4,1456.5L1333,1457L1333.7,1457.4L1334.3,1457.8L1334.9,1458.2L1335.5,1458.6L1336.1,1459L1336.7,1459.3L1337.3,1459.7L1337.9,1460.1L1338.5,1460.5L1339.1,1460.9L1339.7,1461.3L1340.3,1461.7L1340.9,1462L1341.5,1462.4L1342.1,1462.8L1342.7,1463.2L1343.3,1463.5L1343.9,1463.9L1344.5,1464.3L1345,1464.6L1345.6,1465L1346.2,1465.3L1346.8,1465.7L1347.4,1466.1L1347.9,1466.4L1348.5,1466.8L1349.1,1467.1L1349.6,1467.5L1350.2,1467.8L1350.8,1468.2L1351.3,1468.5L1351.9,1468.8L1352.5,1469.2L1353,1469.5L1353.6,1469.9L1354.1,1470.2L1354.7,1470.5L1355.2,1470.9L1355.8,1471.2L1356.3,1471.5L1356.9,1471.9L1357.4,1472.2L1358,1472.5L1358.5,1472.8L1359,1473.1L1359.6,1473.5L1360.1,1473.8L1360.7,1474.1L1361.2,1474.4L1361.7,1474.7L1362.3,1475L1362.8,1475.3L1363.3,1475.7L1363.9,1476L1364.4,1476.3L1364.9,1476.6L1365.4,1476.9L1366,1477.2L1366.5,1477.5L1367,1477.8L1367.5,1478.1L1368,1478.4L1368.5,1478.7L1369.1,1478.9L1369.6,1479.2L1370.1,1479.5L1370.6,1479.8L1371.1,1480.1L1371.6,1480.4L1372.1,1480.7L1372.6,1481L1373.1,1481.2L1373.6,1481.5L1374.1,1481.8L1374.6,1482.1L1375.1,1482.4L1375.6,1482.6L1376.1,1482.9L1376.6,1483.2L1377.1,1483.4L1377.6,1483.7L1378.1,1484L1378.6,1484.3L1379.1,1484.5L1379.5,1484.8L1380,1485.1L1380.5,1485.3L1381,1485.6L1381.5,1485.8L1382,1486.1L1382.4,1486.4L1382.9,1486.6L1383.4,1486.9L1383.9,1487.1L1384.3,1487.4L1384.8,1487.6L1385.3,1487.9L1385.8,1488.1L1386.2,1488.4L1386.7,1488.6L1387.2,1488.9L1387.6,1489.1L1388.1,1489.4L1388.6,1489.6L1389,1489.9L1389.5,1490.1L1389.9,1490.4L1390.4,1490.6L1390.9,1490.8L1391.3,1491.1L1391.8,1491.3L1392.2,1491.5L1392.7,1491.8L1393.1,1492L1393.6,1492.3L1394,1492.5L1394.5,1492.7L1394.9,1492.9L1395.4,1493.2L1395.8,1493.4L1396.3,1493.6L1396.9,1494L1397.6,1494.3L1398.3,1494.6L1398.9,1495L1399.6,1495.3L1400.2,1495.6L1400.9,1496L1401.5,1496.3L1402.2,1496.6L1402.8,1496.9L1403.5,1497.3L1404.1,1497.6L1404.8,1497.9L1405.4,1498.2L1406,1498.5L1406.7,1498.8L1407.3,1499.2L1407.9,1499.5L1408.6,1499.8L1409.2,1500.1L1409.8,1500.4L1410.4,1500.7L1411.1,1501L1411.7,1501.3L1412.3,1501.6L1412.9,1501.9L1413.5,1502.1L1414.1,1502.4L1414.7,1502.7L1415.3,1503L1415.9,1503.3L1416.5,1503.6L1417.1,1503.9L1417.7,1504.1L1418.3,1504.4L1418.9,1504.7L1419.5,1505L1420.1,1505.3L1420.7,1505.5L1421.3,1505.8L1421.9,1506.1L1422.5,1506.3L1423,1506.6L1423.6,1506.9L1424.2,1507.1L1424.8,1507.4L1425.4,1507.7L1425.9,1507.9L1426.5,1508.2L1427.1,1508.4L1427.6,1508.7L1428.2,1509L1428.8,1509.2L1429.3,1509.5L1429.9,1509.7L1430.5,1510L1431,1510.2L1431.6,1510.5L1432.1,1510.7L1432.7,1510.9L1433.2,1511.2L1433.8,1511.4L1434.3,1511.7L1434.9,1511.9L1435.4,1512.2L1436,1512.4L1436.5,1512.6L1437.1,1512.9L1437.6,1513.1L1438.1,1513.3L1438.7,1513.6L1439.2,1513.8L1439.7,1514L1440.3,1514.2L1440.8,1514.5L1441.3,1514.7L1441.9,1514.9L1442.4,1515.1L1442.9,1515.4L1443.4,1515.6L1444,1515.8L1444.5,1516L1445,1516.3L1445.5,1516.5L1446,1516.7L1446.5,1516.9L1447.1,1517.1L1447.6,1517.3L1448.1,1517.5L1448.6,1517.7L1449.1,1518L1449.6,1518.2L1450.1,1518.4L1450.6,1518.6L1451.1,1518.8L1451.6,1519L1452.1,1519.2L1452.6,1519.4L1453.1,1519.6L1453.6,1519.8L1454.1,1520L1454.6,1520.2L1455.1,1520.4L1455.6,1520.6L1456.1,1520.8L1456.6,1521L1457.1,1521.2L1457.5,1521.4L1458,1521.6L1458.5,1521.8L1459,1522L1459.5,1522.2L1460,1522.3L1460.4,1522.5L1460.9,1522.7L1461.4,1522.9L1461.9,1523.1L1462.3,1523.3L1462.8,1523.5L1463.3,1523.7L1463.8,1523.8L1464.2,1524L1464.7,1524.2L1465.2,1524.4L1465.9,1524.7L1466.7,1525L1467.5,1525.3L1468.2,1525.6L1469,1525.9L1469.8,1526.1L1470.5,1526.4L1471.3,1526.7L1472,1527L1472.8,1527.3L1473.5,1527.6L1474.3,1527.8L1475,1528.1L1475.8,1528.4L1476.5,1528.7L1477.2,1528.9L1478,1529.2L1478.7,1529.5L1479.4,1529.7L1480.1,1530L1480.8,1530.3L1481.6,1530.5L1482.3,1530.8L1483,1531L1483.7,1531.3L1484.4,1531.5L1485.1,1531.8L1485.8,1532L1486.5,1532.3L1487.2,1532.5L1487.9,1532.8L1488.6,1533L1489.3,1533.3L1489.9,1533.5L1490.6,1533.7L1491.3,1534L1492,1534.2L1492.7,1534.4L1493.3,1534.7L1494,1534.9L1494.7,1535.1L1495.3,1535.4L1496,1535.6L1496.7,1535.8L1497.3,1536L1498,1536.3L1498.6,1536.5L1499.3,1536.7L1499.9,1536.9L1500.6,1537.1L1501.2,1537.4L1501.9,1537.6L1502.5,1537.8L1503.3,1538L1503.8,1538.2L1504.3,1538.4L1504.8,1538.5L1505.3,1538.7L1505.8,1538.9L1506.3,1539L1506.8,1539.2L1507.3,1539.4L1507.8,1539.5L1508.3,1539.7L1508.8,1539.8L1509.3,1540L1509.8,1540.2L1510.3,1540.3L1510.8,1540.5L1511.3,1540.6L1511.8,1540.8L1512.3,1540.9L1512.8,1541.1L1513.2,1541.3L1513.7,1541.4L1514.2,1541.6L1514.7,1541.7L1515.2,1541.9L1515.6,1542L1516.1,1542.2L1517,1542.4L1517.8,1542.7L1518.6,1542.9L1519.4,1543.2L1520.3,1543.5L1521.1,1543.7L1521.9,1544L1522.7,1544.2L1523.5,1544.4L1524.3,1544.7L1525.1,1544.9L1525.9,1545.2L1526.7,1545.4L1527.5,1545.6L1528.3,1545.9L1529.1,1546.1L1529.8,1546.3L1530.6,1546.6L1531.4,1546.8L1532.2,1547L1532.9,1547.2L1533.7,1547.5L1534.4,1547.7L1535.2,1547.9L1536,1548.1L1536.7,1548.3L1537.5,1548.6L1538.2,1548.8L1538.9,1549L1539.7,1549.2L1540.4,1549.4L1541.2,1549.6L1541.9,1549.8L1542.6,1550L1543.4,1550.2L1544.1,1550.4L1544.8,1550.6L1545.5,1550.8L1546.2,1551L1546.9,1551.2L1547.7,1551.4L1548.4,1551.6L1549.1,1551.8L1549.8,1552L1550.5,1552.2L1551.2,1552.4L1551.9,1552.6L1552.6,1552.8L1553.2,1552.9L1553.9,1553.1L1554.6,1553.3L1555.3,1553.5L1556,1553.7L1556.7,1553.9L1557.3,1554L1558,1554.2L1558.9,1554.4L1559.7,1554.7L1560.6,1554.9L1561.4,1555.1L1562.3,1555.3L1563.1,1555.5L1564,1555.8L1564.8,1556L1565.6,1556.2L1566.5,1556.4L1567.3,1556.6L1568.1,1556.8L1568.9,1557L1569.7,1557.2L1570.6,1557.4L1571.4,1557.6L1572.2,1557.8L1573,1558L1573.8,1558.2L1574.6,1558.4L1575.4,1558.6L1576.1,1558.8L1576.9,1559L1577.7,1559.2L1578.5,1559.4L1579.3,1559.5L1580,1559.7L1580.8,1559.9L1581.6,1560.1L1582.3,1560.3L1583.1,1560.5L1583.8,1560.6L1584.6,1560.8L1585.4,1561L1586.1,1561.2L1586.8,1561.3L1587.6,1561.5L1588.3,1561.7L1589.1,1561.9L1589.8,1562L1590.5,1562.2L1591.3,1562.4L1592,1562.5L1592.7,1562.7L1593.4,1562.9L1594.1,1563L1594.9,1563.2L1595.6,1563.3L1596.3,1563.5L1597,1563.6L1597.7,1563.8L1598.4,1564L1599.1,1564.1L1599.8,1564.3L1600.5,1564.4L1601.3,1564.6L1602.1,1564.8L1602.9,1565L1603.8,1565.1L1604.6,1565.3L1605.4,1565.5L1606.2,1565.7L1607.1,1565.8L1607.9,1566L1608.7,1566.2L1609.5,1566.4L1610.3,1566.5L1611.1,1566.7L1611.9,1566.9L1612.7,1567L1613.5,1567.2L1614.3,1567.4L1615.1,1567.5L1615.9,1567.7L1616.6,1567.8L1617.4,1568L1618.2,1568.2L1619,1568.3L1619.7,1568.5L1620.5,1568.6L1621.3,1568.8L1622,1568.9L1622.8,1569.1L1623.5,1569.2L1624.3,1569.4L1625,1569.5L1625.8,1569.7L1626.5,1569.8L1627.2,1570L1628,1570.1L1628.7,1570.3L1629.4,1570.4L1630.2,1570.5L1630.9,1570.7L1631.6,1570.8L1632.3,1571L1633.1,1571.1L1633.8,1571.2L1634.5,1571.4L1635.2,1571.5L1635.9,1571.6L1636.7,1571.8L1637.5,1571.9L1638.4,1572.1L1639.2,1572.3L1640,1572.4L1640.8,1572.6L1641.6,1572.7L1642.4,1572.8L1643.2,1573L1644,1573.1L1644.8,1573.3L1645.6,1573.4L1646.4,1573.6L1647.2,1573.7L1648,1573.9L1648.8,1574L1649.5,1574.1L1650.3,1574.3L1651.1,1574.4L1651.9,1574.5L1652.6,1574.7L1653.4,1574.8L1654.1,1574.9L1654.9,1575.1L1655.6,1575.2L1656.4,1575.3L1657.1,1575.5L1657.9,1575.6L1658.6,1575.7L1659.4,1575.8L1660.1,1576L1660.8,1576.1L1661.6,1576.2L1662.3,1576.3L1663,1576.5L1663.7,1576.6L1664.5,1576.7L1665.2,1576.8L1665.9,1576.9L1666.8,1577.1L1667.6,1577.2L1668.4,1577.4L1669.2,1577.5L1670,1577.6L1670.8,1577.7L1671.6,1577.9L1672.4,1578L1673.2,1578.1L1674,1578.3L1674.8,1578.4L1675.6,1578.5L1676.3,1578.6L1677.1,1578.8L1677.9,1578.9L1678.7,1579L1679.4,1579.1L1680.2,1579.2L1681,1579.4L1681.7,1579.5L1682.5,1579.6L1683.2,1579.7L1684,1579.8L1684.7,1579.9L1685.5,1580L1686.2,1580.2L1686.9,1580.3L1687.7,1580.4L1688.4,1580.5L1689.1,1580.6L1689.9,1580.7L1690.6,1580.8L1691.3,1580.9L1692.1,1581L1692.9,1581.2L1693.7,1581.3L1694.5,1581.4L1695.3,1581.5L1696.1,1581.6L1696.9,1581.7L1697.7,1581.9L1698.5,1582L1699.3,1582.1L1700.1,1582.2L1700.9,1582.3L1701.6,1582.4L1702.4,1582.5L1703.2,1582.6L1703.9,1582.7L1704.7,1582.9L1705.5,1583L1706.2,1583.1L1707,1583.2L1707.7,1583.3L1708.5,1583.4L1709.2,1583.5L1710,1583.6L1710.7,1583.7L1711.4,1583.8L1712.2,1583.9L1712.9,1584L1713.6,1584.1L1714.4,1584.2L1715.2,1584.3L1716,1584.4L1716.8,1584.5L1717.6,1584.6L1718.4,1584.7L1719.2,1584.8L1720,1584.9L1720.8,1585L1721.5,1585.1L1722.3,1585.2L1723.1,1585.3L1723.9,1585.4L1724.6,1585.5L1725.4,1585.6L1726.2,1585.7L1726.9,1585.8L1727.7,1585.9L1728.4,1586L1729.2,1586.1L1729.9,1586.2L1730.7,1586.3L1731.4,1586.4L1732.1,1586.5L1732.9,1586.6L1733.6,1586.7L1734.3,1586.7L1735.2,1586.8L1736,1586.9L1736.7,1587L1737.5,1587.1L1738.3,1587.2L1739.1,1587.3L1739.9,1587.4L1740.7,1587.5L1741.5,1587.6L1742.2,1587.7L1743,1587.8L1743.8,1587.9L1744.5,1588L1745.3,1588.1L1746.1,1588.1L1746.8,1588.2L1747.6,1588.3L1748.3,1588.4L1749.1,1588.5L1749.8,1588.6L1750.6,1588.7L1751.3,1588.8L1752,1588.8L1752.8,1588.9L1753.6,1589L1754.4,1589.1L1755.2,1589.2L1756,1589.3L1756.8,1589.4L1757.6,1589.5L1758.3,1589.5L1759.1,1589.6L1759.9,1589.7L1760.7,1589.8L1761.4,1589.9L1762.2,1590L1763,1590L1763.7,1590.1L1764.5,1590.2L1765.2,1590.3L1766,1590.4L1766.7,1590.5L1767.5,1590.5L1768.2,1590.6L1769,1590.7L1769.7,1590.8L1770.5,1590.9L1771.3,1590.9L1772.1,1591L1772.9,1591.1L1773.7,1591.2L1774.4,1591.3L1775.2,1591.3L1776,1591.4L1776.8,1591.5L1777.5,1591.6L1778.3,1591.7L1779.1,1591.7L1779.8,1591.8L1780.6,1591.9L1781.3,1592L1782.1,1592L1782.8,1592.1L1783.6,1592.2L1784.3,1592.3L1785.1,1592.3L1785.9,1592.4L1786.7,1592.5L1787.5,1592.6L1788.2,1592.6L1789,1592.7L1789.8,1592.8L1790.6,1592.9L1791.3,1592.9L1792.1,1593L1792.9,1593.1L1793.6,1593.2L1794.4,1593.2L1795.2,1593.3L1795.9,1593.4L1796.7,1593.4L1797.4,1593.5L1798.2,1593.6L1798.9,1593.6L1799.7,1593.7L1800.5,1593.8L1801.3,1593.9L1802.1,1593.9L1802.8,1594L1803.6,1594.1L1804.4,1594.1L1805.2,1594.2L1805.9,1594.3L1806.7,1594.4L1807.5,1594.4L1808.2,1594.5L1809,1594.6L1809.7,1594.6L1810.5,1594.7L1811.2,1594.8L1812,1594.8L1812.8,1594.9L1813.5,1595L1814.3,1595L1815.1,1595.1L1815.9,1595.2L1816.7,1595.2L1817.4,1595.3L1818.2,1595.4L1819,1595.4L1819.7,1595.5L1820.5,1595.5L1821.3,1595.6L1822,1595.7L1822.8,1595.7L1823.5,1595.8L1824.3,1595.9L1825,1595.9L1825.8,1596L1826.6,1596.1L1827.4,1596.1L1828.2,1596.2L1829,1596.2L1829.7,1596.3L1830.5,1596.4L1831.3,1596.4L1832,1596.5L1832.8,1596.6L1833.5,1596.6L1834.3,1596.7L1835,1596.7L1835.8,1596.8L1836.6,1596.9L1837.4,1596.9L1838.1,1597L1838.9,1597L1839.7,1597.1L1840.5,1597.2L1841.2,1597.2L1842,1597.3L1842.8,1597.3L1843.5,1597.4L1844.3,1597.4L1845.1,1597.5L1845.8,1597.6L1846.6,1597.6L1847.3,1597.7L1848.1,1597.7L1848.9,1597.8L1849.7,1597.8L1850.4,1597.9L1851.2,1598L1852,1598L1852.8,1598.1L1853.5,1598.1L1854.3,1598.2L1855,1598.2L1855.8,1598.3L1856.5,1598.3L1857.3,1598.4L1858.1,1598.5L1858.9,1598.5L1859.6,1598.6L1860.4,1598.6L1861.2,1598.7L1862,1598.7L1862.7,1598.8L1863.5,1598.8L1864.3,1598.9L1865,1598.9L1865.8,1599L1866.5,1599L1867.3,1599.1L1868.1,1599.1L1868.8,1599.2L1869.6,1599.3L1870.4,1599.3L1871.2,1599.4L1872,1599.4L1872.7,1599.5L1873.5,1599.5L1874.2,1599.6L1875,1599.6L1875.8,1599.7L1876.5,1599.7L1877.3,1599.8L1878.1,1599.8L1878.8,1599.9L1879.6,1599.9L1880.4,1600L1881.2,1600L1881.9,1600.1L1882.7,1600.1L1883.5,1600.2L1884.2,1600.2L1885,1600.3L1885.7,1600.3L1886.5,1600.3L1887.3,1600.4L1888.1,1600.4L1888.8,1600.5L1889.6,1600.5L1890.4,1600.6L1891.1,1600.6L1891.9,1600.7L1892.7,1600.7L1893.4,1600.8L1894.2,1600.8L1895,1600.9L1895.7,1600.9L1896.5,1601L1897.3,1601L1898.1,1601.1L1898.8,1601.1L1899.6,1601.1L1900.4,1601.2L1901.1,1601.2L1901.9,1601.3L1902.6,1601.3L1903.4,1601.4L1904.2,1601.4L1905,1601.5L1905.7,1601.5L1906.5,1601.5L1907.3,1601.6L1908,1601.6L1908.8,1601.7L1909.6,1601.7L1910.3,1601.8L1911.1,1601.8L1911.9,1601.8L1912.6,1601.9L1913.4,1601.9L1914.2,1602L1915,1602L1915.7,1602.1L1916.5,1602.1L1917.2,1602.1L1918,1602.2L1918.8,1602.2L1919.5,1602.3L1920.3,1602.3L1921.1,1602.4L1921.9,1602.4L1922.6,1602.4L1923.4,1602.5L1924.1,1602.5L1924.9,1602.6L1925.7,1602.6L1926.5,1602.6L1927.2,1602.7L1928,1602.7L1928.8,1602.8L1929.5,1602.8L1930.3,1602.8L1931.1,1602.9L1931.8,1602.9L1932.6,1602.9L1933.4,1603L1934.1,1603L1934.9,1603.1L1935.7,1603.1L1936.4,1603.1L1937.2,1603.2L1938,1603.2L1938.7,1603.3L1939.5,1603.3L1940.3,1603.3L1941.1,1603.4L1941.8,1603.4L1942.6,1603.4L1943.4,1603.5L1944.1,1603.5L1944.9,1603.6L1945.6,1603.6L1946.4,1603.6L1947.2,1603.7L1948,1603.7L1948.7,1603.7L1949.5,1603.8L1950.3,1603.8L1951,1603.8L1951.8,1603.9L1952.6,1603.9L1953.3,1604L1954.1,1604L1954.9,1604L1955.7,1604.1L1956.4,1604.1L1957.2,1604.1L1957.9,1604.2L1958.7,1604.2L1959.5,1604.2L1960.3,1604.3L1961,1604.3L1961.8,1604.3L1962.6,1604.4L1963.3,1604.4L1964.1,1604.4L1964.9,1604.5L1965.6,1604.5L1966.4,1604.5L1967.2,1604.6L1967.9,1604.6L1968.7,1604.6L1969.5,1604.7L1970.2,1604.7L1971,1604.7L1971.8,1604.8L1972.5,1604.8L1973.3,1604.8L1974.1,1604.9L1974.8,1604.9L1975.6,1604.9L1976.4,1605L1977.2,1605L1977.9,1605L1978.7,1605.1L1979.5,1605.1L1980.2,1605.1L1981,1605.2L1981.8,1605.2L1982.5,1605.2L1983.3,1605.3L1984.1,1605.3L1984.8,1605.3L1985.6,1605.3L1986.4,1605.4L1987.1,1605.4L1987.9,1605.4L1988.7,1605.5L1989.4,1605.5L1990.2,1605.5L1991,1605.6L1991.7,1605.6L1992.5,1605.6L1993.3,1605.6L1994.1,1605.7L1994.8,1605.7L1995.6,1605.7L1996.3,1605.8L1997.1,1605.8L1997.9,1605.8L1998.7,1605.9L1999.4,1605.9L2000.2,1605.9L2001,1605.9L2001.7,1606L2002.5,1606L2003.3,1606L2004,1606.1L2004.8,1606.1L2005.6,1606.1L2006.3,1606.1L2007.1,1606.2L2007.9,1606.2L2008.6,1606.2L2009.4,1606.2L2010.2,1606.3L2010.9,1606.3L2011.7,1606.3L2012.5,1606.4L2013.2,1606.4L2014,1606.4L2014.8,1606.4L2015.5,1606.5L2016.3,1606.5L2017.1,1606.5L2017.9,1606.5L2018.6,1606.6L2019.4,1606.6L2020.2,1606.6L2020.9,1606.6L2021.7,1606.7L2022.5,1606.7L2023.2,1606.7L2024,1606.8L2024.8,1606.8L2025.5,1606.8L2026.3,1606.8L2027.1,1606.9L2027.8,1606.9L2028.6,1606.9L2029.4,1606.9L2030.2,1607L2030.9,1607L2031.7,1607L2032.5,1607L2033.2,1607.1L2034,1607.1L2034.8,1607.1L2035.5,1607.1L2036.3,1607.2L2037.1,1607.2L2037.8,1607.2L2038.6,1607.2L2039.4,1607.2L2040.1,1607.3L2040.9,1607.3L2041.7,1607.3L2042.4,1607.3L2043.2,1607.4L2044,1607.4L2044.7,1607.4L2045.5,1607.4L2046.3,1607.5L2047,1607.5L2047.8,1607.5L2048.6,1607.5L2049.4,1607.6L2050.1,1607.6L2050.9,1607.6L2051.6,1607.6L2052.4,1607.6L2053.2,1607.7L2054,1607.7L2054.7,1607.7L2055.5,1607.7L2056.3,1607.8L2057,1607.8L2057.8,1607.8L2058.6,1607.8L2059.3,1607.8L2060.1,1607.9L2060.9,1607.9L2061.6,1607.9L2062.4,1607.9L2063.2,1608L2063.9,1608L2064.7,1608L2065.5,1608L2066.2,1608L2067,1608.1L2067.8,1608.1L2068.5,1608.1L2069.3,1608.1L2070.1,1608.1L2070.9,1608.2L2071.6,1608.2L2072.4,1608.2L2073.2,1608.2L2073.9,1608.2L2074.7,1608.3L2075.5,1608.3L2076.2,1608.3L2077,1608.3L2077.8,1608.4L2078.5,1608.4L2079.3,1608.4L2080.1,1608.4L2080.8,1608.4L2081.6,1608.5L2082.4,1608.5L2083.1,1608.5L2083.9,1608.5L2084.7,1608.5L2085.4,1608.5L2086.2,1608.6L2087,1608.6L2087.7,1608.6L2088.5,1608.6L2089.3,1608.6L2090.1,1608.7L2090.8,1608.7L2091.6,1608.7L2092.4,1608.7L2093.1,1608.7L2093.9,1608.8L2094.7,1608.8L2095.4,1608.8L2096.2,1608.8L2097,1608.8L2097.7,1608.9L2098.5,1608.9L2099.3,1608.9L2100,1608.9L2100.8,1608.9L2101.6,1608.9L2102.3,1609L2103.1,1609L2103.9,1609L2104.6,1609L2105.4,1609L2106.2,1609.1L2107,1609.1L2107.7,1609.1L2108.5,1609.1L2109.3,1609.1L2110,1609.1L2110.8,1609.2L2111.6,1609.2L2112.3,1609.2L2113.1,1609.2L2113.9,1609.2L2114.6,1609.2L2115.4,1609.3L2116.2,1609.3L2116.9,1609.3L2117.7,1609.3L2118.5,1609.3L2119.2,1609.3L2120,1609.4L2120.8,1609.4L2121.5,1609.4L2122.3,1609.4L2123.1,1609.4L2123.9,1609.4L2124.6,1609.5L2125.4,1609.5L2126.2,1609.5L2126.9,1609.5L2127.7,1609.5L2128.5,1609.5L2129.2,1609.6L2130,1609.6L2130.8,1609.6L2131.5,1609.6L2132.3,1609.6L2133.1,1609.6L2133.8,1609.6L2095.8,1615.6L2095.1,1615.6L2094.3,1615.6L2093.5,1615.6L2092.8,1615.6L2092,1615.6L2091.2,1615.6L2090.5,1615.5L2089.7,1615.5L2088.9,1615.5L2088.2,1615.5L2087.4,1615.5L2086.6,1615.5L2085.9,1615.4L2085.1,1615.4L2084.3,1615.4L2083.5,1615.4L2082.8,1615.4L2082,1615.4L2081.2,1615.3L2080.5,1615.3L2079.7,1615.3L2078.9,1615.3L2078.2,1615.3L2077.4,1615.3L2076.6,1615.2L2075.9,1615.2L2075.1,1615.2L2074.3,1615.2L2073.6,1615.2L2072.8,1615.2L2072,1615.1L2071.3,1615.1L2070.5,1615.1L2069.7,1615.1L2069,1615.1L2068.2,1615.1L2067.4,1615L2066.6,1615L2065.9,1615L2065.1,1615L2064.3,1615L2063.6,1614.9L2062.8,1614.9L2062,1614.9L2061.3,1614.9L2060.5,1614.9L2059.7,1614.9L2059,1614.8L2058.2,1614.8L2057.4,1614.8L2056.7,1614.8L2055.9,1614.8L2055.1,1614.7L2054.4,1614.7L2053.6,1614.7L2052.8,1614.7L2052.1,1614.7L2051.3,1614.6L2050.5,1614.6L2049.7,1614.6L2049,1614.6L2048.2,1614.6L2047.4,1614.5L2046.7,1614.5L2045.9,1614.5L2045.1,1614.5L2044.4,1614.5L2043.6,1614.5L2042.8,1614.4L2042.1,1614.4L2041.3,1614.4L2040.5,1614.4L2039.8,1614.4L2039,1614.3L2038.2,1614.3L2037.5,1614.3L2036.7,1614.3L2035.9,1614.2L2035.2,1614.2L2034.4,1614.2L2033.6,1614.2L2032.9,1614.2L2032.1,1614.1L2031.3,1614.1L2030.5,1614.1L2029.8,1614.1L2029,1614.1L2028.2,1614L2027.5,1614L2026.7,1614L2025.9,1614L2025.2,1614L2024.4,1613.9L2023.6,1613.9L2022.9,1613.9L2022.1,1613.9L2021.3,1613.8L2020.6,1613.8L2019.8,1613.8L2019,1613.8L2018.3,1613.8L2017.5,1613.7L2016.7,1613.7L2016,1613.7L2015.2,1613.7L2014.4,1613.6L2013.6,1613.6L2012.9,1613.6L2012.1,1613.6L2011.4,1613.6L2010.6,1613.5L2009.8,1613.5L2009,1613.5L2008.3,1613.5L2007.5,1613.4L2006.7,1613.4L2006,1613.4L2005.2,1613.4L2004.4,1613.3L2003.7,1613.3L2002.9,1613.3L2002.1,1613.3L2001.4,1613.2L2000.6,1613.2L1999.8,1613.2L1999.1,1613.2L1998.3,1613.2L1997.5,1613.1L1996.8,1613.1L1996,1613.1L1995.2,1613.1L1994.5,1613L1993.7,1613L1992.9,1613L1992.2,1613L1991.4,1612.9L1990.6,1612.9L1989.8,1612.9L1989.1,1612.9L1988.3,1612.8L1987.5,1612.8L1986.8,1612.8L1986,1612.8L1985.2,1612.7L1984.5,1612.7L1983.7,1612.7L1982.9,1612.6L1982.2,1612.6L1981.4,1612.6L1980.6,1612.6L1979.9,1612.5L1979.1,1612.5L1978.3,1612.5L1977.5,1612.5L1976.8,1612.4L1976,1612.4L1975.2,1612.4L1974.5,1612.4L1973.7,1612.3L1972.9,1612.3L1972.2,1612.3L1971.4,1612.2L1970.6,1612.2L1969.9,1612.2L1969.1,1612.2L1968.3,1612.1L1967.6,1612.1L1966.8,1612.1L1966,1612.1L1965.3,1612L1964.5,1612L1963.7,1612L1963,1611.9L1962.2,1611.9L1961.4,1611.9L1960.7,1611.9L1959.9,1611.8L1959.1,1611.8L1958.3,1611.8L1957.6,1611.7L1956.8,1611.7L1956.1,1611.7L1955.3,1611.6L1954.5,1611.6L1953.7,1611.6L1953,1611.6L1952.2,1611.5L1951.4,1611.5L1950.7,1611.5L1949.9,1611.4L1949.1,1611.4L1948.4,1611.4L1947.6,1611.3L1946.8,1611.3L1946.1,1611.3L1945.3,1611.3L1944.5,1611.2L1943.8,1611.2L1943,1611.2L1942.2,1611.1L1941.5,1611.1L1940.7,1611.1L1939.9,1611L1939.2,1611L1938.4,1611L1937.6,1610.9L1936.8,1610.9L1936.1,1610.9L1935.3,1610.8L1934.5,1610.8L1933.8,1610.8L1933,1610.7L1932.2,1610.7L1931.5,1610.7L1930.7,1610.6L1929.9,1610.6L1929.2,1610.6L1928.4,1610.5L1927.6,1610.5L1926.9,1610.5L1926.1,1610.4L1925.3,1610.4L1924.6,1610.4L1923.8,1610.3L1923,1610.3L1922.3,1610.3L1921.5,1610.2L1920.7,1610.2L1919.9,1610.2L1919.2,1610.1L1918.4,1610.1L1917.7,1610.1L1916.9,1610L1916.1,1610L1915.3,1610L1914.6,1609.9L1913.8,1609.9L1913,1609.8L1912.3,1609.8L1911.5,1609.8L1910.7,1609.7L1910,1609.7L1909.2,1609.7L1908.4,1609.6L1907.6,1609.6L1906.9,1609.6L1906.1,1609.5L1905.4,1609.5L1904.6,1609.4L1903.8,1609.4L1903.1,1609.4L1902.3,1609.3L1901.5,1609.3L1900.7,1609.3L1900,1609.2L1899.2,1609.2L1898.4,1609.1L1897.7,1609.1L1896.9,1609.1L1896.1,1609L1895.4,1609L1894.6,1608.9L1893.8,1608.9L1893.1,1608.9L1892.3,1608.8L1891.5,1608.8L1890.8,1608.8L1890,1608.7L1889.2,1608.7L1888.5,1608.6L1887.7,1608.6L1886.9,1608.6L1886.1,1608.5L1885.4,1608.5L1884.6,1608.4L1883.9,1608.4L1883.1,1608.4L1882.3,1608.3L1881.5,1608.3L1880.8,1608.2L1880,1608.2L1879.2,1608.1L1878.5,1608.1L1877.7,1608.1L1877,1608L1876.2,1608L1875.4,1607.9L1874.6,1607.9L1873.9,1607.8L1873.1,1607.8L1872.3,1607.8L1871.6,1607.7L1870.8,1607.7L1870,1607.6L1869.3,1607.6L1868.5,1607.5L1867.7,1607.5L1867,1607.5L1866.2,1607.4L1865.4,1607.4L1864.6,1607.3L1863.9,1607.3L1863.1,1607.2L1862.4,1607.2L1861.6,1607.1L1860.8,1607.1L1860.1,1607.1L1859.3,1607L1858.5,1607L1857.7,1606.9L1857,1606.9L1856.2,1606.8L1855.4,1606.8L1854.7,1606.7L1853.9,1606.7L1853.1,1606.6L1852.4,1606.6L1851.6,1606.5L1850.8,1606.5L1850.1,1606.4L1849.3,1606.4L1848.5,1606.3L1847.7,1606.3L1847,1606.3L1846.2,1606.2L1845.5,1606.2L1844.7,1606.1L1843.9,1606.1L1843.2,1606L1842.4,1606L1841.6,1605.9L1840.8,1605.9L1840.1,1605.8L1839.3,1605.8L1838.5,1605.7L1837.8,1605.7L1837,1605.6L1836.2,1605.6L1835.5,1605.5L1834.7,1605.5L1834,1605.4L1833.2,1605.4L1832.4,1605.3L1831.6,1605.3L1830.8,1605.2L1830.1,1605.1L1829.3,1605.1L1828.5,1605L1827.8,1605L1827,1604.9L1826.3,1604.9L1825.5,1604.8L1824.7,1604.8L1824,1604.7L1823.2,1604.7L1822.4,1604.6L1821.6,1604.6L1820.9,1604.5L1820.1,1604.5L1819.3,1604.4L1818.5,1604.3L1817.8,1604.3L1817,1604.2L1816.3,1604.2L1815.5,1604.1L1814.8,1604.1L1814,1604L1813.2,1604L1812.4,1603.9L1811.7,1603.8L1810.9,1603.8L1810.1,1603.7L1809.3,1603.7L1808.6,1603.6L1807.8,1603.6L1807.1,1603.5L1806.3,1603.4L1805.5,1603.4L1804.8,1603.3L1804,1603.3L1803.2,1603.2L1802.5,1603.2L1801.7,1603.1L1800.9,1603L1800.1,1603L1799.4,1602.9L1798.6,1602.9L1797.8,1602.8L1797,1602.7L1796.3,1602.7L1795.5,1602.6L1794.8,1602.6L1794,1602.5L1793.3,1602.4L1792.5,1602.4L1791.7,1602.3L1791,1602.2L1790.2,1602.2L1789.4,1602.1L1788.6,1602.1L1787.8,1602L1787,1601.9L1786.3,1601.9L1785.5,1601.8L1784.8,1601.7L1784,1601.7L1783.3,1601.6L1782.5,1601.5L1781.7,1601.5L1781,1601.4L1780.2,1601.4L1779.4,1601.3L1778.7,1601.2L1777.9,1601.2L1777.1,1601.1L1776.3,1601L1775.5,1601L1774.8,1600.9L1774,1600.8L1773.2,1600.8L1772.5,1600.7L1771.7,1600.6L1771,1600.6L1770.2,1600.5L1769.5,1600.4L1768.7,1600.4L1767.9,1600.3L1767.2,1600.2L1766.4,1600.1L1765.6,1600.1L1764.8,1600L1764.1,1599.9L1763.3,1599.9L1762.5,1599.8L1761.7,1599.7L1760.9,1599.6L1760.2,1599.6L1759.4,1599.5L1758.7,1599.4L1757.9,1599.4L1757.2,1599.3L1756.4,1599.2L1755.6,1599.2L1754.9,1599.1L1754.1,1599L1753.3,1598.9L1752.6,1598.9L1751.8,1598.8L1751,1598.7L1750.2,1598.6L1749.5,1598.6L1748.7,1598.5L1747.9,1598.4L1747.1,1598.3L1746.3,1598.3L1745.6,1598.2L1744.8,1598.1L1744.1,1598L1743.3,1598L1742.6,1597.9L1741.8,1597.8L1741.1,1597.7L1740.3,1597.7L1739.5,1597.6L1738.8,1597.5L1738,1597.4L1737.2,1597.3L1736.4,1597.3L1735.7,1597.2L1734.9,1597.1L1734.1,1597L1733.3,1596.9L1732.5,1596.9L1731.7,1596.8L1731,1596.7L1730.2,1596.6L1729.5,1596.5L1728.7,1596.5L1728,1596.4L1727.2,1596.3L1726.5,1596.2L1725.7,1596.1L1725,1596L1724.2,1596L1723.4,1595.9L1722.7,1595.8L1721.9,1595.7L1721.1,1595.6L1720.3,1595.5L1719.6,1595.5L1718.8,1595.4L1718,1595.3L1717.2,1595.2L1716.4,1595.1L1715.6,1595L1714.8,1594.9L1714,1594.8L1713.3,1594.8L1712.6,1594.7L1711.8,1594.6L1711.1,1594.5L1710.3,1594.4L1709.6,1594.3L1708.8,1594.2L1708.1,1594.1L1707.3,1594.1L1706.5,1594L1705.8,1593.9L1705,1593.8L1704.2,1593.7L1703.5,1593.6L1702.7,1593.5L1701.9,1593.4L1701.1,1593.3L1700.3,1593.2L1699.5,1593.1L1698.7,1593L1698,1592.9L1697.2,1592.8L1696.3,1592.7L1695.6,1592.7L1694.9,1592.6L1694.1,1592.5L1693.4,1592.4L1692.7,1592.3L1691.9,1592.2L1691.2,1592.1L1690.4,1592L1689.7,1591.9L1688.9,1591.8L1688.2,1591.7L1687.4,1591.6L1686.6,1591.5L1685.9,1591.4L1685.1,1591.3L1684.3,1591.2L1683.5,1591.1L1682.8,1591L1682,1590.9L1681.2,1590.8L1680.4,1590.7L1679.6,1590.6L1678.8,1590.5L1678,1590.4L1677.2,1590.3L1676.4,1590.2L1675.6,1590.1L1674.9,1590L1674.2,1589.9L1673.4,1589.8L1672.7,1589.7L1672,1589.6L1671.2,1589.5L1670.5,1589.4L1669.7,1589.3L1669,1589.2L1668.2,1589.1L1667.5,1589L1666.7,1588.9L1665.9,1588.7L1665.2,1588.6L1664.4,1588.5L1663.6,1588.4L1662.9,1588.3L1662.1,1588.2L1661.3,1588.1L1660.5,1588L1659.7,1587.9L1658.9,1587.7L1658.1,1587.6L1657.3,1587.5L1656.5,1587.4L1655.7,1587.3L1654.9,1587.2L1654.1,1587L1653.3,1586.9L1652.6,1586.8L1651.9,1586.7L1651.1,1586.6L1650.4,1586.5L1649.7,1586.4L1648.9,1586.3L1648.2,1586.2L1647.5,1586L1646.7,1585.9L1646,1585.8L1645.2,1585.7L1644.5,1585.6L1643.7,1585.5L1643,1585.4L1642.2,1585.2L1641.4,1585.1L1640.7,1585L1639.9,1584.9L1639.1,1584.8L1638.3,1584.6L1637.6,1584.5L1636.8,1584.4L1636,1584.3L1635.2,1584.1L1634.4,1584L1633.6,1583.9L1632.8,1583.7L1632,1583.6L1631.2,1583.5L1630.4,1583.4L1629.6,1583.2L1628.8,1583.1L1627.9,1582.9L1627.2,1582.8L1626.5,1582.7L1625.7,1582.6L1625,1582.5L1624.3,1582.3L1623.6,1582.2L1622.8,1582.1L1622.1,1582L1621.4,1581.8L1620.6,1581.7L1619.9,1581.6L1619.1,1581.5L1618.4,1581.3L1617.6,1581.2L1616.9,1581.1L1616.1,1580.9L1615.4,1580.8L1614.6,1580.7L1613.9,1580.5L1613.1,1580.4L1612.3,1580.3L1611.5,1580.1L1610.8,1580L1610,1579.9L1609.2,1579.7L1608.4,1579.6L1607.6,1579.4L1606.8,1579.3L1606,1579.1L1605.2,1579L1604.4,1578.8L1603.6,1578.7L1602.8,1578.6L1602,1578.4L1601.2,1578.3L1600.4,1578.1L1599.5,1577.9L1598.7,1577.8L1597.9,1577.6L1597.2,1577.5L1596.5,1577.4L1595.8,1577.2L1595.1,1577.1L1594.3,1577L1593.6,1576.8L1592.9,1576.7L1592.2,1576.5L1591.4,1576.4L1590.7,1576.3L1590,1576.1L1589.2,1576L1588.5,1575.8L1587.8,1575.7L1587,1575.5L1586.3,1575.4L1585.5,1575.2L1584.8,1575.1L1584,1574.9L1583.3,1574.8L1582.5,1574.6L1581.7,1574.5L1581,1574.3L1580.2,1574.2L1579.4,1574L1578.6,1573.8L1577.9,1573.7L1577.1,1573.5L1576.3,1573.4L1575.5,1573.2L1574.7,1573L1573.9,1572.9L1573.1,1572.7L1572.3,1572.5L1571.5,1572.4L1570.7,1572.2L1569.9,1572L1569.1,1571.8L1568.2,1571.7L1567.4,1571.5L1566.6,1571.3L1565.8,1571.1L1564.9,1571L1564.1,1570.8L1563.3,1570.6L1562.5,1570.4L1561.8,1570.3L1561.1,1570.1L1560.4,1570L1559.7,1569.8L1559,1569.6L1558.3,1569.5L1557.6,1569.3L1556.9,1569.2L1556.1,1569L1555.4,1568.9L1554.7,1568.7L1554,1568.5L1553.3,1568.4L1552.5,1568.2L1551.8,1568L1551.1,1567.9L1550.3,1567.7L1549.6,1567.5L1548.8,1567.3L1548.1,1567.2L1547.4,1567L1546.6,1566.8L1545.8,1566.6L1545.1,1566.5L1544.3,1566.3L1543.6,1566.1L1542.8,1565.9L1542,1565.7L1541.3,1565.5L1540.5,1565.4L1539.7,1565.2L1538.9,1565L1538.1,1564.8L1537.4,1564.6L1536.6,1564.4L1535.8,1564.2L1535,1564L1534.2,1563.8L1533.4,1563.6L1532.6,1563.4L1531.7,1563.2L1530.9,1563L1530.1,1562.8L1529.3,1562.6L1528.5,1562.4L1527.6,1562.2L1526.8,1562L1526,1561.8L1525.1,1561.5L1524.3,1561.3L1523.4,1561.1L1522.6,1560.9L1521.7,1560.7L1520.9,1560.4L1520,1560.2L1519.3,1560L1518.7,1559.9L1518,1559.7L1517.3,1559.5L1516.6,1559.3L1515.9,1559.1L1515.2,1558.9L1514.6,1558.8L1513.9,1558.6L1513.2,1558.4L1512.5,1558.2L1511.8,1558L1511.1,1557.8L1510.4,1557.6L1509.7,1557.4L1508.9,1557.2L1508.2,1557L1507.5,1556.8L1506.8,1556.6L1506.1,1556.4L1505.4,1556.2L1504.6,1556L1503.9,1555.8L1503.2,1555.6L1502.4,1555.4L1501.7,1555.2L1500.9,1555L1500.2,1554.8L1499.5,1554.6L1498.7,1554.3L1498,1554.1L1497.2,1553.9L1496.4,1553.7L1495.7,1553.5L1494.9,1553.2L1494.2,1553L1493.4,1552.8L1492.6,1552.6L1491.8,1552.3L1491.1,1552.1L1490.3,1551.9L1489.5,1551.6L1488.7,1551.4L1487.9,1551.2L1487.1,1550.9L1486.3,1550.7L1485.5,1550.4L1484.7,1550.2L1483.9,1550L1483.1,1549.7L1482.3,1549.5L1481.4,1549.2L1480.6,1548.9L1479.8,1548.7L1479,1548.4L1478.1,1548.2L1477.6,1548L1477.2,1547.9L1476.7,1547.7L1476.2,1547.6L1475.7,1547.4L1475.2,1547.3L1474.8,1547.1L1474.3,1546.9L1473.8,1546.8L1473.3,1546.6L1472.8,1546.5L1472.3,1546.3L1471.8,1546.2L1471.3,1546L1470.8,1545.8L1470.3,1545.7L1469.8,1545.5L1469.3,1545.4L1468.8,1545.2L1468.3,1545L1467.8,1544.9L1467.3,1544.7L1466.8,1544.5L1466.3,1544.4L1465.8,1544.2L1465.3,1544L1464.5,1543.8L1463.9,1543.6L1463.2,1543.4L1462.6,1543.1L1461.9,1542.9L1461.3,1542.7L1460.6,1542.5L1460,1542.3L1459.3,1542L1458.7,1541.8L1458,1541.6L1457.3,1541.4L1456.7,1541.1L1456,1540.9L1455.3,1540.7L1454.7,1540.4L1454,1540.2L1453.3,1540L1452.6,1539.7L1451.9,1539.5L1451.3,1539.3L1450.6,1539L1449.9,1538.8L1449.2,1538.5L1448.5,1538.3L1447.8,1538L1447.1,1537.8L1446.4,1537.5L1445.7,1537.3L1445,1537L1444.3,1536.8L1443.6,1536.5L1442.8,1536.3L1442.1,1536L1441.4,1535.7L1440.7,1535.5L1440,1535.2L1439.2,1534.9L1438.5,1534.7L1437.8,1534.4L1437,1534.1L1436.3,1533.8L1435.5,1533.6L1434.8,1533.3L1434,1533L1433.3,1532.7L1432.5,1532.4L1431.8,1532.1L1431,1531.9L1430.2,1531.6L1429.5,1531.3L1428.7,1531L1427.9,1530.7L1427.2,1530.4L1426.7,1530.2L1426.2,1530L1425.8,1529.8L1425.3,1529.7L1424.8,1529.5L1424.3,1529.3L1423.9,1529.1L1423.4,1528.9L1422.9,1528.7L1422.4,1528.5L1422,1528.3L1421.5,1528.2L1421,1528L1420.5,1527.8L1420,1527.6L1419.5,1527.4L1419.1,1527.2L1418.6,1527L1418.1,1526.8L1417.6,1526.6L1417.1,1526.4L1416.6,1526.2L1416.1,1526L1415.6,1525.8L1415.1,1525.6L1414.6,1525.4L1414.1,1525.2L1413.6,1525L1413.1,1524.8L1412.6,1524.6L1412.1,1524.4L1411.6,1524.2L1411.1,1524L1410.6,1523.7L1410.1,1523.5L1409.6,1523.3L1409.1,1523.1L1408.5,1522.9L1408,1522.7L1407.5,1522.5L1407,1522.3L1406.5,1522L1406,1521.8L1405.4,1521.6L1404.9,1521.4L1404.4,1521.1L1403.9,1520.9L1403.3,1520.7L1402.8,1520.5L1402.3,1520.2L1401.7,1520L1401.2,1519.8L1400.7,1519.6L1400.1,1519.3L1399.6,1519.1L1399.1,1518.9L1398.5,1518.6L1398,1518.4L1397.4,1518.2L1396.9,1517.9L1396.3,1517.7L1395.8,1517.4L1395.2,1517.2L1394.7,1516.9L1394.1,1516.7L1393.6,1516.5L1393,1516.2L1392.5,1516L1391.9,1515.7L1391.3,1515.5L1390.8,1515.2L1390.2,1515L1389.6,1514.7L1389.1,1514.4L1388.5,1514.2L1387.9,1513.9L1387.4,1513.7L1386.8,1513.4L1386.2,1513.1L1385.6,1512.9L1385,1512.6L1384.5,1512.3L1383.9,1512.1L1383.3,1511.8L1382.7,1511.5L1382.1,1511.3L1381.5,1511L1380.9,1510.7L1380.3,1510.4L1379.7,1510.1L1379.1,1509.9L1378.5,1509.6L1377.9,1509.3L1377.3,1509L1376.7,1508.7L1376.1,1508.4L1375.5,1508.1L1374.9,1507.9L1374.3,1507.6L1373.7,1507.3L1373.1,1507L1372.4,1506.7L1371.8,1506.4L1371.2,1506.1L1370.6,1505.8L1369.9,1505.5L1369.3,1505.2L1368.7,1504.8L1368,1504.5L1367.4,1504.2L1366.8,1503.9L1366.1,1503.6L1365.5,1503.3L1364.8,1502.9L1364.2,1502.6L1363.5,1502.3L1362.9,1502L1362.2,1501.6L1361.6,1501.3L1360.9,1501L1360.3,1500.6L1359.6,1500.3L1358.9,1500L1358.3,1499.6L1357.8,1499.4L1357.4,1499.2L1356.9,1498.9L1356.5,1498.7L1356,1498.5L1355.6,1498.3L1355.1,1498L1354.7,1497.8L1354.2,1497.5L1353.8,1497.3L1353.3,1497.1L1352.9,1496.8L1352.4,1496.6L1351.9,1496.4L1351.5,1496.1L1351,1495.9L1350.6,1495.6L1350.1,1495.4L1349.6,1495.1L1349.2,1494.9L1348.7,1494.6L1348.2,1494.4L1347.8,1494.1L1347.3,1493.9L1346.8,1493.6L1346.3,1493.4L1345.9,1493.1L1345.4,1492.9L1344.9,1492.6L1344.4,1492.4L1344,1492.1L1343.5,1491.8L1343,1491.6L1342.5,1491.3L1342,1491.1L1341.5,1490.8L1341.1,1490.5L1340.6,1490.3L1340.1,1490L1339.6,1489.7L1339.1,1489.4L1338.6,1489.2L1338.1,1488.9L1337.6,1488.6L1337.1,1488.4L1336.6,1488.1L1336.1,1487.8L1335.6,1487.5L1335.1,1487.2L1334.6,1487L1334.1,1486.7L1333.6,1486.4L1333.1,1486.1L1332.6,1485.8L1332.1,1485.5L1331.6,1485.2L1331.1,1484.9L1330.5,1484.7L1330,1484.4L1329.5,1484.1L1329,1483.8L1328.5,1483.5L1328,1483.2L1327.4,1482.9L1326.9,1482.6L1326.4,1482.3L1325.9,1482L1325.3,1481.7L1324.8,1481.3L1324.3,1481L1323.7,1480.7L1323.2,1480.4L1322.7,1480.1L1322.1,1479.8L1321.6,1479.5L1321,1479.1L1320.5,1478.8L1320,1478.5L1319.4,1478.2L1318.9,1477.9L1318.3,1477.5L1317.8,1477.2L1317.2,1476.9L1316.7,1476.5L1316.1,1476.2L1315.6,1475.9L1315,1475.5L1314.5,1475.2L1313.9,1474.8L1313.3,1474.5L1312.8,1474.2L1312.2,1473.8L1311.6,1473.5L1311.1,1473.1L1310.5,1472.8L1309.9,1472.4L1309.4,1472.1L1308.8,1471.7L1308.2,1471.3L1307.6,1471L1307,1470.6L1306.5,1470.3L1305.9,1469.9L1305.3,1469.5L1304.7,1469.2L1304.1,1468.8L1303.5,1468.4L1302.9,1468L1302.3,1467.7L1301.7,1467.3L1301.1,1466.9L1300.5,1466.5L1299.9,1466.1L1299.3,1465.7L1298.7,1465.3L1298.1,1465L1297.5,1464.6L1296.9,1464.2L1296.3,1463.8L1295.7,1463.4L1295,1463L1294.4,1462.5L1293.8,1462.1L1293.2,1461.7L1292.6,1461.3L1291.9,1460.9L1291.3,1460.5L1290.7,1460.1L1290,1459.6L1289.4,1459.2L1288.8,1458.8L1288.1,1458.4L1287.5,1457.9L1286.8,1457.5L1286.2,1457.1L1285.5,1456.6L1284.9,1456.2L1284.2,1455.7L1283.6,1455.3L1282.9,1454.8L1282.3,1454.4L1281.6,1453.9L1280.9,1453.5L1280.3,1453L1279.6,1452.5L1278.9,1452.1L1278.2,1451.6L1277.6,1451.1L1276.9,1450.7L1276.2,1450.2L1275.5,1449.7L1274.8,1449.2L1274.1,1448.7L1273.5,1448.2L1272.8,1447.7L1272.1,1447.2L1271.4,1446.7L1270.7,1446.2L1270,1445.7L1269.3,1445.2L1268.5,1444.7L1267.8,1444.2L1267.1,1443.7L1266.4,1443.2L1265.7,1442.6L1265,1442.1L1264.2,1441.6L1263.5,1441L1262.8,1440.5L1262,1440L1261.3,1439.4L1260.6,1438.9L1259.8,1438.3L1259.1,1437.7L1258.3,1437.2L1257.6,1436.6L1256.8,1436.1L1256.1,1435.5L1255.3,1434.9L1254.6,1434.3L1253.8,1433.7L1253,1433.1L1252.3,1432.6L1251.5,1432L1250.7,1431.4L1249.9,1430.8L1249.1,1430.1L1248.3,1429.5L1248,1429.2L1247.6,1428.9L1247.2,1428.6L1246.8,1428.3L1246.4,1428L1246,1427.7L1245.6,1427.4L1245.2,1427L1244.8,1426.7L1244.4,1426.4L1244,1426.1L1243.6,1425.8L1243.2,1425.4L1242.7,1425.1L1242.3,1424.8L1241.9,1424.5L1241.5,1424.1L1241.1,1423.8L1240.7,1423.5L1240.3,1423.2L1239.9,1422.8L1239.5,1422.5L1239.1,1422.2L1238.6,1421.8L1238.2,1421.5L1237.8,1421.1L1237.4,1420.8L1237,1420.5L1236.6,1420.1L1236.1,1419.8L1235.7,1419.4L1235.3,1419.1L1234.9,1418.7L1234.4,1418.4L1234,1418.1L1233.6,1417.7L1233.2,1417.4L1232.7,1417L1232.3,1416.6L1231.9,1416.3L1231.5,1415.9L1231,1415.6L1230.6,1415.2L1230.2,1414.9L1229.7,1414.5L1229.3,1414.1L1228.9,1413.8L1228.4,1413.4L1228,1413L1227.5,1412.7L1227.1,1412.3L1226.7,1411.9L1226.2,1411.5L1225.8,1411.2L1225.3,1410.8L1224.9,1410.4L1224.4,1410L1224,1409.6L1223.5,1409.3L1223.1,1408.9L1222.6,1408.5L1222.2,1408.1L1221.7,1407.7L1221.3,1407.3L1220.8,1406.9L1220.4,1406.5L1219.9,1406.1L1219.5,1405.7L1219,1405.4L1218.5,1405L1218.1,1404.5L1217.6,1404.1L1217.2,1403.7L1216.7,1403.3L1216.2,1402.9L1215.8,1402.5L1215.3,1402.1L1214.8,1401.7L1214.4,1401.3L1213.9,1400.9L1213.4,1400.4L1212.9,1400L1212.5,1399.6L1212,1399.2L1211.5,1398.7Z" fill="#0072bd"/>
<path d="M2095.8,1612.6h38M2114.8,1593.6v38" stroke="#0072bd" stroke-width="6" fill="none"/>
<path d="M248,1617L326,1154.2L381.3,891.8L424.2,732L459.2,631.7L488.9,568.4L514.5,529.1L537.2,506.1L557.4,494.3L575.8,490.5L592.5,492.2L607.9,497.9L622.1,506.4L635.4,517.1L647.8,529.1L659.5,542.2L670.4,555.9L680.8,570.1L690.7,584.5L700.1,599L709,613.4L717.6,627.8L725.8,642L733.6,656L741.1,669.8L748.4,683.3L755.4,696.6L762.1,709.5L768.7,722.2L775,734.6L781.1,746.7L787,758.5L792.7,770L798.3,781.3L803.7,792.2L809,802.9L814.1,813.3L819.1,823.5L824,833.4L828.7,843L833.3,852.5L837.9,861.7L842.3,870.6L846.6,879.4L850.8,888L855,896.3L859,904.4L863,912.4L866.9,920.2L870.7,927.8L874.4,935.2L878.1,942.5L881.7,949.6L885.2,956.5L888.7,963.3L892.1,969.9L895.4,976.4L898.7,982.8L901.9,989L905.1,995.1L908.2,1001.1L911.3,1006.9L914.3,1012.6L917.3,1018.2L920.2,1023.7L923.1,1029.1L926,1034.4L928.8,1039.6L931.6,1044.7L934.3,1049.7L937,1054.6L939.6,1059.4L942.2,1064.1L944.8,1068.7L947.4,1073.3L949.9,1077.7L952.4,1082.1L954.8,1086.4L957.2,1090.7L959.6,1094.8L962,1098.9L964.3,1102.9L966.6,1106.9L968.9,1110.8L971.1,1114.6L973.4,1118.4L975.6,1122.1L977.7,1125.7L979.9,1129.3L982,1132.8L984.1,1136.3L986.2,1139.7L988.2,1143.1L990.3,1146.4L992.3,1149.6L994.3,1152.8L996.3,1156L998.2,1159.1L1000.1,1162.2L1002.1,1165.2L1003.9,1168.2L1005.8,1171.1L1007.7,1174L1009.5,1176.9L1011.3,1179.7L1013.1,1182.5L1014.9,1185.2L1016.7,1187.9L1018.5,1190.6L1020.2,1193.2L1021.9,1195.8L1023.6,1198.4L1025.3,1200.9L1027,1203.4L1028.7,1205.9L1030.3,1208.3L1032,1210.7L1033.6,1213L1035.2,1215.4L1036.8,1217.7L1038.4,1220L1039.9,1222.2L1041.5,1224.4L1043,1226.6L1044.6,1228.8L1046.1,1230.9L1047.6,1233L1049.1,1235.1L1050.6,1237.2L1052.1,1239.2L1053.5,1241.3L1055,1243.2L1056.4,1245.2L1057.8,1247.2L1059.3,1249.1L1060.7,1251L1062.1,1252.9L1063.5,1254.7L1064.8,1256.6L1066.2,1258.4L1067.6,1260.2L1068.9,1262L1070.2,1263.7L1071.6,1265.5L1072.9,1267.2L1074.2,1268.9L1075.5,1270.6L1076.8,1272.3L1078.1,1273.9L1079.4,1275.5L1080.6,1277.2L1081.9,1278.8L1083.2,1280.3L1084.4,1281.9L1085.6,1283.5L1086.9,1285L1088.1,1286.5L1089.3,1288L1090.5,1289.5L1091.7,1291L1092.9,1292.4L1094.1,1293.9L1095.2,1295.3L1096.4,1296.7L1097.6,1298.1L1098.7,1299.5L1099.9,1300.9L1101,1302.3L1102.2,1303.6L1103.3,1305L1104.4,1306.3L1105.5,1307.6L1106.6,1308.9L1107.7,1310.2L1108.8,1311.5L1109.9,1312.7L1111,1314L1112.1,1315.2L1113.1,1316.5L1114.2,1317.7L1115.3,1318.9L1116.3,1320.1L1117.4,1321.3L1118.4,1322.5L1119.5,1323.6L1120.5,1324.8L1121.5,1326L1122.5,1327.1L1123.5,1328.2L1124.6,1329.3L1125.6,1330.5L1126.6,1331.6L1127.5,1332.6L1128.5,1333.7L1129.5,1334.8L1130.5,1335.9L1131.5,1336.9L1132.4,1338L1133.4,1339L1134.4,1340L1135.3,1341.1L1136.3,1342.1L1137.2,1343.1L1138.2,1344.1L1139.1,1345.1L1140,1346.1L1140.9,1347L1141.9,1348L1142.8,1349L1143.7,1349.9L1144.6,1350.8L1145.5,1351.8L1146.4,1352.7L1147.3,1353.6L1148.2,1354.6L1149.1,1355.5L1150,1356.4L1150.9,1357.3L1151.7,1358.1L1152.6,1359L1153.5,1359.9L1154.3,1360.8L1155.2,1361.6L1156,1362.5L1156.9,1363.3L1157.8,1364.2L1158.6,1365L1159.4,1365.9L1160.3,1366.7L1161.1,1367.5L1161.9,1368.3L1162.8,1369.1L1163.6,1369.9L1164.4,1370.7L1165.2,1371.5L1166,1372.3L1166.8,1373.1L1167.7,1373.8L1168.5,1374.6L1169.3,1375.4L1170.1,1376.1L1170.8,1376.9L1171.6,1377.6L1172.4,1378.4L1173.2,1379.1L1174,1379.9L1174.8,1380.6L1175.5,1381.3L1176.3,1382L1177.1,1382.7L1177.8,1383.4L1178.6,1384.2L1179.4,1384.9L1180.1,1385.5L1180.9,1386.2L1181.6,1386.9L1182.4,1387.6L1183.1,1388.3L1183.8,1389L1184.6,1389.6L1185.3,1390.3L1186.1,1390.9L1186.8,1391.6L1187.5,1392.3L1188.2,1392.9L1189,1393.5L1189.7,1394.2L1190.4,1394.8L1191.1,1395.5L1191.8,1396.1L1192.5,1396.7L1193.2,1397.3L1193.9,1397.9L1194.6,1398.6L1195.3,1399.2L1196,1399.8L1196.7,1400.4L1197.4,1401L1198.1,1401.6L1198.8,1402.2L1199.5,1402.7L1200.1,1403.3L1200.8,1403.9L1201.5,1404.5L1202.2,1405.1L1202.8,1405.6L1203.5,1406.2L1204.2,1406.8L1204.8,1407.3L1205.5,1407.9L1206.2,1408.4L1206.8,1409L1207.5,1409.5L1208.1,1410.1L1208.8,1410.6L1209.4,1411.1L1210.1,1411.7L1210.7,1412.2L1211.4,1412.7L1212,1413.3L1212.6,1413.8L1213.3,1414.3L1213.9,1414.8L1214.5,1415.3L1215.2,1415.9L1215.8,1416.4L1216.4,1416.9L1217,1417.4L1217.7,1417.9L1218.3,1418.4L1218.9,1418.9L1219.5,1419.4L1220.1,1419.8L1220.7,1420.3L1221.4,1420.8L1222,1421.3L1222.6,1421.8L1223.2,1422.2L1223.8,1422.7L1224.4,1423.2L1225,1423.7L1225.6,1424.1L1226.2,1424.6L1226.7,1425.1L1227.3,1425.5L1227.9,1426L1228.5,1426.4L1229.1,1426.9L1229.7,1427.3L1230.3,1427.8L1230.8,1428.2L1231.4,1428.7L1232,1429.1L1232.6,1429.5L1233.1,1430L1233.7,1430.4L1234.3,1430.8L1234.9,1431.3L1235.4,1431.7L1236,1432.1L1236.6,1432.5L1237.1,1433L1237.7,1433.4L1238.2,1433.8L1238.8,1434.2L1239.3,1434.6L1239.9,1435L1240.4,1435.5L1241,1435.9L1241.5,1436.3L1242.1,1436.7L1242.6,1437.1L1243.2,1437.5L1243.7,1437.9L1244.3,1438.3L1244.8,1438.7L1245.3,1439L1245.9,1439.4L1246.4,1439.8L1246.9,1440.2L1247.5,1440.6L1248,1441L1248.5,1441.4L1249.1,1441.7L1249.6,1442.1L1250.1,1442.5L1250.6,1442.9L1251.2,1443.2L1251.7,1443.6L1252.2,1444L1252.7,1444.3L1253.2,1444.7L1253.7,1445.1L1254.3,1445.4L1254.8,1445.8L1255.3,1446.1L1255.8,1446.5L1256.3,1446.9L1256.8,1447.2L1257.3,1447.6L1257.8,1447.9L1258.3,1448.3L1258.8,1448.6L1259.3,1448.9L1259.8,1449.3L1260.3,1449.6L1260.8,1450L1261.3,1450.3L1261.8,1450.7L1262.3,1451L1262.8,1451.3L1263.3,1451.7L1263.8,1452L1264.3,1452.3L1264.7,1452.6L1265.2,1453L1265.7,1453.3L1266.2,1453.6L1266.7,1453.9L1267.2,1454.3L1267.6,1454.6L1268.1,1454.9L1268.6,1455.2L1269.1,1455.5L1269.5,1455.9L1270,1456.2L1270.5,1456.5L1270.9,1456.8L1271.4,1457.1L1271.9,1457.4L1272.4,1457.7L1272.8,1458L1273.3,1458.3L1273.7,1458.6L1274.2,1458.9L1274.7,1459.2L1275.1,1459.5L1275.6,1459.8L1276.1,1460.1L1276.5,1460.4L1277,1460.7L1277.4,1461L1277.9,1461.3L1278.3,1461.6L1278.8,1461.9L1279.2,1462.2L1279.7,1462.5L1280.1,1462.8L1280.6,1463L1281,1463.3L1281.5,1463.6L1281.9,1463.9L1282.4,1464.2L1282.8,1464.5L1283.2,1464.7L1283.7,1465L1284.1,1465.3L1284.6,1465.6L1285,1465.8L1285.4,1466.1L1285.9,1466.4L1286.3,1466.7L1286.7,1466.9L1287.2,1467.2L1287.6,1467.5L1288,1467.7L1288.5,1468L1288.9,1468.3L1289.3,1468.5L1289.7,1468.8L1290.6,1469.3L1291.4,1469.8L1292.3,1470.3L1293.1,1470.9L1294,1471.4L1294.8,1471.9L1295.6,1472.4L1296.4,1472.9L1297.3,1473.3L1298.1,1473.8L1298.9,1474.3L1299.7,1474.8L1300.5,1475.3L1301.3,1475.8L1302.1,1476.2L1302.9,1476.7L1303.7,1477.2L1304.5,1477.6L1305.3,1478.1L1306.1,1478.5L1306.9,1479L1307.6,1479.4L1308.4,1479.9L1309.2,1480.3L1310,1480.7L1310.7,1481.2L1311.5,1481.6L1312.2,1482L1313,1482.5L1313.8,1482.9L1314.5,1483.3L1315.3,1483.7L1316,1484.2L1316.7,1484.6L1317.5,1485L1318.2,1485.4L1319,1485.8L1319.7,1486.2L1320.4,1486.6L1321.1,1487L1321.9,1487.4L1322.6,1487.8L1323.3,1488.2L1324,1488.5L1324.7,1488.9L1325.4,1489.3L1326.1,1489.7L1326.8,1490.1L1327.5,1490.4L1328.2,1490.8L1328.9,1491.2L1329.6,1491.5L1330.3,1491.9L1331,1492.3L1331.7,1492.6L1332.4,1493L1333.1,1493.3L1333.8,1493.7L1334.4,1494L1335.1,1494.4L1335.8,1494.7L1336.4,1495.1L1337.1,1495.4L1337.8,1495.8L1338.4,1496.1L1339.1,1496.4L1339.8,1496.8L1340.4,1497.1L1341.1,1497.4L1341.7,1497.8L1342.4,1498.1L1343,1498.4L1343.7,1498.7L1344.3,1499.1L1344.9,1499.4L1345.6,1499.7L1346.2,1500L1346.9,1500.3L1347.5,1500.6L1348.1,1500.9L1348.7,1501.2L1349.4,1501.5L1350,1501.9L1350.6,1502.2L1351.2,1502.5L1351.9,1502.8L1352.5,1503.1L1353.1,1503.3L1353.7,1503.6L1354.3,1503.9L1354.9,1504.2L1355.5,1504.5L1356.1,1504.8L1356.7,1505.1L1357.3,1505.4L1357.9,1505.7L1358.5,1505.9L1359.1,1506.2L1359.7,1506.5L1360.3,1506.8L1360.9,1507L1361.5,1507.3L1362.1,1507.6L1362.7,1507.9L1363.2,1508.1L1363.8,1508.4L1364.4,1508.7L1365,1508.9L1365.6,1509.2L1366.1,1509.5L1366.7,1509.7L1367.3,1510L1367.8,1510.2L1368.4,1510.5L1369,1510.8L1369.5,1511L1370.1,1511.3L1370.7,1511.5L1371.2,1511.8L1371.8,1512L1372.3,1512.3L1372.9,1512.5L1373.4,1512.7L1374,1513L1374.5,1513.2L1375.1,1513.5L1375.6,1513.7L1376.2,1514L1376.7,1514.2L1377.3,1514.4L1377.8,1514.7L1378.3,1514.9L1378.9,1515.1L1379.4,1515.4L1379.9,1515.6L1380.5,1515.8L1381,1516.1L1381.5,1516.3L1382.1,1516.5L1382.6,1516.7L1383.1,1517L1383.6,1517.2L1384.2,1517.4L1384.7,1517.6L1385.2,1517.8L1385.7,1518.1L1386.2,1518.3L1386.8,1518.5L1387.3,1518.7L1387.8,1518.9L1388.3,1519.1L1388.8,1519.4L1389.3,1519.6L1389.8,1519.8L1390.3,1520L1390.8,1520.2L1391.3,1520.4L1391.8,1520.6L1392.3,1520.8L1392.8,1521L1393.3,1521.2L1393.8,1521.4L1394.3,1521.6L1394.8,1521.8L1395.3,1522L1395.8,1522.2L1396.3,1522.4L1396.8,1522.6L1397.3,1522.8L1397.8,1523L1398.2,1523.2L1398.7,1523.4L1399.2,1523.6L1399.7,1523.8L1400.2,1524L1400.7,1524.2L1401.1,1524.4L1401.6,1524.6L1402.1,1524.8L1402.6,1524.9L1403,1525.1L1403.5,1525.3L1404,1525.5L1404.5,1525.7L1404.9,1525.9L1405.4,1526L1405.9,1526.2L1406.6,1526.5L1407.2,1526.8L1407.9,1527L1408.6,1527.3L1409.3,1527.6L1410,1527.8L1410.7,1528.1L1411.4,1528.3L1412,1528.6L1412.7,1528.9L1413.4,1529.1L1414.1,1529.4L1414.7,1529.6L1415.4,1529.9L1416.1,1530.1L1416.7,1530.4L1417.4,1530.6L1418,1530.9L1418.7,1531.1L1419.4,1531.3L1420,1531.6L1420.7,1531.8L1421.3,1532.1L1421.9,1532.3L1422.6,1532.5L1423.2,1532.8L1423.9,1533L1424.5,1533.2L1425.1,1533.4L1425.8,1533.7L1426.4,1533.9L1427,1534.1L1427.6,1534.3L1428.3,1534.6L1428.9,1534.8L1429.5,1535L1430.1,1535.2L1430.7,1535.4L1431.4,1535.7L1432,1535.9L1432.6,1536.1L1433.2,1536.3L1433.8,1536.5L1434.4,1536.7L1435,1536.9L1435.6,1537.1L1436.2,1537.3L1436.8,1537.5L1437.4,1537.7L1438,1537.9L1438.6,1538.1L1439.2,1538.3L1439.7,1538.5L1440.3,1538.7L1440.9,1538.9L1441.5,1539.1L1442.1,1539.3L1442.6,1539.5L1443.2,1539.7L1443.8,1539.9L1444.4,1540.1L1444.9,1540.3L1445.5,1540.5L1446.1,1540.7L1446.6,1540.9L1447.2,1541L1447.8,1541.2L1448.3,1541.4L1448.9,1541.6L1449.5,1541.8L1450,1542L1450.6,1542.1L1451.1,1542.3L1451.7,1542.5L1452.2,1542.7L1452.8,1542.8L1453.3,1543L1453.9,1543.2L1454.4,1543.4L1454.9,1543.5L1455.5,1543.7L1456,1543.9L1456.6,1544.1L1457.1,1544.2L1457.6,1544.4L1458.2,1544.6L1458.7,1544.7L1459.2,1544.9L1459.8,1545.1L1460.3,1545.2L1460.8,1545.4L1461.3,1545.6L1461.9,1545.7L1462.4,1545.9L1462.9,1546L1463.4,1546.2L1463.9,1546.4L1464.5,1546.5L1465,1546.7L1465.5,1546.8L1466,1547L1466.5,1547.1L1467,1547.3L1467.5,1547.4L1468,1547.6L1468.5,1547.7L1469,1547.9L1469.5,1548.1L1470,1548.2L1470.5,1548.4L1471,1548.5L1471.5,1548.6L1472,1548.8L1472.5,1548.9L1473,1549.1L1473.5,1549.2L1474,1549.4L1474.5,1549.5L1475,1549.7L1475.5,1549.8L1476,1549.9L1476.4,1550.1L1476.9,1550.2L1477.4,1550.4L1477.9,1550.5L1478.7,1550.7L1479.5,1551L1480.3,1551.2L1481.1,1551.4L1481.9,1551.6L1482.6,1551.9L1483.4,1552.1L1484.2,1552.3L1485,1552.5L1485.7,1552.7L1486.5,1553L1487.3,1553.2L1488,1553.4L1488.8,1553.6L1489.5,1553.8L1490.3,1554L1491.1,1554.2L1491.8,1554.4L1492.5,1554.6L1493.3,1554.8L1494,1555L1494.8,1555.2L1495.5,1555.4L1496.2,1555.6L1496.9,1555.8L1497.7,1556L1498.4,1556.2L1499.1,1556.4L1499.8,1556.6L1500.5,1556.8L1501.3,1557L1502,1557.1L1502.7,1557.3L1503.4,1557.5L1504.1,1557.7L1504.8,1557.9L1505.5,1558L1506.2,1558.2L1506.8,1558.4L1507.5,1558.6L1508.2,1558.8L1508.9,1558.9L1509.6,1559.1L1510.3,1559.3L1510.9,1559.4L1511.6,1559.6L1512.3,1559.8L1512.9,1560L1513.6,1560.1L1514.3,1560.3L1514.9,1560.4L1515.6,1560.6L1516.3,1560.8L1516.9,1560.9L1517.6,1561.1L1518.2,1561.3L1518.9,1561.4L1519.5,1561.6L1520.2,1561.7L1520.8,1561.9L1521.6,1562.1L1522.1,1562.2L1522.6,1562.3L1523.1,1562.4L1523.6,1562.6L1524.1,1562.7L1524.6,1562.8L1525.1,1562.9L1525.6,1563L1526.1,1563.2L1526.6,1563.3L1527.1,1563.4L1527.6,1563.5L1528.1,1563.6L1528.6,1563.7L1529.1,1563.8L1529.6,1564L1530.1,1564.1L1530.5,1564.2L1531.4,1564.4L1532.2,1564.6L1533.1,1564.8L1533.9,1565L1534.8,1565.2L1535.6,1565.3L1536.4,1565.5L1537.2,1565.7L1538.1,1565.9L1538.9,1566.1L1539.7,1566.3L1540.5,1566.5L1541.3,1566.6L1542.1,1566.8L1542.9,1567L1543.7,1567.2L1544.5,1567.3L1545.3,1567.5L1546.1,1567.7L1546.9,1567.9L1547.7,1568L1548.4,1568.2L1549.2,1568.4L1550,1568.5L1550.8,1568.7L1551.5,1568.9L1552.3,1569L1553.1,1569.2L1553.8,1569.3L1554.6,1569.5L1555.3,1569.6L1556.1,1569.8L1556.8,1570L1557.6,1570.1L1558.3,1570.3L1559,1570.4L1559.8,1570.6L1560.5,1570.7L1561.2,1570.9L1561.9,1571L1562.7,1571.2L1563.4,1571.3L1564.1,1571.5L1564.8,1571.6L1565.5,1571.7L1566.2,1571.9L1567,1572L1567.7,1572.2L1568.4,1572.3L1569.1,1572.4L1569.8,1572.6L1570.4,1572.7L1571.1,1572.8L1571.8,1573L1572.5,1573.1L1573.2,1573.2L1573.9,1573.4L1574.6,1573.5L1575.2,1573.6L1575.9,1573.8L1576.7,1573.9L1577.5,1574.1L1578.4,1574.2L1579.3,1574.4L1580.1,1574.6L1580.9,1574.7L1581.8,1574.9L1582.6,1575L1583.5,1575.2L1584.3,1575.3L1585.1,1575.5L1585.9,1575.6L1586.8,1575.8L1587.6,1575.9L1588.4,1576.1L1589.2,1576.2L1590,1576.4L1590.8,1576.5L1591.6,1576.7L1592.4,1576.8L1593.2,1577L1594,1577.1L1594.8,1577.2L1595.6,1577.4L1596.3,1577.5L1597.1,1577.7L1597.9,1577.8L1598.7,1577.9L1599.4,1578.1L1600.2,1578.2L1601,1578.3L1601.7,1578.4L1602.5,1578.6L1603.2,1578.7L1604,1578.8L1604.7,1579L1605.5,1579.1L1606.2,1579.2L1606.9,1579.3L1607.7,1579.5L1608.4,1579.6L1609.1,1579.7L1609.9,1579.8L1610.6,1579.9L1611.3,1580.1L1612,1580.2L1612.8,1580.3L1613.5,1580.4L1614.2,1580.5L1614.9,1580.6L1615.6,1580.8L1616.3,1580.9L1617,1581L1617.7,1581.1L1618.4,1581.2L1619.1,1581.3L1619.9,1581.4L1620.8,1581.6L1621.6,1581.7L1622.4,1581.8L1623.3,1582L1624.1,1582.1L1624.9,1582.2L1625.7,1582.4L1626.5,1582.5L1627.4,1582.6L1628.2,1582.7L1629,1582.9L1629.8,1583L1630.6,1583.1L1631.4,1583.2L1632.2,1583.3L1632.9,1583.5L1633.7,1583.6L1634.5,1583.7L1635.3,1583.8L1636.1,1583.9L1636.8,1584L1637.6,1584.1L1638.4,1584.3L1639.1,1584.4L1639.9,1584.5L1640.7,1584.6L1641.4,1584.7L1642.2,1584.8L1642.9,1584.9L1643.7,1585L1644.4,1585.1L1645.1,1585.2L1645.9,1585.3L1646.6,1585.4L1647.3,1585.5L1648.1,1585.6L1648.8,1585.7L1649.5,1585.8L1650.2,1585.9L1651,1586L1651.7,1586.1L1652.4,1586.2L1653.1,1586.3L1653.8,1586.4L1654.6,1586.5L1655.4,1586.7L1656.2,1586.8L1657.1,1586.9L1657.9,1587L1658.7,1587.1L1659.5,1587.2L1660.3,1587.3L1661.1,1587.4L1661.9,1587.5L1662.7,1587.6L1663.5,1587.7L1664.3,1587.8L1665.1,1587.9L1665.9,1588L1666.7,1588.1L1667.4,1588.2L1668.2,1588.3L1669,1588.4L1669.7,1588.5L1670.5,1588.6L1671.3,1588.7L1672,1588.8L1672.8,1588.9L1673.5,1589L1674.3,1589.1L1675,1589.2L1675.8,1589.3L1676.5,1589.4L1677.3,1589.5L1678,1589.6L1678.7,1589.7L1679.5,1589.8L1680.2,1589.9L1680.9,1589.9L1681.7,1590L1682.4,1590.1L1683.1,1590.2L1683.8,1590.3L1684.6,1590.4L1685.5,1590.5L1686.3,1590.6L1687.1,1590.7L1687.9,1590.8L1688.7,1590.9L1689.5,1591L1690.3,1591.1L1691.1,1591.1L1691.9,1591.2L1692.7,1591.3L1693.4,1591.4L1694.2,1591.5L1695,1591.6L1695.8,1591.7L1696.6,1591.8L1697.3,1591.9L1698.1,1591.9L1698.9,1592L1699.6,1592.1L1700.4,1592.2L1701.1,1592.3L1701.9,1592.4L1702.6,1592.5L1703.4,1592.5L1704.1,1592.6L1704.9,1592.7L1705.6,1592.8L1706.3,1592.9L1707.1,1592.9L1707.8,1593L1708.5,1593.1L1709.2,1593.2L1710,1593.3L1710.8,1593.3L1711.6,1593.4L1712.4,1593.5L1713.2,1593.6L1714,1593.7L1714.8,1593.8L1715.6,1593.8L1716.4,1593.9L1717.2,1594L1718,1594.1L1718.8,1594.2L1719.5,1594.3L1720.3,1594.3L1721.1,1594.4L1721.8,1594.5L1722.6,1594.6L1723.4,1594.6L1724.1,1594.7L1724.9,1594.8L1725.6,1594.9L1726.4,1594.9L1727.1,1595L1727.9,1595.1L1728.6,1595.2L1729.4,1595.2L1730.1,1595.3L1730.8,1595.4L1731.5,1595.5L1732.3,1595.5L1733.1,1595.6L1733.9,1595.7L1734.7,1595.8L1735.5,1595.8L1736.3,1595.9L1737.1,1596L1737.9,1596.1L1738.7,1596.1L1739.4,1596.2L1740.2,1596.3L1741,1596.4L1741.8,1596.4L1742.5,1596.5L1743.3,1596.6L1744.1,1596.6L1744.8,1596.7L1745.6,1596.8L1746.3,1596.8L1747.1,1596.9L1747.8,1597L1748.6,1597.1L1749.3,1597.1L1750.1,1597.2L1750.8,1597.3L1751.5,1597.3L1752.3,1597.4L1753,1597.5L1753.8,1597.5L1754.6,1597.6L1755.4,1597.7L1756.2,1597.7L1757,1597.8L1757.8,1597.9L1758.6,1597.9L1759.4,1598L1760.1,1598.1L1760.9,1598.1L1761.7,1598.2L1762.5,1598.3L1763.2,1598.3L1764,1598.4L1764.7,1598.5L1765.5,1598.5L1766.3,1598.6L1767,1598.7L1767.7,1598.7L1768.5,1598.8L1769.2,1598.8L1770,1598.9L1770.7,1599L1771.5,1599L1772.3,1599.1L1773.1,1599.2L1773.9,1599.2L1774.7,1599.3L1775.5,1599.3L1776.2,1599.4L1777,1599.5L1777.8,1599.5L1778.6,1599.6L1779.3,1599.7L1780.1,1599.7L1780.9,1599.8L1781.6,1599.8L1782.4,1599.9L1783.2,1599.9L1783.9,1600L1784.7,1600.1L1785.4,1600.1L1786.1,1600.2L1786.9,1600.2L1787.6,1600.3L1788.4,1600.4L1789.2,1600.4L1790,1600.5L1790.8,1600.5L1791.6,1600.6L1792.4,1600.6L1793.1,1600.7L1793.9,1600.8L1794.7,1600.8L1795.5,1600.9L1796.2,1600.9L1797,1601L1797.7,1601L1798.5,1601.1L1799.3,1601.2L1800,1601.2L1800.8,1601.3L1801.5,1601.3L1802.2,1601.4L1803,1601.4L1803.8,1601.5L1804.6,1601.5L1805.4,1601.6L1806.1,1601.6L1806.9,1601.7L1807.7,1601.7L1808.5,1601.8L1809.3,1601.9L1810,1601.9L1810.8,1602L1811.6,1602L1812.3,1602.1L1813.1,1602.1L1813.8,1602.2L1814.6,1602.2L1815.3,1602.3L1816.1,1602.3L1816.8,1602.4L1817.6,1602.4L1818.4,1602.5L1819.2,1602.5L1820,1602.6L1820.7,1602.6L1821.5,1602.7L1822.3,1602.7L1823.1,1602.8L1823.8,1602.8L1824.6,1602.9L1825.4,1602.9L1826.1,1603L1826.9,1603L1827.7,1603.1L1828.4,1603.1L1829.2,1603.2L1829.9,1603.2L1830.7,1603.3L1831.5,1603.3L1832.2,1603.4L1833,1603.4L1833.8,1603.5L1834.6,1603.5L1835.4,1603.6L1836.1,1603.6L1836.9,1603.7L1837.7,1603.7L1838.4,1603.7L1839.2,1603.8L1840,1603.8L1840.7,1603.9L1841.5,1603.9L1842.2,1604L1843,1604L1843.7,1604.1L1844.5,1604.1L1845.3,1604.2L1846.1,1604.2L1846.9,1604.2L1847.6,1604.3L1848.4,1604.3L1849.2,1604.4L1849.9,1604.4L1850.7,1604.5L1851.5,1604.5L1852.2,1604.6L1853,1604.6L1853.7,1604.6L1854.5,1604.7L1855.3,1604.7L1856.1,1604.8L1856.8,1604.8L1857.6,1604.9L1858.4,1604.9L1859.2,1604.9L1859.9,1605L1860.7,1605L1861.5,1605.1L1862.2,1605.1L1863,1605.2L1863.7,1605.2L1864.5,1605.2L1865.2,1605.3L1866,1605.3L1866.8,1605.4L1867.6,1605.4L1868.4,1605.4L1869.1,1605.5L1869.9,1605.5L1870.7,1605.6L1871.4,1605.6L1872.2,1605.6L1873,1605.7L1873.7,1605.7L1874.5,1605.8L1875.2,1605.8L1876,1605.8L1876.8,1605.9L1877.6,1605.9L1878.3,1606L1879.1,1606L1879.9,1606L1880.7,1606.1L1881.4,1606.1L1882.2,1606.1L1882.9,1606.2L1883.7,1606.2L1884.5,1606.3L1885.2,1606.3L1886,1606.3L1886.8,1606.4L1887.6,1606.4L1888.3,1606.5L1889.1,1606.5L1889.9,1606.5L1890.6,1606.6L1891.4,1606.6L1892.2,1606.6L1892.9,1606.7L1893.7,1606.7L1894.4,1606.7L1895.2,1606.8L1896,1606.8L1896.8,1606.9L1897.5,1606.9L1898.3,1606.9L1899.1,1607L1899.9,1607L1900.6,1607L1901.4,1607.1L1902.1,1607.1L1902.9,1607.1L1903.7,1607.2L1904.4,1607.2L1905.2,1607.2L1906,1607.3L1906.8,1607.3L1907.5,1607.3L1908.3,1607.4L1909.1,1607.4L1909.8,1607.4L1910.6,1607.5L1911.4,1607.5L1912.1,1607.5L1912.9,1607.6L1913.7,1607.6L1914.4,1607.6L1915.2,1607.7L1916,1607.7L1916.8,1607.7L1917.5,1607.8L1918.3,1607.8L1919.1,1607.8L1919.8,1607.9L1920.6,1607.9L1921.3,1607.9L1922.1,1608L1922.9,1608L1923.7,1608L1924.4,1608.1L1925.2,1608.1L1926,1608.1L1926.7,1608.2L1927.5,1608.2L1928.2,1608.2L1929,1608.2L1929.8,1608.3L1930.6,1608.3L1931.3,1608.3L1932.1,1608.4L1932.9,1608.4L1933.6,1608.4L1934.4,1608.5L1935.2,1608.5L1935.9,1608.5L1936.7,1608.6L1937.5,1608.6L1938.2,1608.6L1939,1608.6L1939.8,1608.7L1940.6,1608.7L1941.3,1608.7L1942.1,1608.8L1942.8,1608.8L1943.6,1608.8L1944.4,1608.8L1945.2,1608.9L1945.9,1608.9L1946.7,1608.9L1947.5,1609L1948.2,1609L1949,1609L1949.8,1609L1950.5,1609.1L1951.3,1609.1L1952.1,1609.1L1952.8,1609.2L1953.6,1609.2L1954.4,1609.2L1955.1,1609.2L1955.9,1609.3L1956.7,1609.3L1957.4,1609.3L1958.2,1609.4L1959,1609.4L1959.8,1609.4L1960.5,1609.4L1961.3,1609.5L1962.1,1609.5L1962.8,1609.5L1963.6,1609.5L1964.4,1609.6L1965.1,1609.6L1965.9,1609.6L1966.7,1609.6L1967.4,1609.7L1968.2,1609.7L1969,1609.7L1969.7,1609.7L1970.5,1609.8L1971.3,1609.8L1972,1609.8L1972.8,1609.8L1973.6,1609.9L1974.4,1609.9L1975.1,1609.9L1975.9,1609.9L1976.6,1610L1977.4,1610L1978.2,1610L1979,1610L1979.7,1610.1L1980.5,1610.1L1981.3,1610.1L1982,1610.1L1982.8,1610.2L1983.6,1610.2L1984.3,1610.2L1985.1,1610.2L1985.9,1610.3L1986.6,1610.3L1987.4,1610.3L1988.2,1610.3L1988.9,1610.4L1989.7,1610.4L1990.5,1610.4L1991.2,1610.4L1992,1610.5L1992.8,1610.5L1993.5,1610.5L1994.3,1610.5L1995.1,1610.5L1995.9,1610.6L1996.6,1610.6L1997.4,1610.6L1998.2,1610.6L1998.9,1610.7L1999.7,1610.7L2000.5,1610.7L2001.2,1610.7L2002,1610.8L2002.8,1610.8L2003.5,1610.8L2004.3,1610.8L2005.1,1610.8L2005.8,1610.9L2006.6,1610.9L2007.4,1610.9L2008.1,1610.9L2008.9,1610.9L2009.7,1611L2010.4,1611L2011.2,1611L2012,1611L2012.8,1611.1L2013.5,1611.1L2014.3,1611.1L2015.1,1611.1L2015.8,1611.1L2016.6,1611.2L2017.4,1611.2L2018.1,1611.2L2018.9,1611.2L2019.7,1611.2L2020.4,1611.3L2021.2,1611.3L2022,1611.3L2022.7,1611.3L2023.5,1611.3L2024.3,1611.4L2025,1611.4L2025.8,1611.4L2026.6,1611.4L2027.3,1611.4L2028.1,1611.5L2028.9,1611.5L2029.6,1611.5L2030.4,1611.5L2031.2,1611.5L2032,1611.6L2032.7,1611.6L2033.5,1611.6L2034.3,1611.6L2035,1611.6L2035.8,1611.7L2036.6,1611.7L2037.3,1611.7L2038.1,1611.7L2038.9,1611.7L2039.6,1611.8L2040.4,1611.8L2041.2,1611.8L2041.9,1611.8L2042.7,1611.8L2043.5,1611.8L2044.2,1611.9L2045,1611.9L2045.8,1611.9L2046.5,1611.9L2047.3,1611.9L2048.1,1612L2048.9,1612L2049.6,1612L2050.4,1612L2051.2,1612L2051.9,1612L2052.7,1612.1L2053.5,1612.1L2054.2,1612.1L2055,1612.1L2055.8,1612.1L2056.5,1612.1L2057.3,1612.2L2058.1,1612.2L2058.8,1612.2L2059.6,1612.2L2060.4,1612.2L2061.1,1612.3L2061.9,1612.3L2062.7,1612.3L2063.4,1612.3L2064.2,1612.3L2065,1612.3L2065.7,1612.4L2066.5,1612.4L2067.3,1612.4L2068.1,1612.4L2068.8,1612.4L2069.6,1612.4L2070.4,1612.5L2071.1,1612.5L2071.9,1612.5L2072.7,1612.5L2073.4,1612.5L2074.2,1612.5L2075,1612.5L2075.7,1612.6L2076.5,1612.6L2077.3,1612.6L2078,1612.6L2078.8,1612.6L2079.6,1612.6L2080.3,1612.7L2081.1,1612.7L2081.9,1612.7L2082.6,1612.7L2083.4,1612.7L2084.2,1612.7L2085,1612.7L2085.7,1612.8L2086.5,1612.8L2087.2,1612.8L2088,1612.8L2088.8,1612.8L2089.6,1612.8L2090.3,1612.9L2091.1,1612.9L2091.9,1612.9L2092.6,1612.9L2093.4,1612.9L2094.2,1612.9L2094.9,1612.9L2095.7,1613L2096.5,1613L2097.2,1613L2098,1613L2098.8,1613L2099.5,1613L2100.3,1613L2101.1,1613.1L2101.8,1613.1L2102.6,1613.1L2103.4,1613.1L2104.2,1613.1L2104.9,1613.1L2105.7,1613.1L2106.5,1613.2L2107.2,1613.2L2108,1613.2L2108.8,1613.2L2109.5,1613.2L2110.3,1613.2L2111.1,1613.2L2111.8,1613.2L2112.6,1613.3L2113.4,1613.3L2114.1,1613.3L2114.9,1613.3L2115.7,1613.3L2116.4,1613.3L2117.2,1613.3L2118,1613.4L2118.7,1613.4L2119.5,1613.4L2120.3,1613.4L2121,1613.4L2121.8,1613.4L2122.6,1613.4L2123.4,1613.4L2124.1,1613.5L2124.9,1613.5L2125.7,1613.5L2126.4,1613.5L2127.2,1613.5L2128,1613.5L2128.7,1613.5L2129.5,1613.5L2130.3,1613.6L2131,1613.6L2131.8,1613.6L2132.6,1613.6L2133.3,1613.6L2134.1,1613.6L2134.9,1613.6L2135.6,1613.6L2136.4,1613.7L2137.2,1613.7L2138,1613.7L2138.7,1613.7L2139.5,1613.7L2140.3,1613.7L2141,1613.7L2141.8,1613.7L2142.6,1613.8L2143.3,1613.8L2144.1,1613.8L2144.9,1613.8L2145.6,1613.8L2146.4,1613.8L2147.2,1613.8L2147.9,1613.8L2148.7,1613.8L2149.5,1613.9L2150.2,1613.9L2151,1613.9L2151.8,1613.9L2152.1,1613.9" stroke="#d95319" stroke-width="4.17" fill="none" stroke-linejoin="round"/>
<rect x="1778" y="239" width="442" height="433" fill="#fff" stroke="#262626" stroke-width="4.17"/>
<path d="M1778,336H2220" stroke="#262626" stroke-width="4.17"/>
<path d="M1888.1,383.5h0" stroke="#ff0000" stroke-width="13.4" stroke-linecap="round"/>
<path d="M1796,464H1981" stroke="#000" stroke-width="4.17" stroke-dasharray="37.6 12.95 10.1 12.95"/>
<path d="M1796,544H1981" stroke="#0072bd" stroke-width="4.17" stroke-dasharray="37.6 12.95 10.1 12.95"/>
<path d="M1869,544h38M1888,525v38" stroke="#0072bd" stroke-width="6"/>
<path d="M1796,624H1981" stroke="#d95319" stroke-width="4.17"/>
</g>
<text transform="translate(186.85,1642.12) scale(0.9552,1.0379)" font-family="'Liberation Sans',sans-serif" font-size="62.5" fill="#262626">0</text>
<text transform="translate(186.25,1352.52) scale(1.0197,1.0354)" font-family="'Liberation Sans',sans-serif" font-size="62.5" fill="#262626">5</text>
<text transform="translate(156.38,1062.52) scale(0.9496,1.0493)" font-family="'Liberation Sans',sans-serif" font-size="62.5" fill="#262626">10</text>
<text transform="translate(156.29,772.51) scale(0.9665,1.0351)" font-family="'Liberation Sans',sans-serif" font-size="62.5" fill="#262626">15</text>
<text transform="translate(153.88,482.52) scale(0.9869,1.0493)" font-family="'Liberation Sans',sans-serif" font-size="62.5" fill="#262626">20</text>
<text transform="translate(153.82,192.31) scale(1.0050,1.0376)" font-family="'Liberation Sans',sans-serif" font-size="62.5" fill="#262626">25</text>
<text transform="translate(229.63,1706.12) scale(0.9653,1.0379)" font-family="'Liberation Sans',sans-serif" font-size="62.5" fill="#262626">0</text>
<text transform="translate(895.26,1706.32) scale(1.0163,1.0308)" font-family="'Liberation Sans',sans-serif" font-size="62.5" fill="#262626">5</text>
<text transform="translate(1547.30,1706.42) scale(0.9657,1.0425)" font-family="'Liberation Sans',sans-serif" font-size="62.5" fill="#262626">10</text>
<text transform="translate(2214.18,1706.11) scale(0.9697,1.0259)" font-family="'Liberation Sans',sans-serif" font-size="62.5" fill="#262626">15</text>
<text transform="translate(677.45,1796.00) scale(0.9928,1.0000)" font-family="'Liberation Sans',sans-serif" font-size="68.75" fill="#262626">Spectrum Efficiency,</text>
<text transform="translate(1310.83,1797.23) scale(1.1653,0.9783)" font-family="'Liberation Serif',serif" font-size="68.75" fill="#262626" font-style="italic">η</text>
<text transform="translate(1349.15,1829.29) scale(0.9673,1.0471)" font-family="'Liberation Sans',sans-serif" font-size="55" fill="#262626">SE</text>
<text transform="translate(1442.68,1796.00) scale(0.9813,1.0000)" font-family="'Liberation Sans',sans-serif" font-size="68.75" fill="#262626">(bits/sec/Hz)</text>
<text transform="translate(92.10,1404.30) rotate(-90) scale(0.9932,1.0000)" font-family="'Liberation Sans',sans-serif" font-size="68.75" fill="#262626">Energy Efficiency,</text>
<text transform="translate(92.54,844.28) rotate(-90) scale(1.1688,0.9637)" font-family="'Liberation Serif',serif" font-size="68.75" fill="#262626" font-style="italic">η</text>
<text transform="translate(124.20,805.13) rotate(-90) scale(0.9571,1.0263)" font-family="'Liberation Sans',sans-serif" font-size="55" fill="#262626">EE</text>
<text transform="translate(92.10,712.01) rotate(-90) scale(0.9793,1.0000)" font-family="'Liberation Sans',sans-serif" font-size="68.75" fill="#262626">(bits/joules/Hz)</text>
<text transform="translate(1802.49,313.04) scale(0.9831,0.9814)" font-family="'Liberation Sans',sans-serif" font-size="62.5" fill="#000" font-weight="bold">splitting ratio</text>
<text transform="translate(1996.52,409.95) scale(1.0178,0.9253)" font-family="'Liberation Serif',serif" font-size="62.5" fill="#000" font-style="italic">ρ</text>
<text transform="translate(2043.40,408.79) scale(0.9610,0.6320)" font-family="'Liberation Sans',sans-serif" font-size="62.5" fill="#000" font-weight="bold">=</text>
<text transform="translate(2078.28,410.42) scale(0.9877,1.0448)" font-family="'Liberation Sans',sans-serif" font-size="62.5" fill="#000">0.10</text>
<text transform="translate(1996.52,492.95) scale(1.0178,0.9253)" font-family="'Liberation Serif',serif" font-size="62.5" fill="#000" font-style="italic">ρ</text>
<text transform="translate(2043.40,491.79) scale(0.9610,0.6320)" font-family="'Liberation Sans',sans-serif" font-size="62.5" fill="#000" font-weight="bold">=</text>
<text transform="translate(2078.28,493.42) scale(0.9877,1.0448)" font-family="'Liberation Sans',sans-serif" font-size="62.5" fill="#000">0.40</text>
<text transform="translate(1996.52,570.75) scale(1.0178,0.9253)" font-family="'Liberation Serif',serif" font-size="62.5" fill="#000" font-style="italic">ρ</text>
<text transform="translate(2043.40,569.59) scale(0.9610,0.6320)" font-family="'Liberation Sans',sans-serif" font-size="62.5" fill="#000" font-weight="bold">=</text>
<text transform="translate(2078.28,571.22) scale(0.9877,1.0448)" font-family="'Liberation Sans',sans-serif" font-size="62.5" fill="#000">0.70</text>
<text transform="translate(1996.52,654.25) scale(1.0178,0.9253)" font-family="'Liberation Serif',serif" font-size="62.5" fill="#000" font-style="italic">ρ</text>
<text transform="translate(2043.40,653.09) scale(0.9610,0.6320)" font-family="'Liberation Sans',sans-serif" font-size="62.5" fill="#000" font-weight="bold">=</text>
<text transform="translate(2080.27,654.72) scale(0.9710,1.0448)" font-family="'Liberation Sans',sans-serif" font-size="62.5" fill="#000">1.00</text>
</svg></body></html>
